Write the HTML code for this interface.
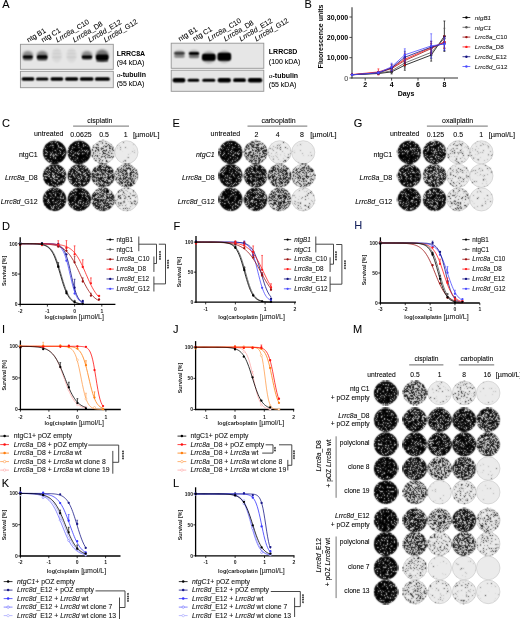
<!DOCTYPE html><html><head><meta charset="utf-8"><title>Figure</title><style>html,body{margin:0;padding:0;background:#fff;width:520px;height:619px;overflow:hidden}svg{display:block}text{font-family:"Liberation Sans",Arial,sans-serif;stroke:#000;stroke-width:0.14px;stroke-opacity:0.5}[font-weight=bold]{stroke:none}</style></head><body>
<svg width="520" height="619" viewBox="0 0 520 619">
<defs><filter id="bc" x="-30%" y="-100%" width="160%" height="300%"><feConvolveMatrix order="3" kernelMatrix="1 2 1 2 4 2 1 2 1"/></filter><filter id="bs" x="-50%" y="-100%" width="200%" height="300%"><feGaussianBlur stdDeviation="1.3"/></filter></defs>
<rect width="520" height="619" fill="#fff"/>
<text x="2.2" y="7.9" font-size="11">A</text>
<rect x="20.4" y="44.3" width="92.9" height="25" fill="#e6e6e6" stroke="#959595" stroke-width="0.9"/>
<rect x="20.4" y="71.3" width="92.9" height="16.4" fill="#e6e6e6" stroke="#959595" stroke-width="0.9"/>
<ellipse cx="27.8" cy="55" rx="5.25" ry="4" fill="#000" opacity="0.4" filter="url(#bs)"/>
<rect x="22.8" y="56.6" width="10" height="4" rx="2" fill="#000" opacity="0.5" filter="url(#bc)"/>
<rect x="22.8" y="55.4" width="10" height="2.8" rx="1.4" fill="#000" opacity="1" filter="url(#bc)"/>
<ellipse cx="42.2" cy="55" rx="5.5" ry="4" fill="#000" opacity="0.45" filter="url(#bs)"/>
<rect x="36.9" y="56.8" width="10.6" height="4" rx="2" fill="#000" opacity="0.55" filter="url(#bc)"/>
<rect x="36.8" y="55.25" width="10.8" height="3.3" rx="1.65" fill="#000" opacity="1" filter="url(#bc)"/>
<ellipse cx="56.8" cy="55.5" rx="5" ry="7" fill="#000" opacity="0.06" filter="url(#bs)"/>
<rect x="51.8" y="56.4" width="10" height="1.6" rx="0.8" fill="#000" opacity="0.05" filter="url(#bc)"/>
<rect x="52.3" y="52.9" width="9" height="1.2" rx="0.6" fill="#000" opacity="0.04" filter="url(#bc)"/>
<rect x="52.3" y="49.9" width="9" height="1.2" rx="0.6" fill="#000" opacity="0.04" filter="url(#bc)"/>
<ellipse cx="71.5" cy="55.5" rx="5" ry="7" fill="#000" opacity="0.06" filter="url(#bs)"/>
<rect x="66.5" y="56.4" width="10" height="1.6" rx="0.8" fill="#000" opacity="0.05" filter="url(#bc)"/>
<rect x="67" y="52.9" width="9" height="1.2" rx="0.6" fill="#000" opacity="0.04" filter="url(#bc)"/>
<rect x="67" y="49.9" width="9" height="1.2" rx="0.6" fill="#000" opacity="0.04" filter="url(#bc)"/>
<ellipse cx="87" cy="55" rx="5.25" ry="4" fill="#000" opacity="0.4" filter="url(#bs)"/>
<rect x="81.9" y="56.7" width="10.2" height="3.4" rx="1.7" fill="#000" opacity="0.35" filter="url(#bc)"/>
<rect x="81.75" y="55.6" width="10.5" height="2.8" rx="1.4" fill="#000" opacity="1" filter="url(#bc)"/>
<ellipse cx="102.2" cy="55.5" rx="6.5" ry="6" fill="#000" opacity="0.5" filter="url(#bs)"/>
<rect x="95.9" y="54.6" width="12.6" height="5.6" rx="2.2" fill="#000" opacity="1" filter="url(#bc)"/>
<rect x="96.2" y="59.5" width="12" height="2.4" rx="1.2" fill="#000" opacity="0.55" filter="url(#bc)"/>
<rect x="21.6" y="77.25" width="12.8" height="3.5" rx="1.75" fill="#000" opacity="1" filter="url(#bc)"/>
<rect x="36" y="77.5" width="12.4" height="3" rx="1.5" fill="#000" opacity="1" filter="url(#bc)"/>
<rect x="50.5" y="77.35" width="12.8" height="3.3" rx="1.65" fill="#000" opacity="1" filter="url(#bc)"/>
<rect x="65" y="77.25" width="13.2" height="3.5" rx="1.75" fill="#000" opacity="1" filter="url(#bc)"/>
<rect x="79.8" y="77.35" width="13.8" height="3.3" rx="1.65" fill="#000" opacity="1" filter="url(#bc)"/>
<rect x="94.9" y="77.15" width="15" height="3.7" rx="1.85" fill="#000" opacity="1" filter="url(#bc)"/>
<text x="116.7" y="55.8" font-size="7" font-weight="bold">LRRC8A</text>
<text x="116.7" y="64.6" font-size="7">(94 kDA)</text>
<text x="116.7" y="77.2" font-size="7" font-weight="bold"><tspan font-family="Liberation Serif" font-weight="normal">α</tspan>-tubulin</text>
<text x="116.7" y="86.2" font-size="7">(55 kDA)</text>
<text x="28.5" y="42.6" font-size="7.2" transform="rotate(-31 28.5 42.6)">ntg B1</text>
<text x="43" y="42.6" font-size="7.2" transform="rotate(-31 43 42.6)">ntg C1</text>
<text x="57.5" y="42.6" font-size="7.2" transform="rotate(-31 57.5 42.6)"><tspan font-style="italic">Lrrc8a</tspan>_C10</text>
<text x="74.5" y="42.6" font-size="7.2" transform="rotate(-31 74.5 42.6)"><tspan font-style="italic">Lrrc8a</tspan>_D8</text>
<text x="90" y="42.6" font-size="7.2" transform="rotate(-31 90 42.6)"><tspan font-style="italic">Lrrc8d</tspan>_E12</text>
<text x="105.5" y="42.6" font-size="7.2" transform="rotate(-31 105.5 42.6)"><tspan font-style="italic">Lrrc8d</tspan>_G12</text>
<rect x="171.2" y="43.2" width="92.6" height="25.1" fill="#e6e6e6" stroke="#959595" stroke-width="0.9"/>
<rect x="171.2" y="70.2" width="92.6" height="21.1" fill="#e6e6e6" stroke="#959595" stroke-width="0.9"/>
<ellipse cx="179.4" cy="53" rx="5.25" ry="3" fill="#000" opacity="0.2" filter="url(#bs)"/>
<rect x="174.1" y="54.4" width="10.6" height="3.6" rx="1.8" fill="#000" opacity="0.35" filter="url(#bc)"/>
<rect x="174.1" y="51.8" width="10.6" height="3" rx="1.5" fill="#000" opacity="0.65" filter="url(#bc)"/>
<ellipse cx="194" cy="53" rx="5.25" ry="3" fill="#000" opacity="0.25" filter="url(#bs)"/>
<rect x="188.8" y="54.7" width="10.4" height="3.6" rx="1.8" fill="#000" opacity="0.45" filter="url(#bc)"/>
<rect x="188.8" y="52.1" width="10.4" height="3" rx="1.5" fill="#000" opacity="0.97" filter="url(#bc)"/>
<ellipse cx="208.8" cy="57.2" rx="7" ry="6" fill="#000" opacity="0.3" filter="url(#bs)"/>
<rect x="202.05" y="53.7" width="13.5" height="7" rx="2.2" fill="#000" opacity="1" filter="url(#bc)"/>
<ellipse cx="224.3" cy="56.7" rx="7" ry="6" fill="#000" opacity="0.3" filter="url(#bs)"/>
<rect x="217.55" y="52.7" width="13.5" height="8" rx="2.2" fill="#000" opacity="1" filter="url(#bc)"/>
<rect x="172.6" y="77.9" width="12.8" height="4.6" rx="2.2" fill="#000" opacity="1" filter="url(#bc)"/>
<rect x="187.6" y="78.7" width="11.6" height="3" rx="1.5" fill="#000" opacity="1" filter="url(#bc)"/>
<rect x="202.3" y="78.65" width="13" height="3.1" rx="1.55" fill="#000" opacity="1" filter="url(#bc)"/>
<rect x="217.65" y="78" width="13.3" height="4.4" rx="2.2" fill="#000" opacity="1" filter="url(#bc)"/>
<rect x="233.1" y="78.35" width="12.8" height="3.7" rx="1.85" fill="#000" opacity="1" filter="url(#bc)"/>
<rect x="247.9" y="77.95" width="14.4" height="4.5" rx="2.2" fill="#000" opacity="1" filter="url(#bc)"/>
<text x="268.8" y="53.8" font-size="7" font-weight="bold">LRRC8D</text>
<text x="268.8" y="63.8" font-size="7">(100 kDA)</text>
<text x="268.8" y="78" font-size="7" font-weight="bold"><tspan font-family="Liberation Serif" font-weight="normal">α</tspan>-tubulin</text>
<text x="268.8" y="86.9" font-size="7">(55 kDA)</text>
<text x="180" y="41.4" font-size="7.2" transform="rotate(-31 180 41.4)">ntg B1</text>
<text x="194.5" y="41.4" font-size="7.2" transform="rotate(-31 194.5 41.4)">ntg C1</text>
<text x="209.5" y="41.4" font-size="7.2" transform="rotate(-31 209.5 41.4)"><tspan font-style="italic">Lrrc8a</tspan>_C10</text>
<text x="225.5" y="41.4" font-size="7.2" transform="rotate(-31 225.5 41.4)"><tspan font-style="italic">Lrrc8a</tspan>_D8</text>
<text x="241" y="41.4" font-size="7.2" transform="rotate(-31 241 41.4)"><tspan font-style="italic">Lrrc8d</tspan>_E12</text>
<text x="256.5" y="41.4" font-size="7.2" transform="rotate(-31 256.5 41.4)"><tspan font-style="italic">Lrrc8d</tspan>_G12</text>
<text x="304.6" y="7.6" font-size="11">B</text>
<line x1="352" y1="7.3" x2="352" y2="78.4" stroke="#333" stroke-width="1.1" />
<line x1="351.5" y1="78" x2="458" y2="78" stroke="#333" stroke-width="1.1" />
<line x1="349.4" y1="17" x2="352" y2="17" stroke="#333" stroke-width="0.9" />
<text x="348.2" y="19.5" font-size="7" text-anchor="end" font-weight="bold">30,000</text>
<line x1="349.4" y1="37.4" x2="352" y2="37.4" stroke="#333" stroke-width="0.9" />
<text x="348.2" y="39.9" font-size="7" text-anchor="end" font-weight="bold">20,000</text>
<line x1="349.4" y1="57.7" x2="352" y2="57.7" stroke="#333" stroke-width="0.9" />
<text x="348.2" y="60.2" font-size="7" text-anchor="end" font-weight="bold">10,000</text>
<line x1="349.4" y1="78" x2="352" y2="78" stroke="#333" stroke-width="0.9" />
<text x="348.2" y="80.5" font-size="7" text-anchor="end" fill="#555">0</text>
<line x1="365.2" y1="78" x2="365.2" y2="80.6" stroke="#333" stroke-width="0.9" />
<text x="365.2" y="87.2" font-size="7" text-anchor="middle" font-weight="bold">2</text>
<line x1="391.6" y1="78" x2="391.6" y2="80.6" stroke="#333" stroke-width="0.9" />
<text x="391.6" y="87.2" font-size="7" text-anchor="middle" font-weight="bold">4</text>
<line x1="418" y1="78" x2="418" y2="80.6" stroke="#333" stroke-width="0.9" />
<text x="418" y="87.2" font-size="7" text-anchor="middle" font-weight="bold">6</text>
<line x1="444.4" y1="78" x2="444.4" y2="80.6" stroke="#333" stroke-width="0.9" />
<text x="444.4" y="87.2" font-size="7" text-anchor="middle" font-weight="bold">8</text>
<text x="406" y="96.4" font-size="7" text-anchor="middle" font-weight="bold">Days</text>
<text x="323.4" y="36.5" font-size="7" text-anchor="middle" font-weight="bold" transform="rotate(-90 323.4 36.5)">Fluorescence units</text>
<line x1="378.4" y1="72.52" x2="378.4" y2="74.55" stroke="#000000" stroke-width="0.7" />
<line x1="377.4" y1="72.52" x2="379.4" y2="72.52" stroke="#000000" stroke-width="0.6" />
<line x1="377.4" y1="74.55" x2="379.4" y2="74.55" stroke="#000000" stroke-width="0.6" />
<line x1="391.6" y1="69.88" x2="391.6" y2="73.94" stroke="#000000" stroke-width="0.7" />
<line x1="390.6" y1="69.88" x2="392.6" y2="69.88" stroke="#000000" stroke-width="0.6" />
<line x1="390.6" y1="73.94" x2="392.6" y2="73.94" stroke="#000000" stroke-width="0.6" />
<line x1="404.8" y1="60.14" x2="404.8" y2="70.29" stroke="#000000" stroke-width="0.7" />
<line x1="403.8" y1="60.14" x2="405.8" y2="60.14" stroke="#000000" stroke-width="0.6" />
<line x1="403.8" y1="70.29" x2="405.8" y2="70.29" stroke="#000000" stroke-width="0.6" />
<line x1="431.2" y1="48.97" x2="431.2" y2="61.15" stroke="#000000" stroke-width="0.7" />
<line x1="430.2" y1="48.97" x2="432.2" y2="48.97" stroke="#000000" stroke-width="0.6" />
<line x1="430.2" y1="61.15" x2="432.2" y2="61.15" stroke="#000000" stroke-width="0.6" />
<line x1="444.4" y1="20.96" x2="444.4" y2="51.41" stroke="#000000" stroke-width="0.7" />
<line x1="443.4" y1="20.96" x2="445.4" y2="20.96" stroke="#000000" stroke-width="0.6" />
<line x1="443.4" y1="51.41" x2="445.4" y2="51.41" stroke="#000000" stroke-width="0.6" />
<polyline points="352,74.75 378.4,73.53 391.6,71.91 404.8,65.21 431.2,55.06 444.4,36.18" fill="none" stroke="#000000" stroke-width="0.8" />
<circle cx="352" cy="74.75" r="1.2" fill="#000000"/>
<circle cx="378.4" cy="73.53" r="1.2" fill="#000000"/>
<circle cx="391.6" cy="71.91" r="1.2" fill="#000000"/>
<circle cx="404.8" cy="65.21" r="1.2" fill="#000000"/>
<circle cx="431.2" cy="55.06" r="1.2" fill="#000000"/>
<circle cx="444.4" cy="36.18" r="1.2" fill="#000000"/>
<line x1="378.4" y1="72.11" x2="378.4" y2="74.14" stroke="#555555" stroke-width="0.7" />
<line x1="377.4" y1="72.11" x2="379.4" y2="72.11" stroke="#555555" stroke-width="0.6" />
<line x1="377.4" y1="74.14" x2="379.4" y2="74.14" stroke="#555555" stroke-width="0.6" />
<line x1="391.6" y1="68.86" x2="391.6" y2="72.92" stroke="#555555" stroke-width="0.7" />
<line x1="390.6" y1="68.86" x2="392.6" y2="68.86" stroke="#555555" stroke-width="0.6" />
<line x1="390.6" y1="72.92" x2="392.6" y2="72.92" stroke="#555555" stroke-width="0.6" />
<line x1="404.8" y1="57.9" x2="404.8" y2="68.05" stroke="#555555" stroke-width="0.7" />
<line x1="403.8" y1="57.9" x2="405.8" y2="57.9" stroke="#555555" stroke-width="0.6" />
<line x1="403.8" y1="68.05" x2="405.8" y2="68.05" stroke="#555555" stroke-width="0.6" />
<line x1="431.2" y1="46.33" x2="431.2" y2="58.51" stroke="#555555" stroke-width="0.7" />
<line x1="430.2" y1="46.33" x2="432.2" y2="46.33" stroke="#555555" stroke-width="0.6" />
<line x1="430.2" y1="58.51" x2="432.2" y2="58.51" stroke="#555555" stroke-width="0.6" />
<line x1="444.4" y1="28.27" x2="444.4" y2="48.57" stroke="#555555" stroke-width="0.7" />
<line x1="443.4" y1="28.27" x2="445.4" y2="28.27" stroke="#555555" stroke-width="0.6" />
<line x1="443.4" y1="48.57" x2="445.4" y2="48.57" stroke="#555555" stroke-width="0.6" />
<polyline points="352,74.75 378.4,73.13 391.6,70.89 404.8,62.98 431.2,52.42 444.4,38.42" fill="none" stroke="#555555" stroke-width="0.8" />
<circle cx="352" cy="74.75" r="1.2" fill="#555555"/>
<circle cx="378.4" cy="73.13" r="1.2" fill="#555555"/>
<circle cx="391.6" cy="70.89" r="1.2" fill="#555555"/>
<circle cx="404.8" cy="62.98" r="1.2" fill="#555555"/>
<circle cx="431.2" cy="52.42" r="1.2" fill="#555555"/>
<circle cx="444.4" cy="38.42" r="1.2" fill="#555555"/>
<line x1="378.4" y1="71.5" x2="378.4" y2="73.53" stroke="#9b1111" stroke-width="0.7" />
<line x1="377.4" y1="71.5" x2="379.4" y2="71.5" stroke="#9b1111" stroke-width="0.6" />
<line x1="377.4" y1="73.53" x2="379.4" y2="73.53" stroke="#9b1111" stroke-width="0.6" />
<line x1="391.6" y1="66.23" x2="391.6" y2="71.1" stroke="#9b1111" stroke-width="0.7" />
<line x1="390.6" y1="66.23" x2="392.6" y2="66.23" stroke="#9b1111" stroke-width="0.6" />
<line x1="390.6" y1="71.1" x2="392.6" y2="71.1" stroke="#9b1111" stroke-width="0.6" />
<line x1="404.8" y1="55.47" x2="404.8" y2="65.62" stroke="#9b1111" stroke-width="0.7" />
<line x1="403.8" y1="55.47" x2="405.8" y2="55.47" stroke="#9b1111" stroke-width="0.6" />
<line x1="403.8" y1="65.62" x2="405.8" y2="65.62" stroke="#9b1111" stroke-width="0.6" />
<line x1="431.2" y1="43.49" x2="431.2" y2="53.64" stroke="#9b1111" stroke-width="0.7" />
<line x1="430.2" y1="43.49" x2="432.2" y2="43.49" stroke="#9b1111" stroke-width="0.6" />
<line x1="430.2" y1="53.64" x2="432.2" y2="53.64" stroke="#9b1111" stroke-width="0.6" />
<line x1="444.4" y1="35.78" x2="444.4" y2="47.96" stroke="#9b1111" stroke-width="0.7" />
<line x1="443.4" y1="35.78" x2="445.4" y2="35.78" stroke="#9b1111" stroke-width="0.6" />
<line x1="443.4" y1="47.96" x2="445.4" y2="47.96" stroke="#9b1111" stroke-width="0.6" />
<polyline points="352,74.75 378.4,72.52 391.6,68.66 404.8,60.54 431.2,48.56 444.4,41.87" fill="none" stroke="#9b1111" stroke-width="0.8" />
<circle cx="352" cy="74.75" r="1.2" fill="#9b1111"/>
<circle cx="378.4" cy="72.52" r="1.2" fill="#9b1111"/>
<circle cx="391.6" cy="68.66" r="1.2" fill="#9b1111"/>
<circle cx="404.8" cy="60.54" r="1.2" fill="#9b1111"/>
<circle cx="431.2" cy="48.56" r="1.2" fill="#9b1111"/>
<circle cx="444.4" cy="41.87" r="1.2" fill="#9b1111"/>
<line x1="378.4" y1="68.86" x2="378.4" y2="74.95" stroke="#ff1a1a" stroke-width="0.7" />
<line x1="377.4" y1="68.86" x2="379.4" y2="68.86" stroke="#ff1a1a" stroke-width="0.6" />
<line x1="377.4" y1="74.95" x2="379.4" y2="74.95" stroke="#ff1a1a" stroke-width="0.6" />
<line x1="391.6" y1="64.8" x2="391.6" y2="70.89" stroke="#ff1a1a" stroke-width="0.7" />
<line x1="390.6" y1="64.8" x2="392.6" y2="64.8" stroke="#ff1a1a" stroke-width="0.6" />
<line x1="390.6" y1="70.89" x2="392.6" y2="70.89" stroke="#ff1a1a" stroke-width="0.6" />
<line x1="404.8" y1="53.23" x2="404.8" y2="65.41" stroke="#ff1a1a" stroke-width="0.7" />
<line x1="403.8" y1="53.23" x2="405.8" y2="53.23" stroke="#ff1a1a" stroke-width="0.6" />
<line x1="403.8" y1="65.41" x2="405.8" y2="65.41" stroke="#ff1a1a" stroke-width="0.6" />
<line x1="431.2" y1="41.46" x2="431.2" y2="53.64" stroke="#ff1a1a" stroke-width="0.7" />
<line x1="430.2" y1="41.46" x2="432.2" y2="41.46" stroke="#ff1a1a" stroke-width="0.6" />
<line x1="430.2" y1="53.64" x2="432.2" y2="53.64" stroke="#ff1a1a" stroke-width="0.6" />
<line x1="444.4" y1="36.18" x2="444.4" y2="48.36" stroke="#ff1a1a" stroke-width="0.7" />
<line x1="443.4" y1="36.18" x2="445.4" y2="36.18" stroke="#ff1a1a" stroke-width="0.6" />
<line x1="443.4" y1="48.36" x2="445.4" y2="48.36" stroke="#ff1a1a" stroke-width="0.6" />
<polyline points="352,74.55 378.4,71.91 391.6,67.85 404.8,59.32 431.2,47.55 444.4,42.27" fill="none" stroke="#ff1a1a" stroke-width="0.8" />
<circle cx="352" cy="74.55" r="1.2" fill="#ff1a1a"/>
<circle cx="378.4" cy="71.91" r="1.2" fill="#ff1a1a"/>
<circle cx="391.6" cy="67.85" r="1.2" fill="#ff1a1a"/>
<circle cx="404.8" cy="59.32" r="1.2" fill="#ff1a1a"/>
<circle cx="431.2" cy="47.55" r="1.2" fill="#ff1a1a"/>
<circle cx="444.4" cy="42.27" r="1.2" fill="#ff1a1a"/>
<line x1="378.4" y1="71.91" x2="378.4" y2="73.94" stroke="#101080" stroke-width="0.7" />
<line x1="377.4" y1="71.91" x2="379.4" y2="71.91" stroke="#101080" stroke-width="0.6" />
<line x1="377.4" y1="73.94" x2="379.4" y2="73.94" stroke="#101080" stroke-width="0.6" />
<line x1="391.6" y1="64.2" x2="391.6" y2="71.5" stroke="#101080" stroke-width="0.7" />
<line x1="390.6" y1="64.2" x2="392.6" y2="64.2" stroke="#101080" stroke-width="0.6" />
<line x1="390.6" y1="71.5" x2="392.6" y2="71.5" stroke="#101080" stroke-width="0.6" />
<line x1="404.8" y1="51.2" x2="404.8" y2="63.38" stroke="#101080" stroke-width="0.7" />
<line x1="403.8" y1="51.2" x2="405.8" y2="51.2" stroke="#101080" stroke-width="0.6" />
<line x1="403.8" y1="63.38" x2="405.8" y2="63.38" stroke="#101080" stroke-width="0.6" />
<line x1="431.2" y1="41.05" x2="431.2" y2="53.23" stroke="#101080" stroke-width="0.7" />
<line x1="430.2" y1="41.05" x2="432.2" y2="41.05" stroke="#101080" stroke-width="0.6" />
<line x1="430.2" y1="53.23" x2="432.2" y2="53.23" stroke="#101080" stroke-width="0.6" />
<line x1="444.4" y1="36.39" x2="444.4" y2="50.59" stroke="#101080" stroke-width="0.7" />
<line x1="443.4" y1="36.39" x2="445.4" y2="36.39" stroke="#101080" stroke-width="0.6" />
<line x1="443.4" y1="50.59" x2="445.4" y2="50.59" stroke="#101080" stroke-width="0.6" />
<polyline points="352,74.75 378.4,72.92 391.6,67.85 404.8,57.29 431.2,47.14 444.4,43.49" fill="none" stroke="#101080" stroke-width="0.8" />
<circle cx="352" cy="74.75" r="1.2" fill="#101080"/>
<circle cx="378.4" cy="72.92" r="1.2" fill="#101080"/>
<circle cx="391.6" cy="67.85" r="1.2" fill="#101080"/>
<circle cx="404.8" cy="57.29" r="1.2" fill="#101080"/>
<circle cx="431.2" cy="47.14" r="1.2" fill="#101080"/>
<circle cx="444.4" cy="43.49" r="1.2" fill="#101080"/>
<line x1="378.4" y1="71.71" x2="378.4" y2="73.74" stroke="#4a4aff" stroke-width="0.7" />
<line x1="377.4" y1="71.71" x2="379.4" y2="71.71" stroke="#4a4aff" stroke-width="0.6" />
<line x1="377.4" y1="73.74" x2="379.4" y2="73.74" stroke="#4a4aff" stroke-width="0.6" />
<line x1="391.6" y1="63.18" x2="391.6" y2="70.49" stroke="#4a4aff" stroke-width="0.7" />
<line x1="390.6" y1="63.18" x2="392.6" y2="63.18" stroke="#4a4aff" stroke-width="0.6" />
<line x1="390.6" y1="70.49" x2="392.6" y2="70.49" stroke="#4a4aff" stroke-width="0.6" />
<line x1="404.8" y1="48.77" x2="404.8" y2="60.95" stroke="#4a4aff" stroke-width="0.7" />
<line x1="403.8" y1="48.77" x2="405.8" y2="48.77" stroke="#4a4aff" stroke-width="0.6" />
<line x1="403.8" y1="60.95" x2="405.8" y2="60.95" stroke="#4a4aff" stroke-width="0.6" />
<line x1="431.2" y1="33.75" x2="431.2" y2="58.11" stroke="#4a4aff" stroke-width="0.7" />
<line x1="430.2" y1="33.75" x2="432.2" y2="33.75" stroke="#4a4aff" stroke-width="0.6" />
<line x1="430.2" y1="58.11" x2="432.2" y2="58.11" stroke="#4a4aff" stroke-width="0.6" />
<line x1="444.4" y1="37.81" x2="444.4" y2="49.99" stroke="#4a4aff" stroke-width="0.7" />
<line x1="443.4" y1="37.81" x2="445.4" y2="37.81" stroke="#4a4aff" stroke-width="0.6" />
<line x1="443.4" y1="49.99" x2="445.4" y2="49.99" stroke="#4a4aff" stroke-width="0.6" />
<polyline points="352,74.75 378.4,72.72 391.6,66.84 404.8,54.86 431.2,45.93 444.4,43.9" fill="none" stroke="#4a4aff" stroke-width="0.8" />
<circle cx="352" cy="74.75" r="1.2" fill="#4a4aff"/>
<circle cx="378.4" cy="72.72" r="1.2" fill="#4a4aff"/>
<circle cx="391.6" cy="66.84" r="1.2" fill="#4a4aff"/>
<circle cx="404.8" cy="54.86" r="1.2" fill="#4a4aff"/>
<circle cx="431.2" cy="45.93" r="1.2" fill="#4a4aff"/>
<circle cx="444.4" cy="43.9" r="1.2" fill="#4a4aff"/>
<line x1="462.5" y1="17.5" x2="470.3" y2="17.5" stroke="#000000" stroke-width="0.8" />
<circle cx="466.4" cy="17.5" r="1.2" fill="#000000"/>
<text x="474.8" y="19.7" font-size="6.2" fill="#222"><tspan font-style="italic">ntgB1</tspan></text>
<line x1="462.5" y1="27.3" x2="470.3" y2="27.3" stroke="#555555" stroke-width="0.8" />
<circle cx="466.4" cy="27.3" r="1.2" fill="#555555"/>
<text x="474.8" y="29.5" font-size="6.2" fill="#222"><tspan font-style="italic">ntgC1</tspan></text>
<line x1="462.5" y1="37.1" x2="470.3" y2="37.1" stroke="#9b1111" stroke-width="0.8" />
<circle cx="466.4" cy="37.1" r="1.2" fill="#9b1111"/>
<text x="474.8" y="39.3" font-size="6.2" fill="#222"><tspan font-style="italic">Lrrc8a</tspan>_C10</text>
<line x1="462.5" y1="46.9" x2="470.3" y2="46.9" stroke="#ff1a1a" stroke-width="0.8" />
<circle cx="466.4" cy="46.9" r="1.2" fill="#ff1a1a"/>
<text x="474.8" y="49.1" font-size="6.2" fill="#222"><tspan font-style="italic">Lrrc8a</tspan>_D8</text>
<line x1="462.5" y1="56.7" x2="470.3" y2="56.7" stroke="#101080" stroke-width="0.8" />
<circle cx="466.4" cy="56.7" r="1.2" fill="#101080"/>
<text x="474.8" y="58.9" font-size="6.2" fill="#222"><tspan font-style="italic">Lrrc8d</tspan>_E12</text>
<line x1="462.5" y1="66.5" x2="470.3" y2="66.5" stroke="#4a4aff" stroke-width="0.8" />
<circle cx="466.4" cy="66.5" r="1.2" fill="#4a4aff"/>
<text x="474.8" y="68.7" font-size="6.2" fill="#222"><tspan font-style="italic">Lrrc8d</tspan>_G12</text>
<text x="2" y="127" font-size="11">C</text>
<text x="48.7" y="135.8" font-size="7" text-anchor="middle">untreated</text>
<text x="81" y="136.6" font-size="7" text-anchor="middle">0.0625</text>
<text x="104" y="136.6" font-size="7" text-anchor="middle">0.5</text>
<text x="125.6" y="136.6" font-size="7" text-anchor="middle">1</text>
<text x="133" y="136.6" font-size="7.4">[µmol/L]</text>
<text x="99.8" y="122.9" font-size="7" text-anchor="middle">cisplatin</text>
<line x1="73.1" y1="126.1" x2="129" y2="126.1" stroke="#333" stroke-width="0.7" />
<text x="37.6" y="156.7" font-size="7" text-anchor="end">ntgC1</text>
<text x="37.6" y="180.2" font-size="7" text-anchor="end"><tspan font-style="italic">Lrrc8a</tspan>_D8</text>
<text x="37.6" y="203.8" font-size="7" text-anchor="end"><tspan font-style="italic">Lrrc8d</tspan>_G12</text>
<circle cx="54.6" cy="152.3" r="11.6" fill="#ebebeb" stroke="#bdbdbd" stroke-width="0.5"/>
<circle cx="54.6" cy="152.3" r="11.6" fill="#1a1a1a" filter="url(#w0)"/>
<circle cx="79.3" cy="152.3" r="11.6" fill="#ebebeb" stroke="#bdbdbd" stroke-width="0.5"/>
<circle cx="79.3" cy="152.3" r="11.6" fill="#1a1a1a" filter="url(#w1)"/>
<circle cx="103" cy="152.3" r="11.6" fill="#ebebeb" stroke="#bdbdbd" stroke-width="0.5"/>
<circle cx="103" cy="152.3" r="11.6" fill="#1a1a1a" filter="url(#w2)"/>
<circle cx="126.4" cy="152.3" r="11.6" fill="#ebebeb" stroke="#bdbdbd" stroke-width="0.5"/>
<circle cx="126.4" cy="152.3" r="11.6" fill="#1a1a1a" filter="url(#w3)"/>
<circle cx="54.6" cy="175.8" r="11.6" fill="#ebebeb" stroke="#bdbdbd" stroke-width="0.5"/>
<circle cx="54.6" cy="175.8" r="11.6" fill="#1a1a1a" filter="url(#w4)"/>
<circle cx="79.3" cy="175.8" r="11.6" fill="#ebebeb" stroke="#bdbdbd" stroke-width="0.5"/>
<circle cx="79.3" cy="175.8" r="11.6" fill="#1a1a1a" filter="url(#w4)"/>
<circle cx="103" cy="175.8" r="11.6" fill="#ebebeb" stroke="#bdbdbd" stroke-width="0.5"/>
<circle cx="103" cy="175.8" r="11.6" fill="#1a1a1a" filter="url(#w5)"/>
<circle cx="126.4" cy="175.8" r="11.6" fill="#ebebeb" stroke="#bdbdbd" stroke-width="0.5"/>
<circle cx="126.4" cy="175.8" r="11.6" fill="#1a1a1a" filter="url(#w6)"/>
<circle cx="54.6" cy="199.4" r="11.6" fill="#ebebeb" stroke="#bdbdbd" stroke-width="0.5"/>
<circle cx="54.6" cy="199.4" r="11.6" fill="#1a1a1a" filter="url(#w0)"/>
<circle cx="79.3" cy="199.4" r="11.6" fill="#ebebeb" stroke="#bdbdbd" stroke-width="0.5"/>
<circle cx="79.3" cy="199.4" r="11.6" fill="#1a1a1a" filter="url(#w7)"/>
<circle cx="103" cy="199.4" r="11.6" fill="#ebebeb" stroke="#bdbdbd" stroke-width="0.5"/>
<circle cx="103" cy="199.4" r="11.6" fill="#1a1a1a" filter="url(#w8)"/>
<circle cx="126.4" cy="199.4" r="11.6" fill="#ebebeb" stroke="#bdbdbd" stroke-width="0.5"/>
<circle cx="126.4" cy="199.4" r="11.6" fill="#1a1a1a" filter="url(#w9)"/>
<text x="172.5" y="127" font-size="11">E</text>
<text x="225.4" y="135.8" font-size="7" text-anchor="middle">untreated</text>
<text x="256.5" y="136.6" font-size="7" text-anchor="middle">2</text>
<text x="277.7" y="136.6" font-size="7" text-anchor="middle">4</text>
<text x="302" y="136.6" font-size="7" text-anchor="middle">8</text>
<text x="310.2" y="136.6" font-size="7.4">[µmol/L]</text>
<text x="278.5" y="122.9" font-size="7" text-anchor="middle">carboplatin</text>
<line x1="247.5" y1="126.1" x2="307.3" y2="126.1" stroke="#333" stroke-width="0.7" />
<text x="214.6" y="156.7" font-size="7" text-anchor="end"><tspan font-style="italic">ntgC1</tspan></text>
<text x="214.6" y="180.2" font-size="7" text-anchor="end"><tspan font-style="italic">Lrrc8a</tspan>_D8</text>
<text x="214.6" y="203.8" font-size="7" text-anchor="end"><tspan font-style="italic">Lrrc8d</tspan>_G12</text>
<circle cx="230.8" cy="152.3" r="11.6" fill="#ebebeb" stroke="#bdbdbd" stroke-width="0.5"/>
<circle cx="230.8" cy="152.3" r="11.6" fill="#1a1a1a" filter="url(#w0)"/>
<circle cx="255.7" cy="152.3" r="11.6" fill="#ebebeb" stroke="#bdbdbd" stroke-width="0.5"/>
<circle cx="255.7" cy="152.3" r="11.6" fill="#1a1a1a" filter="url(#w10)"/>
<circle cx="279.6" cy="152.3" r="11.6" fill="#ebebeb" stroke="#bdbdbd" stroke-width="0.5"/>
<circle cx="279.6" cy="152.3" r="11.6" fill="#1a1a1a" filter="url(#w11)"/>
<circle cx="303.2" cy="152.3" r="11.6" fill="#ebebeb" stroke="#bdbdbd" stroke-width="0.5"/>
<circle cx="303.2" cy="152.3" r="11.6" fill="#1a1a1a" filter="url(#w12)"/>
<circle cx="230.8" cy="175.8" r="11.6" fill="#ebebeb" stroke="#bdbdbd" stroke-width="0.5"/>
<circle cx="230.8" cy="175.8" r="11.6" fill="#1a1a1a" filter="url(#w7)"/>
<circle cx="255.7" cy="175.8" r="11.6" fill="#ebebeb" stroke="#bdbdbd" stroke-width="0.5"/>
<circle cx="255.7" cy="175.8" r="11.6" fill="#1a1a1a" filter="url(#w13)"/>
<circle cx="279.6" cy="175.8" r="11.6" fill="#ebebeb" stroke="#bdbdbd" stroke-width="0.5"/>
<circle cx="279.6" cy="175.8" r="11.6" fill="#1a1a1a" filter="url(#w10)"/>
<circle cx="303.2" cy="175.8" r="11.6" fill="#ebebeb" stroke="#bdbdbd" stroke-width="0.5"/>
<circle cx="303.2" cy="175.8" r="11.6" fill="#1a1a1a" filter="url(#w14)"/>
<circle cx="230.8" cy="199.4" r="11.6" fill="#ebebeb" stroke="#bdbdbd" stroke-width="0.5"/>
<circle cx="230.8" cy="199.4" r="11.6" fill="#1a1a1a" filter="url(#w0)"/>
<circle cx="255.7" cy="199.4" r="11.6" fill="#ebebeb" stroke="#bdbdbd" stroke-width="0.5"/>
<circle cx="255.7" cy="199.4" r="11.6" fill="#1a1a1a" filter="url(#w15)"/>
<circle cx="279.6" cy="199.4" r="11.6" fill="#ebebeb" stroke="#bdbdbd" stroke-width="0.5"/>
<circle cx="279.6" cy="199.4" r="11.6" fill="#1a1a1a" filter="url(#w16)"/>
<circle cx="303.2" cy="199.4" r="11.6" fill="#ebebeb" stroke="#bdbdbd" stroke-width="0.5"/>
<circle cx="303.2" cy="199.4" r="11.6" fill="#1a1a1a" filter="url(#w17)"/>
<text x="353.8" y="127" font-size="11">G</text>
<text x="404.7" y="135.8" font-size="7" text-anchor="middle">untreated</text>
<text x="435.4" y="136.6" font-size="7" text-anchor="middle">0.125</text>
<text x="458.2" y="136.6" font-size="7" text-anchor="middle">0.5</text>
<text x="481.3" y="136.6" font-size="7" text-anchor="middle">1</text>
<text x="488.7" y="136.6" font-size="7.4">[µmol/L]</text>
<text x="457.6" y="122.9" font-size="7" text-anchor="middle">oxaliplatin</text>
<line x1="426.9" y1="126.1" x2="487.8" y2="126.1" stroke="#333" stroke-width="0.7" />
<text x="392.2" y="156.7" font-size="7" text-anchor="end">ntgC1</text>
<text x="392.2" y="180.2" font-size="7" text-anchor="end"><tspan font-style="italic">Lrrc8a</tspan>_D8</text>
<text x="392.2" y="203.8" font-size="7" text-anchor="end"><tspan font-style="italic">Lrrc8d</tspan>_G12</text>
<circle cx="409.3" cy="152.3" r="11.6" fill="#ebebeb" stroke="#bdbdbd" stroke-width="0.5"/>
<circle cx="409.3" cy="152.3" r="11.6" fill="#1a1a1a" filter="url(#w0)"/>
<circle cx="434.6" cy="152.3" r="11.6" fill="#ebebeb" stroke="#bdbdbd" stroke-width="0.5"/>
<circle cx="434.6" cy="152.3" r="11.6" fill="#1a1a1a" filter="url(#w18)"/>
<circle cx="458.2" cy="152.3" r="11.6" fill="#ebebeb" stroke="#bdbdbd" stroke-width="0.5"/>
<circle cx="458.2" cy="152.3" r="11.6" fill="#1a1a1a" filter="url(#w19)"/>
<circle cx="481.4" cy="152.3" r="11.6" fill="#ebebeb" stroke="#bdbdbd" stroke-width="0.5"/>
<circle cx="481.4" cy="152.3" r="11.6" fill="#1a1a1a" filter="url(#w20)"/>
<circle cx="409.3" cy="175.8" r="11.6" fill="#ebebeb" stroke="#bdbdbd" stroke-width="0.5"/>
<circle cx="409.3" cy="175.8" r="11.6" fill="#1a1a1a" filter="url(#w21)"/>
<circle cx="434.6" cy="175.8" r="11.6" fill="#ebebeb" stroke="#bdbdbd" stroke-width="0.5"/>
<circle cx="434.6" cy="175.8" r="11.6" fill="#1a1a1a" filter="url(#w22)"/>
<circle cx="458.2" cy="175.8" r="11.6" fill="#ebebeb" stroke="#bdbdbd" stroke-width="0.5"/>
<circle cx="458.2" cy="175.8" r="11.6" fill="#1a1a1a" filter="url(#w19)"/>
<circle cx="481.4" cy="175.8" r="11.6" fill="#ebebeb" stroke="#bdbdbd" stroke-width="0.5"/>
<circle cx="481.4" cy="175.8" r="11.6" fill="#1a1a1a" filter="url(#w11)"/>
<circle cx="409.3" cy="199.4" r="11.6" fill="#ebebeb" stroke="#bdbdbd" stroke-width="0.5"/>
<circle cx="409.3" cy="199.4" r="11.6" fill="#1a1a1a" filter="url(#w0)"/>
<circle cx="434.6" cy="199.4" r="11.6" fill="#ebebeb" stroke="#bdbdbd" stroke-width="0.5"/>
<circle cx="434.6" cy="199.4" r="11.6" fill="#1a1a1a" filter="url(#w18)"/>
<circle cx="458.2" cy="199.4" r="11.6" fill="#ebebeb" stroke="#bdbdbd" stroke-width="0.5"/>
<circle cx="458.2" cy="199.4" r="11.6" fill="#1a1a1a" filter="url(#w23)"/>
<circle cx="481.4" cy="199.4" r="11.6" fill="#ebebeb" stroke="#bdbdbd" stroke-width="0.5"/>
<circle cx="481.4" cy="199.4" r="11.6" fill="#1a1a1a" filter="url(#w24)"/>
<text x="2" y="229.6" font-size="11">D</text>
<line x1="20.2" y1="237.2" x2="20.2" y2="305" stroke="#000" stroke-width="1.3" />
<line x1="19.6" y1="304.4" x2="115.4" y2="304.4" stroke="#000" stroke-width="1.3" />
<line x1="18" y1="243.7" x2="20.2" y2="243.7" stroke="#000" stroke-width="0.8" />
<text x="17.6" y="245.5" font-size="5" text-anchor="end" font-weight="bold" fill="#222">100</text>
<line x1="18" y1="274.05" x2="20.2" y2="274.05" stroke="#000" stroke-width="0.8" />
<text x="17.6" y="275.85" font-size="5" text-anchor="end" font-weight="bold" fill="#222">50</text>
<line x1="18" y1="304.4" x2="20.2" y2="304.4" stroke="#000" stroke-width="0.8" />
<text x="17.6" y="306.2" font-size="5" text-anchor="end" font-weight="bold" fill="#222">0</text>
<line x1="20.2" y1="304.4" x2="20.2" y2="306.6" stroke="#000" stroke-width="0.8" />
<text x="20.2" y="312.8" font-size="5" text-anchor="middle" font-weight="bold" fill="#222">-2</text>
<line x1="47.4" y1="304.4" x2="47.4" y2="306.6" stroke="#000" stroke-width="0.8" />
<text x="47.4" y="312.8" font-size="5" text-anchor="middle" font-weight="bold" fill="#222">-1</text>
<line x1="74.6" y1="304.4" x2="74.6" y2="306.6" stroke="#000" stroke-width="0.8" />
<text x="74.6" y="312.8" font-size="5" text-anchor="middle" font-weight="bold" fill="#222">0</text>
<line x1="101.8" y1="304.4" x2="101.8" y2="306.6" stroke="#000" stroke-width="0.8" />
<text x="101.8" y="312.8" font-size="5" text-anchor="middle" font-weight="bold" fill="#222">1</text>
<text x="6.2" y="270.9" font-size="5.3" text-anchor="middle" font-weight="bold" fill="#222" transform="rotate(-90 6.2 270.9)">Survival [%]</text>
<text x="74.2" y="319.1" font-size="5.5" text-anchor="middle" fill="#222"><tspan font-weight="bold">log(cisplatin</tspan><tspan font-size="7"> [µmol/L]</tspan></text>
<polyline points="20.2,243.7 20.98,243.7 21.76,243.7 22.55,243.7 23.33,243.7 24.11,243.7 24.89,243.7 25.67,243.7 26.46,243.7 27.24,243.7 28.02,243.7 28.8,243.7 29.58,243.7 30.37,243.7 31.15,243.7 31.93,243.7 32.71,243.7 33.49,243.7 34.28,243.7 35.06,243.7 35.84,243.7 36.62,243.7 37.4,243.71 38.19,243.71 38.97,243.71 39.75,243.71 40.53,243.71 41.31,243.72 42.1,243.72 42.88,243.72 43.66,243.73 44.44,243.74 45.22,243.75 46.01,243.76 46.79,243.78 47.57,243.8 48.35,243.82 49.13,243.85 49.92,243.89 50.7,243.94 51.48,243.99 52.26,244.07 53.04,244.16 53.83,244.28 54.61,244.42 55.39,244.6 56.17,244.82 56.95,245.1 57.74,245.44 58.52,245.86 59.3,246.39 60.08,247.03 60.86,247.81 61.65,248.76 62.43,249.91 63.21,251.28 63.99,252.9 64.77,254.8 65.56,256.99 66.34,259.47 67.12,262.23 67.9,265.25 68.68,268.47 69.47,271.83 70.25,275.24 71.03,278.62 71.81,281.89 72.59,284.97 73.38,287.82 74.16,290.39 74.94,292.67 75.72,294.65 76.5,296.36 77.29,297.8 78.07,299.01 78.85,300.02 79.63,300.85 80.41,301.53 81.2,302.09 81.98,302.54 82.76,302.91" fill="none" stroke="#4a4aff" stroke-width="0.8" />
<circle cx="20.2" cy="243.09" r="1.15" fill="#4a4aff"/>
<circle cx="41.96" cy="243.09" r="1.15" fill="#4a4aff"/>
<circle cx="58.28" cy="245.78" r="1.15" fill="#4a4aff"/>
<circle cx="66.44" cy="260.68" r="1.15" fill="#4a4aff"/>
<line x1="74.6" y1="289.89" x2="74.6" y2="293.53" stroke="#4a4aff" stroke-width="0.7" />
<line x1="73.7" y1="289.89" x2="75.5" y2="289.89" stroke="#4a4aff" stroke-width="0.6" />
<circle cx="74.6" cy="293.53" r="1.15" fill="#4a4aff"/>
<circle cx="82.76" cy="302.31" r="1.15" fill="#4a4aff"/>
<polyline points="20.2,243.7 20.98,243.7 21.76,243.7 22.55,243.7 23.33,243.7 24.11,243.7 24.89,243.7 25.67,243.7 26.46,243.7 27.24,243.7 28.02,243.7 28.8,243.7 29.58,243.7 30.37,243.7 31.15,243.7 31.93,243.7 32.71,243.7 33.49,243.7 34.28,243.7 35.06,243.7 35.84,243.7 36.62,243.7 37.4,243.7 38.19,243.7 38.97,243.7 39.75,243.71 40.53,243.71 41.31,243.71 42.1,243.71 42.88,243.71 43.66,243.72 44.44,243.72 45.22,243.73 46.01,243.74 46.79,243.75 47.57,243.76 48.35,243.77 49.13,243.79 49.92,243.82 50.7,243.85 51.48,243.88 52.26,243.93 53.04,243.99 53.83,244.07 54.61,244.16 55.39,244.28 56.17,244.43 56.95,244.61 57.74,244.85 58.52,245.14 59.3,245.5 60.08,245.96 60.86,246.52 61.65,247.21 62.43,248.06 63.21,249.1 63.99,250.35 64.77,251.85 65.56,253.63 66.34,255.7 67.12,258.09 67.9,260.79 68.68,263.77 69.47,267 70.25,270.4 71.03,273.9 71.81,277.4 72.59,280.81 73.38,284.06 74.16,287.06 74.94,289.78 75.72,292.2 76.5,294.3 77.29,296.11 78.07,297.63 78.85,298.9 79.63,299.96 80.41,300.82 81.2,301.53 81.98,302.1 82.76,302.56" fill="none" stroke="#101080" stroke-width="0.8" />
<circle cx="20.2" cy="243.25" r="1.15" fill="#101080"/>
<circle cx="41.96" cy="243.09" r="1.15" fill="#101080"/>
<circle cx="58.28" cy="243.97" r="1.15" fill="#101080"/>
<circle cx="66.44" cy="254.39" r="1.15" fill="#101080"/>
<line x1="74.6" y1="279.27" x2="74.6" y2="287.76" stroke="#101080" stroke-width="0.7" />
<line x1="73.7" y1="279.27" x2="75.5" y2="279.27" stroke="#101080" stroke-width="0.6" />
<circle cx="74.6" cy="287.76" r="1.15" fill="#101080"/>
<circle cx="82.76" cy="301.02" r="1.15" fill="#101080"/>
<polyline points="20.2,243.71 21.19,243.71 22.17,243.71 23.16,243.72 24.14,243.72 25.13,243.72 26.12,243.73 27.1,243.73 28.09,243.73 29.07,243.74 30.06,243.75 31.05,243.75 32.03,243.76 33.02,243.77 34,243.78 34.99,243.79 35.98,243.81 36.96,243.82 37.95,243.84 38.93,243.86 39.92,243.89 40.91,243.92 41.89,243.95 42.88,243.99 43.86,244.03 44.85,244.08 45.84,244.14 46.82,244.21 47.81,244.28 48.79,244.37 49.78,244.47 50.77,244.59 51.75,244.72 52.74,244.87 53.72,245.04 54.71,245.24 55.7,245.47 56.68,245.73 57.67,246.03 58.65,246.37 59.64,246.76 60.63,247.2 61.61,247.7 62.6,248.26 63.58,248.9 64.57,249.61 65.56,250.41 66.54,251.31 67.53,252.31 68.51,253.41 69.5,254.62 70.49,255.95 71.47,257.4 72.46,258.96 73.44,260.64 74.43,262.42 75.42,264.31 76.4,266.28 77.39,268.33 78.37,270.43 79.36,272.57 80.35,274.72 81.33,276.86 82.32,278.98 83.3,281.05 84.29,283.05 85.28,284.97 86.26,286.8 87.25,288.52 88.23,290.12 89.22,291.61 90.21,292.99 91.19,294.25 92.18,295.39 93.16,296.42 94.15,297.36 95.14,298.19 96.12,298.94 97.11,299.61 98.09,300.2 99.08,300.72" fill="none" stroke="#9b1111" stroke-width="0.8" />
<circle cx="20.2" cy="244.67" r="1.15" fill="#9b1111"/>
<circle cx="41.96" cy="243.79" r="1.15" fill="#9b1111"/>
<circle cx="58.28" cy="246.71" r="1.15" fill="#9b1111"/>
<line x1="66.44" y1="247.8" x2="66.44" y2="250.83" stroke="#9b1111" stroke-width="0.7" />
<line x1="65.54" y1="247.8" x2="67.34" y2="247.8" stroke="#9b1111" stroke-width="0.6" />
<circle cx="66.44" cy="250.83" r="1.15" fill="#9b1111"/>
<line x1="74.6" y1="256.21" x2="74.6" y2="262.28" stroke="#9b1111" stroke-width="0.7" />
<line x1="73.7" y1="256.21" x2="75.5" y2="256.21" stroke="#9b1111" stroke-width="0.6" />
<circle cx="74.6" cy="262.28" r="1.15" fill="#9b1111"/>
<line x1="82.76" y1="277.86" x2="82.76" y2="281.5" stroke="#9b1111" stroke-width="0.7" />
<line x1="81.86" y1="277.86" x2="83.66" y2="277.86" stroke="#9b1111" stroke-width="0.6" />
<circle cx="82.76" cy="281.5" r="1.15" fill="#9b1111"/>
<line x1="90.92" y1="293.25" x2="90.92" y2="295.68" stroke="#9b1111" stroke-width="0.7" />
<line x1="90.02" y1="293.25" x2="91.82" y2="293.25" stroke="#9b1111" stroke-width="0.6" />
<circle cx="90.92" cy="295.68" r="1.15" fill="#9b1111"/>
<circle cx="99.08" cy="299.49" r="1.15" fill="#9b1111"/>
<polyline points="20.2,243.7 21.19,243.7 22.17,243.7 23.16,243.7 24.14,243.7 25.13,243.71 26.12,243.71 27.1,243.71 28.09,243.71 29.07,243.71 30.06,243.71 31.05,243.71 32.03,243.72 33.02,243.72 34,243.72 34.99,243.73 35.98,243.73 36.96,243.73 37.95,243.74 38.93,243.75 39.92,243.75 40.91,243.76 41.89,243.77 42.88,243.78 43.86,243.8 44.85,243.81 45.84,243.83 46.82,243.85 47.81,243.88 48.79,243.91 49.78,243.94 50.77,243.98 51.75,244.03 52.74,244.08 53.72,244.14 54.71,244.21 55.7,244.29 56.68,244.39 57.67,244.5 58.65,244.62 59.64,244.77 60.63,244.94 61.61,245.14 62.6,245.36 63.58,245.62 64.57,245.92 65.56,246.27 66.54,246.67 67.53,247.12 68.51,247.64 69.5,248.23 70.49,248.9 71.47,249.66 72.46,250.52 73.44,251.48 74.43,252.56 75.42,253.76 76.4,255.08 77.39,256.54 78.37,258.12 79.36,259.84 80.35,261.68 81.33,263.64 82.32,265.7 83.3,267.85 84.29,270.06 85.28,272.32 86.26,274.6 87.25,276.87 88.23,279.11 89.22,281.3 90.21,283.41 91.19,285.42 92.18,287.32 93.16,289.1 94.15,290.76 95.14,292.28 96.12,293.67 97.11,294.94 98.09,296.08 99.08,297.1" fill="none" stroke="#ff1a1a" stroke-width="0.8" />
<circle cx="20.2" cy="244.66" r="1.15" fill="#ff1a1a"/>
<circle cx="41.96" cy="245.22" r="1.15" fill="#ff1a1a"/>
<line x1="58.28" y1="240.7" x2="58.28" y2="244.95" stroke="#ff1a1a" stroke-width="0.7" />
<line x1="57.38" y1="240.7" x2="59.18" y2="240.7" stroke="#ff1a1a" stroke-width="0.6" />
<circle cx="58.28" cy="244.95" r="1.15" fill="#ff1a1a"/>
<line x1="66.44" y1="240.6" x2="66.44" y2="247.88" stroke="#ff1a1a" stroke-width="0.7" />
<line x1="65.54" y1="240.6" x2="67.34" y2="240.6" stroke="#ff1a1a" stroke-width="0.6" />
<circle cx="66.44" cy="247.88" r="1.15" fill="#ff1a1a"/>
<line x1="74.6" y1="245.84" x2="74.6" y2="254.34" stroke="#ff1a1a" stroke-width="0.7" />
<line x1="73.7" y1="245.84" x2="75.5" y2="245.84" stroke="#ff1a1a" stroke-width="0.6" />
<circle cx="74.6" cy="254.34" r="1.15" fill="#ff1a1a"/>
<line x1="82.76" y1="259.73" x2="82.76" y2="267.01" stroke="#ff1a1a" stroke-width="0.7" />
<line x1="81.86" y1="259.73" x2="83.66" y2="259.73" stroke="#ff1a1a" stroke-width="0.6" />
<circle cx="82.76" cy="267.01" r="1.15" fill="#ff1a1a"/>
<line x1="90.92" y1="277.89" x2="90.92" y2="283.35" stroke="#ff1a1a" stroke-width="0.7" />
<line x1="90.02" y1="277.89" x2="91.82" y2="277.89" stroke="#ff1a1a" stroke-width="0.6" />
<circle cx="90.92" cy="283.35" r="1.15" fill="#ff1a1a"/>
<circle cx="99.08" cy="296" r="1.15" fill="#ff1a1a"/>
<polyline points="20.2,243.71 20.98,243.71 21.76,243.71 22.55,243.71 23.33,243.71 24.11,243.71 24.89,243.72 25.67,243.72 26.46,243.72 27.24,243.73 28.02,243.73 28.8,243.74 29.58,243.75 30.37,243.76 31.15,243.77 31.93,243.78 32.71,243.79 33.49,243.81 34.28,243.83 35.06,243.86 35.84,243.89 36.62,243.93 37.4,243.97 38.19,244.03 38.97,244.09 39.75,244.17 40.53,244.26 41.31,244.37 42.1,244.5 42.88,244.65 43.66,244.83 44.44,245.05 45.22,245.31 46.01,245.61 46.79,245.97 47.57,246.39 48.35,246.89 49.13,247.48 49.92,248.16 50.7,248.96 51.48,249.89 52.26,250.95 53.04,252.17 53.83,253.56 54.61,255.13 55.39,256.88 56.17,258.82 56.95,260.94 57.74,263.23 58.52,265.66 59.3,268.23 60.08,270.88 60.86,273.58 61.65,276.29 62.43,278.96 63.21,281.56 63.99,284.04 64.77,286.38 65.56,288.56 66.34,290.57 67.12,292.38 67.9,294.01 68.68,295.46 69.47,296.74 70.25,297.86 71.03,298.83 71.81,299.67 72.59,300.39 73.38,301.01 74.16,301.54 74.94,301.99 75.72,302.37 76.5,302.69 77.29,302.97 78.07,303.2 78.85,303.39 79.63,303.55 80.41,303.69 81.2,303.81 81.98,303.9 82.76,303.98" fill="none" stroke="#555555" stroke-width="0.8" />
<circle cx="20.2" cy="243.09" r="1.15" fill="#555555"/>
<circle cx="41.96" cy="243.38" r="1.15" fill="#555555"/>
<circle cx="58.28" cy="265.98" r="1.15" fill="#555555"/>
<circle cx="66.44" cy="291.82" r="1.15" fill="#555555"/>
<circle cx="74.6" cy="300.99" r="1.15" fill="#555555"/>
<circle cx="82.76" cy="303.41" r="1.15" fill="#555555"/>
<polyline points="20.2,243.71 20.98,243.71 21.76,243.71 22.55,243.71 23.33,243.71 24.11,243.72 24.89,243.72 25.67,243.72 26.46,243.73 27.24,243.73 28.02,243.74 28.8,243.75 29.58,243.76 30.37,243.77 31.15,243.78 31.93,243.8 32.71,243.81 33.49,243.84 34.28,243.86 35.06,243.89 35.84,243.93 36.62,243.98 37.4,244.03 38.19,244.1 38.97,244.17 39.75,244.26 40.53,244.37 41.31,244.5 42.1,244.66 42.88,244.84 43.66,245.06 44.44,245.32 45.22,245.62 46.01,245.99 46.79,246.41 47.57,246.92 48.35,247.51 49.13,248.2 49.92,249 50.7,249.93 51.48,251 52.26,252.23 53.04,253.63 53.83,255.2 54.61,256.96 55.39,258.91 56.17,261.03 56.95,263.33 57.74,265.77 58.52,268.34 59.3,270.99 60.08,273.7 60.86,276.4 61.65,279.07 62.43,281.67 63.21,284.15 63.99,286.48 64.77,288.65 65.56,290.65 66.34,292.46 67.12,294.08 67.9,295.52 68.68,296.79 69.47,297.9 70.25,298.87 71.03,299.71 71.81,300.42 72.59,301.04 73.38,301.56 74.16,302.01 74.94,302.39 75.72,302.71 76.5,302.98 77.29,303.21 78.07,303.4 78.85,303.56 79.63,303.7 80.41,303.81 81.2,303.91 81.98,303.99 82.76,304.05" fill="none" stroke="#000000" stroke-width="0.8" />
<circle cx="20.2" cy="244.59" r="1.15" fill="#000000"/>
<circle cx="41.96" cy="243.78" r="1.15" fill="#000000"/>
<line x1="58.28" y1="262.66" x2="58.28" y2="266.91" stroke="#000000" stroke-width="0.7" />
<line x1="57.38" y1="262.66" x2="59.18" y2="262.66" stroke="#000000" stroke-width="0.6" />
<circle cx="58.28" cy="266.91" r="1.15" fill="#000000"/>
<line x1="66.44" y1="290.84" x2="66.44" y2="293.27" stroke="#000000" stroke-width="0.7" />
<line x1="65.54" y1="290.84" x2="67.34" y2="290.84" stroke="#000000" stroke-width="0.6" />
<circle cx="66.44" cy="293.27" r="1.15" fill="#000000"/>
<circle cx="74.6" cy="302.24" r="1.15" fill="#000000"/>
<circle cx="82.76" cy="304.1" r="1.15" fill="#000000"/>
<line x1="106.5" y1="239.6" x2="113.8" y2="239.6" stroke="#000000" stroke-width="0.8" />
<circle cx="110.2" cy="239.6" r="1.15" fill="#000000"/>
<text x="116.5" y="241.8" font-size="6.3" fill="#111">ntgB1</text>
<line x1="106.5" y1="249.44" x2="113.8" y2="249.44" stroke="#555555" stroke-width="0.8" />
<circle cx="110.2" cy="249.44" r="1.15" fill="#555555"/>
<text x="116.5" y="251.64" font-size="6.3" fill="#111">ntgC1</text>
<line x1="106.5" y1="259.28" x2="113.8" y2="259.28" stroke="#9b1111" stroke-width="0.8" />
<circle cx="110.2" cy="259.28" r="1.15" fill="#9b1111"/>
<text x="116.5" y="261.48" font-size="6.3" fill="#111"><tspan font-style="italic">Lrrc8a</tspan>_C10</text>
<line x1="106.5" y1="269.12" x2="113.8" y2="269.12" stroke="#ff1a1a" stroke-width="0.8" />
<circle cx="110.2" cy="269.12" r="1.15" fill="#ff1a1a"/>
<text x="116.5" y="271.32" font-size="6.3" fill="#111"><tspan font-style="italic">Lrrc8a</tspan>_D8</text>
<line x1="106.5" y1="278.96" x2="113.8" y2="278.96" stroke="#101080" stroke-width="0.8" />
<circle cx="110.2" cy="278.96" r="1.15" fill="#101080"/>
<text x="116.5" y="281.16" font-size="6.3" fill="#111"><tspan font-style="italic">Lrrc8d</tspan>_E12</text>
<line x1="106.5" y1="288.8" x2="113.8" y2="288.8" stroke="#4a4aff" stroke-width="0.8" />
<circle cx="110.2" cy="288.8" r="1.15" fill="#4a4aff"/>
<text x="116.5" y="291" font-size="6.3" fill="#111"><tspan font-style="italic">Lrrc8d</tspan>_G12</text>
<polyline points="138.8,236.5 138.8,251.2" fill="none" stroke="#333" stroke-width="0.9" />
<polyline points="138.8,244.2 156.5,244.2 156.5,263.5 153.9,263.5" fill="none" stroke="#333" stroke-width="0.9" />
<polyline points="153.9,256.5 153.9,271.9" fill="none" stroke="#333" stroke-width="0.9" />
<polyline points="158.8,244.2 165.5,244.2 165.5,283.9 153.9,283.9" fill="none" stroke="#333" stroke-width="0.9" />
<polyline points="153.9,276.5 153.9,291.5" fill="none" stroke="#333" stroke-width="0.9" />
<text x="156.55" y="255.5" font-size="6" font-weight="bold" text-anchor="middle" transform="rotate(90 156.55 255.5)" fill="#111">****</text>
<text x="165.05" y="264.2" font-size="6" font-weight="bold" text-anchor="middle" transform="rotate(90 165.05 264.2)" fill="#111">****</text>
<text x="173.4" y="229.6" font-size="11">F</text>
<line x1="196" y1="235.9" x2="196" y2="302.8" stroke="#000" stroke-width="1.3" />
<line x1="195.4" y1="302.2" x2="296" y2="302.2" stroke="#000" stroke-width="1.3" />
<line x1="193.8" y1="242.1" x2="196" y2="242.1" stroke="#000" stroke-width="0.8" />
<text x="193.4" y="243.9" font-size="5" text-anchor="end" font-weight="bold" fill="#222">100</text>
<line x1="193.8" y1="272.15" x2="196" y2="272.15" stroke="#000" stroke-width="0.8" />
<text x="193.4" y="273.95" font-size="5" text-anchor="end" font-weight="bold" fill="#222">50</text>
<line x1="193.8" y1="302.2" x2="196" y2="302.2" stroke="#000" stroke-width="0.8" />
<text x="193.4" y="304" font-size="5" text-anchor="end" font-weight="bold" fill="#222">0</text>
<line x1="205.68" y1="302.2" x2="205.68" y2="304.4" stroke="#000" stroke-width="0.8" />
<text x="205.68" y="310.6" font-size="5" text-anchor="middle" font-weight="bold" fill="#222">-1</text>
<line x1="235.38" y1="302.2" x2="235.38" y2="304.4" stroke="#000" stroke-width="0.8" />
<text x="235.38" y="310.6" font-size="5" text-anchor="middle" font-weight="bold" fill="#222">0</text>
<line x1="265.08" y1="302.2" x2="265.08" y2="304.4" stroke="#000" stroke-width="0.8" />
<text x="265.08" y="310.6" font-size="5" text-anchor="middle" font-weight="bold" fill="#222">1</text>
<line x1="294.78" y1="302.2" x2="294.78" y2="304.4" stroke="#000" stroke-width="0.8" />
<text x="294.78" y="310.6" font-size="5" text-anchor="middle" font-weight="bold" fill="#222">2</text>
<text x="180.8" y="272" font-size="5.3" text-anchor="middle" font-weight="bold" fill="#222" transform="rotate(-90 180.8 272)">Survival [%]</text>
<text x="251.5" y="318.7" font-size="5.5" text-anchor="middle" fill="#222"><tspan font-weight="bold">log(carboplatin</tspan><tspan font-size="7"> [µmol/L]</tspan></text>
<polyline points="196,242.1 196.94,242.1 197.88,242.1 198.81,242.1 199.75,242.1 200.69,242.1 201.63,242.1 202.56,242.1 203.5,242.1 204.44,242.1 205.38,242.1 206.32,242.1 207.25,242.1 208.19,242.1 209.13,242.1 210.07,242.1 211,242.1 211.94,242.1 212.88,242.1 213.82,242.1 214.76,242.1 215.69,242.1 216.63,242.1 217.57,242.1 218.51,242.1 219.44,242.1 220.38,242.1 221.32,242.1 222.26,242.1 223.2,242.1 224.13,242.11 225.07,242.11 226.01,242.11 226.95,242.11 227.88,242.12 228.82,242.12 229.76,242.13 230.7,242.14 231.64,242.15 232.57,242.16 233.51,242.18 234.45,242.2 235.39,242.23 236.32,242.27 237.26,242.32 238.2,242.38 239.14,242.46 240.08,242.57 241.01,242.7 241.95,242.87 242.89,243.09 243.83,243.37 244.76,243.73 245.7,244.19 246.64,244.77 247.58,245.49 248.52,246.41 249.45,247.54 250.39,248.94 251.33,250.64 252.27,252.68 253.2,255.08 254.14,257.86 255.08,260.99 256.02,264.43 256.96,268.1 257.89,271.9 258.83,275.71 259.77,279.4 260.71,282.88 261.64,286.05 262.58,288.88 263.52,291.33 264.46,293.41 265.4,295.16 266.33,296.59 267.27,297.76 268.21,298.7 269.15,299.45 270.08,300.04 271.02,300.52" fill="none" stroke="#4a4aff" stroke-width="0.8" />
<circle cx="196" cy="242.6" r="1.15" fill="#4a4aff"/>
<circle cx="235.38" cy="242.3" r="1.15" fill="#4a4aff"/>
<line x1="244.29" y1="240.83" x2="244.29" y2="243.84" stroke="#4a4aff" stroke-width="0.7" />
<line x1="243.39" y1="240.83" x2="245.19" y2="240.83" stroke="#4a4aff" stroke-width="0.6" />
<circle cx="244.29" cy="243.84" r="1.15" fill="#4a4aff"/>
<circle cx="253.2" cy="255.27" r="1.15" fill="#4a4aff"/>
<circle cx="262.11" cy="287.83" r="1.15" fill="#4a4aff"/>
<circle cx="271.02" cy="299.95" r="1.15" fill="#4a4aff"/>
<polyline points="196,242.1 196.94,242.1 197.88,242.1 198.81,242.1 199.75,242.1 200.69,242.1 201.63,242.1 202.56,242.1 203.5,242.1 204.44,242.1 205.38,242.1 206.32,242.1 207.25,242.1 208.19,242.1 209.13,242.1 210.07,242.1 211,242.1 211.94,242.1 212.88,242.1 213.82,242.1 214.76,242.1 215.69,242.1 216.63,242.1 217.57,242.1 218.51,242.1 219.44,242.1 220.38,242.1 221.32,242.11 222.26,242.11 223.2,242.11 224.13,242.11 225.07,242.11 226.01,242.12 226.95,242.12 227.88,242.13 228.82,242.13 229.76,242.14 230.7,242.15 231.64,242.17 232.57,242.18 233.51,242.2 234.45,242.23 235.39,242.26 236.32,242.3 237.26,242.34 238.2,242.4 239.14,242.48 240.08,242.57 241.01,242.68 241.95,242.82 242.89,242.99 243.83,243.21 244.76,243.47 245.7,243.79 246.64,244.19 247.58,244.68 248.52,245.28 249.45,246 250.39,246.87 251.33,247.93 252.27,249.18 253.2,250.66 254.14,252.39 255.08,254.38 256.02,256.65 256.96,259.19 257.89,261.98 258.83,264.98 259.77,268.14 260.71,271.39 261.64,274.66 262.58,277.87 263.52,280.96 264.46,283.85 265.4,286.5 266.33,288.9 267.27,291.02 268.21,292.87 269.15,294.46 270.08,295.82 271.02,296.96" fill="none" stroke="#101080" stroke-width="0.8" />
<circle cx="196" cy="241.5" r="1.15" fill="#101080"/>
<line x1="235.38" y1="241.61" x2="235.38" y2="244.02" stroke="#101080" stroke-width="0.7" />
<line x1="234.48" y1="241.61" x2="236.28" y2="241.61" stroke="#101080" stroke-width="0.6" />
<circle cx="235.38" cy="244.02" r="1.15" fill="#101080"/>
<circle cx="244.29" cy="242.48" r="1.15" fill="#101080"/>
<circle cx="253.2" cy="251.89" r="1.15" fill="#101080"/>
<circle cx="262.11" cy="274.52" r="1.15" fill="#101080"/>
<circle cx="271.02" cy="298.7" r="1.15" fill="#101080"/>
<polyline points="196,242.12 196.94,242.12 197.88,242.12 198.81,242.13 199.75,242.13 200.69,242.13 201.63,242.14 202.56,242.14 203.5,242.15 204.44,242.15 205.38,242.16 206.32,242.17 207.25,242.18 208.19,242.19 209.13,242.2 210.07,242.21 211,242.22 211.94,242.24 212.88,242.25 213.82,242.27 214.76,242.3 215.69,242.32 216.63,242.35 217.57,242.38 218.51,242.41 219.44,242.45 220.38,242.49 221.32,242.54 222.26,242.59 223.2,242.65 224.13,242.72 225.07,242.8 226.01,242.88 226.95,242.98 227.88,243.08 228.82,243.2 229.76,243.33 230.7,243.48 231.64,243.65 232.57,243.83 233.51,244.04 234.45,244.27 235.39,244.53 236.32,244.81 237.26,245.13 238.2,245.48 239.14,245.88 240.08,246.31 241.01,246.79 241.95,247.32 242.89,247.9 243.83,248.54 244.76,249.24 245.7,250 246.64,250.83 247.58,251.74 248.52,252.72 249.45,253.77 250.39,254.9 251.33,256.12 252.27,257.4 253.2,258.77 254.14,260.21 255.08,261.71 256.02,263.28 256.96,264.9 257.89,266.57 258.83,268.27 259.77,270 260.71,271.74 261.64,273.49 262.58,275.23 263.52,276.95 264.46,278.63 265.4,280.28 266.33,281.87 267.27,283.4 268.21,284.87 269.15,286.27 270.08,287.6 271.02,288.84" fill="none" stroke="#9b1111" stroke-width="0.8" />
<circle cx="196" cy="242.99" r="1.15" fill="#9b1111"/>
<line x1="235.38" y1="241.45" x2="235.38" y2="243.86" stroke="#9b1111" stroke-width="0.7" />
<line x1="234.48" y1="241.45" x2="236.28" y2="241.45" stroke="#9b1111" stroke-width="0.6" />
<circle cx="235.38" cy="243.86" r="1.15" fill="#9b1111"/>
<line x1="244.29" y1="244" x2="244.29" y2="248.21" stroke="#9b1111" stroke-width="0.7" />
<line x1="243.39" y1="244" x2="245.19" y2="244" stroke="#9b1111" stroke-width="0.6" />
<circle cx="244.29" cy="248.21" r="1.15" fill="#9b1111"/>
<line x1="253.2" y1="253.9" x2="253.2" y2="257.51" stroke="#9b1111" stroke-width="0.7" />
<line x1="252.3" y1="253.9" x2="254.1" y2="253.9" stroke="#9b1111" stroke-width="0.6" />
<circle cx="253.2" cy="257.51" r="1.15" fill="#9b1111"/>
<line x1="262.11" y1="272.49" x2="262.11" y2="275.49" stroke="#9b1111" stroke-width="0.7" />
<line x1="261.21" y1="272.49" x2="263.01" y2="272.49" stroke="#9b1111" stroke-width="0.6" />
<circle cx="262.11" cy="275.49" r="1.15" fill="#9b1111"/>
<line x1="271.02" y1="288.01" x2="271.02" y2="289.81" stroke="#9b1111" stroke-width="0.7" />
<line x1="270.12" y1="288.01" x2="271.92" y2="288.01" stroke="#9b1111" stroke-width="0.6" />
<circle cx="271.02" cy="289.81" r="1.15" fill="#9b1111"/>
<polyline points="196,242.1 196.94,242.11 197.88,242.11 198.81,242.11 199.75,242.11 200.69,242.11 201.63,242.11 202.56,242.11 203.5,242.11 204.44,242.12 205.38,242.12 206.32,242.12 207.25,242.12 208.19,242.13 209.13,242.13 210.07,242.13 211,242.14 211.94,242.14 212.88,242.15 213.82,242.16 214.76,242.17 215.69,242.18 216.63,242.19 217.57,242.2 218.51,242.21 219.44,242.23 220.38,242.24 221.32,242.26 222.26,242.29 223.2,242.31 224.13,242.34 225.07,242.38 226.01,242.42 226.95,242.46 227.88,242.51 228.82,242.57 229.76,242.63 230.7,242.7 231.64,242.79 232.57,242.88 233.51,242.99 234.45,243.11 235.39,243.25 236.32,243.41 237.26,243.59 238.2,243.79 239.14,244.02 240.08,244.27 241.01,244.57 241.95,244.89 242.89,245.26 243.83,245.68 244.76,246.15 245.7,246.67 246.64,247.25 247.58,247.91 248.52,248.63 249.45,249.43 250.39,250.32 251.33,251.29 252.27,252.35 253.2,253.52 254.14,254.78 255.08,256.13 256.02,257.59 256.96,259.14 257.89,260.78 258.83,262.51 259.77,264.31 260.71,266.17 261.64,268.08 262.58,270.03 263.52,271.99 264.46,273.95 265.4,275.9 266.33,277.82 267.27,279.69 268.21,281.5 269.15,283.24 270.08,284.89 271.02,286.46" fill="none" stroke="#ff1a1a" stroke-width="0.8" />
<circle cx="196" cy="243.52" r="1.15" fill="#ff1a1a"/>
<line x1="235.38" y1="240.72" x2="235.38" y2="242.52" stroke="#ff1a1a" stroke-width="0.7" />
<line x1="234.48" y1="240.72" x2="236.28" y2="240.72" stroke="#ff1a1a" stroke-width="0.6" />
<circle cx="235.38" cy="242.52" r="1.15" fill="#ff1a1a"/>
<line x1="244.29" y1="241.75" x2="244.29" y2="245.36" stroke="#ff1a1a" stroke-width="0.7" />
<line x1="243.39" y1="241.75" x2="245.19" y2="241.75" stroke="#ff1a1a" stroke-width="0.6" />
<circle cx="244.29" cy="245.36" r="1.15" fill="#ff1a1a"/>
<line x1="253.2" y1="245.92" x2="253.2" y2="251.93" stroke="#ff1a1a" stroke-width="0.7" />
<line x1="252.3" y1="245.92" x2="254.1" y2="245.92" stroke="#ff1a1a" stroke-width="0.6" />
<circle cx="253.2" cy="251.93" r="1.15" fill="#ff1a1a"/>
<line x1="262.11" y1="255.45" x2="262.11" y2="269.87" stroke="#ff1a1a" stroke-width="0.7" />
<line x1="261.21" y1="255.45" x2="263.01" y2="255.45" stroke="#ff1a1a" stroke-width="0.6" />
<circle cx="262.11" cy="269.87" r="1.15" fill="#ff1a1a"/>
<line x1="271.02" y1="283.74" x2="271.02" y2="287.34" stroke="#ff1a1a" stroke-width="0.7" />
<line x1="270.12" y1="283.74" x2="271.92" y2="283.74" stroke="#ff1a1a" stroke-width="0.6" />
<circle cx="271.02" cy="287.34" r="1.15" fill="#ff1a1a"/>
<polyline points="196,242.1 196.94,242.1 197.88,242.1 198.81,242.1 199.75,242.1 200.69,242.1 201.63,242.1 202.56,242.1 203.5,242.1 204.44,242.1 205.38,242.1 206.32,242.1 207.25,242.11 208.19,242.11 209.13,242.11 210.07,242.11 211,242.12 211.94,242.12 212.88,242.12 213.82,242.13 214.76,242.14 215.69,242.15 216.63,242.16 217.57,242.17 218.51,242.19 219.44,242.21 220.38,242.24 221.32,242.28 222.26,242.33 223.2,242.38 224.13,242.45 225.07,242.54 226.01,242.65 226.95,242.79 227.88,242.96 228.82,243.18 229.76,243.44 230.7,243.77 231.64,244.18 232.57,244.69 233.51,245.3 234.45,246.06 235.39,246.98 236.32,248.09 237.26,249.42 238.2,251 239.14,252.85 240.08,254.98 241.01,257.41 241.95,260.12 242.89,263.08 243.83,266.26 244.76,269.57 245.7,272.95 246.64,276.31 247.58,279.57 248.52,282.65 249.45,285.5 250.39,288.08 251.33,290.37 252.27,292.36 253.2,294.08 254.14,295.54 255.08,296.76 256.02,297.78 256.96,298.62 257.89,299.3 258.83,299.87 259.77,300.32 260.71,300.69 261.64,300.99 262.58,301.23 263.52,301.42 264.46,301.58 265.4,301.7 266.33,301.8 267.27,301.88 268.21,301.95 269.15,302 270.08,302.04 271.02,302.07" fill="none" stroke="#555555" stroke-width="0.8" />
<circle cx="196" cy="242.16" r="1.15" fill="#555555"/>
<circle cx="235.38" cy="246.6" r="1.15" fill="#555555"/>
<circle cx="244.29" cy="267.49" r="1.15" fill="#555555"/>
<circle cx="253.2" cy="294.93" r="1.15" fill="#555555"/>
<circle cx="262.11" cy="301.9" r="1.15" fill="#555555"/>
<circle cx="271.02" cy="301.9" r="1.15" fill="#555555"/>
<polyline points="196,242.1 196.94,242.1 197.88,242.1 198.81,242.1 199.75,242.1 200.69,242.1 201.63,242.1 202.56,242.1 203.5,242.1 204.44,242.1 205.38,242.1 206.32,242.11 207.25,242.11 208.19,242.11 209.13,242.11 210.07,242.11 211,242.12 211.94,242.12 212.88,242.13 213.82,242.14 214.76,242.15 215.69,242.16 216.63,242.17 217.57,242.19 218.51,242.21 219.44,242.24 220.38,242.28 221.32,242.32 222.26,242.38 223.2,242.45 224.13,242.54 225.07,242.65 226.01,242.78 226.95,242.95 227.88,243.17 228.82,243.43 229.76,243.76 230.7,244.16 231.64,244.66 232.57,245.27 233.51,246.02 234.45,246.93 235.39,248.03 236.32,249.35 237.26,250.91 238.2,252.75 239.14,254.87 240.08,257.28 241.01,259.98 241.95,262.93 242.89,266.09 243.83,269.4 244.76,272.78 245.7,276.15 246.64,279.41 247.58,282.5 248.52,285.36 249.45,287.95 250.39,290.26 251.33,292.27 252.27,294 253.2,295.47 254.14,296.7 255.08,297.73 256.02,298.58 256.96,299.27 257.89,299.84 258.83,300.3 259.77,300.67 260.71,300.98 261.64,301.22 262.58,301.41 263.52,301.57 264.46,301.7 265.4,301.8 266.33,301.88 267.27,301.94 268.21,301.99 269.15,302.04 270.08,302.07 271.02,302.1" fill="none" stroke="#000000" stroke-width="0.8" />
<circle cx="196" cy="242.21" r="1.15" fill="#000000"/>
<line x1="235.38" y1="246.08" x2="235.38" y2="247.88" stroke="#000000" stroke-width="0.7" />
<line x1="234.48" y1="246.08" x2="236.28" y2="246.08" stroke="#000000" stroke-width="0.6" />
<circle cx="235.38" cy="247.88" r="1.15" fill="#000000"/>
<line x1="244.29" y1="268.26" x2="244.29" y2="270.06" stroke="#000000" stroke-width="0.7" />
<line x1="243.39" y1="268.26" x2="245.19" y2="268.26" stroke="#000000" stroke-width="0.6" />
<circle cx="244.29" cy="270.06" r="1.15" fill="#000000"/>
<circle cx="253.2" cy="295.55" r="1.15" fill="#000000"/>
<circle cx="262.11" cy="301.3" r="1.15" fill="#000000"/>
<circle cx="271.02" cy="301.89" r="1.15" fill="#000000"/>
<line x1="283.9" y1="239.6" x2="291.2" y2="239.6" stroke="#000000" stroke-width="0.8" />
<circle cx="287.6" cy="239.6" r="1.15" fill="#000000"/>
<text x="294.2" y="241.8" font-size="6.3" fill="#111"><tspan font-style="italic">ntgB1</tspan></text>
<line x1="283.9" y1="249.44" x2="291.2" y2="249.44" stroke="#555555" stroke-width="0.8" />
<circle cx="287.6" cy="249.44" r="1.15" fill="#555555"/>
<text x="294.2" y="251.64" font-size="6.3" fill="#111"><tspan font-style="italic">ntgC1</tspan></text>
<line x1="283.9" y1="259.28" x2="291.2" y2="259.28" stroke="#9b1111" stroke-width="0.8" />
<circle cx="287.6" cy="259.28" r="1.15" fill="#9b1111"/>
<text x="294.2" y="261.48" font-size="6.3" fill="#111"><tspan font-style="italic">Lrrc8a</tspan>_C10</text>
<line x1="283.9" y1="269.12" x2="291.2" y2="269.12" stroke="#ff1a1a" stroke-width="0.8" />
<circle cx="287.6" cy="269.12" r="1.15" fill="#ff1a1a"/>
<text x="294.2" y="271.32" font-size="6.3" fill="#111"><tspan font-style="italic">Lrrc8a</tspan>_D8</text>
<line x1="283.9" y1="278.96" x2="291.2" y2="278.96" stroke="#101080" stroke-width="0.8" />
<circle cx="287.6" cy="278.96" r="1.15" fill="#101080"/>
<text x="294.2" y="281.16" font-size="6.3" fill="#111"><tspan font-style="italic">Lrrc8d</tspan>_E12</text>
<line x1="283.9" y1="288.8" x2="291.2" y2="288.8" stroke="#4a4aff" stroke-width="0.8" />
<circle cx="287.6" cy="288.8" r="1.15" fill="#4a4aff"/>
<text x="294.2" y="291" font-size="6.3" fill="#111"><tspan font-style="italic">Lrrc8d</tspan>_G12</text>
<polyline points="315.8,236.5 315.8,252.4" fill="none" stroke="#333" stroke-width="0.9" />
<polyline points="315.8,244.2 333.5,244.2 333.5,264.2 330.1,264.2" fill="none" stroke="#333" stroke-width="0.9" />
<polyline points="330.1,257.3 330.1,271.9" fill="none" stroke="#333" stroke-width="0.9" />
<polyline points="336.2,244.5 341.9,244.5 341.9,284.2 330.1,284.2" fill="none" stroke="#333" stroke-width="0.9" />
<polyline points="330.1,276.5 330.1,291.9" fill="none" stroke="#333" stroke-width="0.9" />
<text x="333.35" y="255.8" font-size="6" font-weight="bold" text-anchor="middle" transform="rotate(90 333.35 255.8)" fill="#111">****</text>
<text x="342.05" y="264.6" font-size="6" font-weight="bold" text-anchor="middle" transform="rotate(90 342.05 264.6)" fill="#111">****</text>
<text x="354.3" y="229.3" font-size="11" fill="#1d2a6e">H</text>
<line x1="380.4" y1="237.3" x2="380.4" y2="303.6" stroke="#000" stroke-width="1.3" />
<line x1="379.8" y1="303" x2="479.8" y2="303" stroke="#000" stroke-width="1.3" />
<line x1="378.2" y1="243" x2="380.4" y2="243" stroke="#000" stroke-width="0.8" />
<text x="377.8" y="244.8" font-size="5" text-anchor="end" font-weight="bold" fill="#222">100</text>
<line x1="378.2" y1="273" x2="380.4" y2="273" stroke="#000" stroke-width="0.8" />
<text x="377.8" y="274.8" font-size="5" text-anchor="end" font-weight="bold" fill="#222">50</text>
<line x1="378.2" y1="303" x2="380.4" y2="303" stroke="#000" stroke-width="0.8" />
<text x="377.8" y="304.8" font-size="5" text-anchor="end" font-weight="bold" fill="#222">0</text>
<line x1="380.4" y1="303" x2="380.4" y2="305.2" stroke="#000" stroke-width="0.8" />
<text x="380.4" y="311.4" font-size="5" text-anchor="middle" font-weight="bold" fill="#222">-3</text>
<line x1="405.25" y1="303" x2="405.25" y2="305.2" stroke="#000" stroke-width="0.8" />
<text x="405.25" y="311.4" font-size="5" text-anchor="middle" font-weight="bold" fill="#222">-2</text>
<line x1="430.1" y1="303" x2="430.1" y2="305.2" stroke="#000" stroke-width="0.8" />
<text x="430.1" y="311.4" font-size="5" text-anchor="middle" font-weight="bold" fill="#222">-1</text>
<line x1="454.95" y1="303" x2="454.95" y2="305.2" stroke="#000" stroke-width="0.8" />
<text x="454.95" y="311.4" font-size="5" text-anchor="middle" font-weight="bold" fill="#222">0</text>
<line x1="479.8" y1="303" x2="479.8" y2="305.2" stroke="#000" stroke-width="0.8" />
<text x="479.8" y="311.4" font-size="5" text-anchor="middle" font-weight="bold" fill="#222">1</text>
<text x="365.6" y="270" font-size="5.3" text-anchor="middle" font-weight="bold" fill="#222" transform="rotate(-90 365.6 270)">Survival [%]</text>
<text x="436.5" y="318.7" font-size="5.5" text-anchor="middle" fill="#222"><tspan font-weight="bold">log(oxaliplatin</tspan><tspan font-size="7"> [µmol/L]</tspan></text>
<polyline points="380.4,243 381.43,243 382.45,243 383.48,243 384.5,243 385.53,243 386.55,243 387.58,243 388.6,243 389.63,243 390.65,243 391.68,243 392.7,243 393.73,243 394.75,243 395.78,243 396.8,243 397.83,243 398.85,243 399.88,243 400.9,243 401.93,243.01 402.95,243.01 403.98,243.01 405,243.01 406.03,243.01 407.05,243.02 408.08,243.02 409.1,243.02 410.13,243.03 411.15,243.04 412.18,243.04 413.2,243.06 414.23,243.07 415.25,243.08 416.28,243.1 417.3,243.13 418.33,243.16 419.35,243.19 420.38,243.24 421.4,243.29 422.43,243.36 423.45,243.44 424.48,243.55 425.5,243.67 426.53,243.82 427.55,244.01 428.58,244.24 429.6,244.52 430.63,244.87 431.65,245.28 432.68,245.79 433.7,246.4 434.73,247.14 435.75,248.02 436.78,249.07 437.8,250.31 438.83,251.76 439.85,253.44 440.88,255.36 441.9,257.54 442.93,259.97 443.95,262.62 444.98,265.47 446,268.48 447.03,271.58 448.05,274.71 449.08,277.8 450.1,280.8 451.13,283.63 452.15,286.26 453.18,288.67 454.2,290.82 455.23,292.72 456.25,294.38 457.28,295.81 458.3,297.03 459.33,298.07 460.35,298.93 461.38,299.66 462.4,300.26" fill="none" stroke="#4a4aff" stroke-width="0.8" />
<circle cx="380.4" cy="242.4" r="1.15" fill="#4a4aff"/>
<circle cx="432.58" cy="246.81" r="1.15" fill="#4a4aff"/>
<circle cx="440.04" cy="254.83" r="1.15" fill="#4a4aff"/>
<line x1="447.5" y1="266.64" x2="447.5" y2="272.64" stroke="#4a4aff" stroke-width="0.7" />
<line x1="446.6" y1="266.64" x2="448.39" y2="266.64" stroke="#4a4aff" stroke-width="0.6" />
<circle cx="447.5" cy="272.64" r="1.15" fill="#4a4aff"/>
<line x1="454.95" y1="290.23" x2="454.95" y2="293.83" stroke="#4a4aff" stroke-width="0.7" />
<line x1="454.05" y1="290.23" x2="455.85" y2="290.23" stroke="#4a4aff" stroke-width="0.6" />
<circle cx="454.95" cy="293.83" r="1.15" fill="#4a4aff"/>
<circle cx="462.4" cy="299.26" r="1.15" fill="#4a4aff"/>
<polyline points="380.4,243 381.43,243 382.45,243 383.48,243 384.5,243 385.53,243 386.55,243 387.58,243 388.6,243 389.63,243 390.65,243 391.68,243 392.7,243 393.73,243 394.75,243 395.78,243 396.8,243 397.83,243 398.85,243 399.88,243 400.9,243 401.93,243 402.95,243 403.98,243 405,243 406.03,243 407.05,243 408.08,243 409.1,243 410.13,243 411.15,243 412.18,243.01 413.2,243.01 414.23,243.01 415.25,243.01 416.28,243.02 417.3,243.02 418.33,243.03 419.35,243.04 420.38,243.05 421.4,243.07 422.43,243.09 423.45,243.12 424.48,243.16 425.5,243.21 426.53,243.28 427.55,243.38 428.58,243.5 429.6,243.67 430.63,243.88 431.65,244.17 432.68,244.54 433.7,245.03 434.73,245.67 435.75,246.5 436.78,247.57 437.8,248.93 438.83,250.63 439.85,252.74 440.88,255.3 441.9,258.32 442.93,261.78 443.95,265.64 444.98,269.77 446,274.04 447.03,278.26 448.05,282.27 449.08,285.95 450.1,289.21 451.13,292 452.15,294.33 453.18,296.24 454.2,297.77 455.23,298.98 456.25,299.93 457.28,300.66 458.3,301.22 459.33,301.65 460.35,301.98 461.38,302.23 462.4,302.42" fill="none" stroke="#101080" stroke-width="0.8" />
<circle cx="380.4" cy="243.44" r="1.15" fill="#101080"/>
<line x1="432.58" y1="241.17" x2="432.58" y2="242.97" stroke="#101080" stroke-width="0.7" />
<line x1="431.69" y1="241.17" x2="433.48" y2="241.17" stroke="#101080" stroke-width="0.6" />
<circle cx="432.58" cy="242.97" r="1.15" fill="#101080"/>
<circle cx="440.04" cy="251.94" r="1.15" fill="#101080"/>
<circle cx="447.5" cy="281.14" r="1.15" fill="#101080"/>
<circle cx="454.95" cy="297.34" r="1.15" fill="#101080"/>
<line x1="462.4" y1="300.73" x2="462.4" y2="301.93" stroke="#101080" stroke-width="0.7" />
<line x1="461.5" y1="300.73" x2="463.3" y2="300.73" stroke="#101080" stroke-width="0.6" />
<circle cx="462.4" cy="301.93" r="1.15" fill="#101080"/>
<polyline points="380.4,243 381.43,243 382.45,243 383.48,243 384.5,243 385.53,243 386.55,243 387.58,243 388.6,243 389.63,243 390.65,243 391.68,243 392.7,243 393.73,243 394.75,243 395.78,243 396.8,243 397.83,243.01 398.85,243.01 399.88,243.01 400.9,243.01 401.93,243.01 402.95,243.02 403.98,243.02 405,243.02 406.03,243.03 407.05,243.04 408.08,243.04 409.1,243.05 410.13,243.07 411.15,243.08 412.18,243.1 413.2,243.12 414.23,243.15 415.25,243.19 416.28,243.23 417.3,243.29 418.33,243.35 419.35,243.43 420.38,243.53 421.4,243.65 422.43,243.8 423.45,243.99 424.48,244.21 425.5,244.49 426.53,244.82 427.55,245.23 428.58,245.72 429.6,246.32 430.63,247.04 431.65,247.9 432.68,248.93 433.7,250.15 434.73,251.57 435.75,253.22 436.78,255.12 437.8,257.26 438.83,259.66 439.85,262.29 440.88,265.12 441.9,268.11 442.93,271.2 443.95,274.33 444.98,277.43 446,280.44 447.03,283.3 448.05,285.96 449.08,288.39 450.1,290.57 451.13,292.51 452.15,294.2 453.18,295.65 454.2,296.9 455.23,297.95 456.25,298.84 457.28,299.58 458.3,300.19 459.33,300.7 460.35,301.12 461.38,301.47 462.4,301.75" fill="none" stroke="#ff1a1a" stroke-width="0.8" />
<circle cx="380.4" cy="242.4" r="1.15" fill="#ff1a1a"/>
<circle cx="432.58" cy="247.61" r="1.15" fill="#ff1a1a"/>
<line x1="440.04" y1="259.13" x2="440.04" y2="263.93" stroke="#ff1a1a" stroke-width="0.7" />
<line x1="439.14" y1="259.13" x2="440.94" y2="259.13" stroke="#ff1a1a" stroke-width="0.6" />
<circle cx="440.04" cy="263.93" r="1.15" fill="#ff1a1a"/>
<line x1="447.5" y1="277.94" x2="447.5" y2="282.74" stroke="#ff1a1a" stroke-width="0.7" />
<line x1="446.6" y1="277.94" x2="448.39" y2="277.94" stroke="#ff1a1a" stroke-width="0.6" />
<circle cx="447.5" cy="282.74" r="1.15" fill="#ff1a1a"/>
<circle cx="454.95" cy="298.78" r="1.15" fill="#ff1a1a"/>
<circle cx="462.4" cy="301.13" r="1.15" fill="#ff1a1a"/>
<polyline points="380.4,243.01 381.43,243.01 382.45,243.01 383.48,243.01 384.5,243.01 385.53,243.02 386.55,243.02 387.58,243.02 388.6,243.03 389.63,243.03 390.65,243.04 391.68,243.04 392.7,243.05 393.73,243.06 394.75,243.07 395.78,243.09 396.8,243.1 397.83,243.12 398.85,243.14 399.88,243.17 400.9,243.2 401.93,243.24 402.95,243.28 403.98,243.33 405,243.4 406.03,243.47 407.05,243.56 408.08,243.66 409.1,243.78 410.13,243.92 411.15,244.09 412.18,244.29 413.2,244.52 414.23,244.8 415.25,245.12 416.28,245.5 417.3,245.95 418.33,246.46 419.35,247.07 420.38,247.76 421.4,248.57 422.43,249.5 423.45,250.55 424.48,251.76 425.5,253.12 426.53,254.64 427.55,256.32 428.58,258.18 429.6,260.2 430.63,262.37 431.65,264.68 432.68,267.09 433.7,269.6 434.73,272.15 435.75,274.71 436.78,277.25 437.8,279.72 438.83,282.11 439.85,284.37 440.88,286.49 441.9,288.46 442.93,290.26 443.95,291.89 444.98,293.36 446,294.66 447.03,295.81 448.05,296.83 449.08,297.71 450.1,298.48 451.13,299.14 452.15,299.72 453.18,300.21 454.2,300.63 455.23,300.99 456.25,301.3 457.28,301.56 458.3,301.78 459.33,301.97 460.35,302.13 461.38,302.26 462.4,302.38" fill="none" stroke="#9b1111" stroke-width="0.8" />
<circle cx="380.4" cy="242.4" r="1.15" fill="#9b1111"/>
<circle cx="432.58" cy="265.26" r="1.15" fill="#9b1111"/>
<circle cx="440.04" cy="283.35" r="1.15" fill="#9b1111"/>
<circle cx="447.5" cy="297.79" r="1.15" fill="#9b1111"/>
<circle cx="454.95" cy="300.57" r="1.15" fill="#9b1111"/>
<circle cx="462.4" cy="302.65" r="1.15" fill="#9b1111"/>
<polyline points="380.4,243 381.43,243 382.45,243 383.48,243 384.5,243 385.53,243 386.55,243 387.58,243 388.6,243 389.63,243 390.65,243 391.68,243 392.7,243 393.73,243 394.75,243 395.78,243 396.8,243 397.83,243 398.85,243 399.88,243 400.9,243.01 401.93,243.01 402.95,243.01 403.98,243.01 405,243.01 406.03,243.02 407.05,243.02 408.08,243.03 409.1,243.04 410.13,243.05 411.15,243.06 412.18,243.08 413.2,243.11 414.23,243.13 415.25,243.17 416.28,243.22 417.3,243.28 418.33,243.36 419.35,243.46 420.38,243.59 421.4,243.75 422.43,243.96 423.45,244.22 424.48,244.55 425.5,244.97 426.53,245.5 427.55,246.16 428.58,246.99 429.6,248.01 430.63,249.27 431.65,250.8 432.68,252.64 433.7,254.8 434.73,257.32 435.75,260.18 436.78,263.36 437.8,266.8 438.83,270.42 439.85,274.12 440.88,277.79 441.9,281.31 442.93,284.6 443.95,287.59 444.98,290.25 446,292.55 447.03,294.51 448.05,296.16 449.08,297.52 450.1,298.63 451.13,299.53 452.15,300.26 453.18,300.84 454.2,301.3 455.23,301.66 456.25,301.95 457.28,302.18 458.3,302.35 459.33,302.49 460.35,302.6 461.38,302.69 462.4,302.76" fill="none" stroke="#555555" stroke-width="0.8" />
<circle cx="380.4" cy="242.4" r="1.15" fill="#555555"/>
<circle cx="432.58" cy="253.32" r="1.15" fill="#555555"/>
<circle cx="440.04" cy="275.94" r="1.15" fill="#555555"/>
<circle cx="447.5" cy="294.1" r="1.15" fill="#555555"/>
<circle cx="454.95" cy="302.33" r="1.15" fill="#555555"/>
<circle cx="462.4" cy="302.7" r="1.15" fill="#555555"/>
<polyline points="380.4,243 381.43,243 382.45,243 383.48,243 384.5,243 385.53,243 386.55,243 387.58,243 388.6,243 389.63,243 390.65,243 391.68,243 392.7,243 393.73,243 394.75,243 395.78,243 396.8,243 397.83,243 398.85,243 399.88,243.01 400.9,243.01 401.93,243.01 402.95,243.01 403.98,243.02 405,243.02 406.03,243.03 407.05,243.03 408.08,243.04 409.1,243.05 410.13,243.07 411.15,243.09 412.18,243.11 413.2,243.14 414.23,243.18 415.25,243.23 416.28,243.3 417.3,243.38 418.33,243.48 419.35,243.62 420.38,243.79 421.4,244.01 422.43,244.28 423.45,244.63 424.48,245.07 425.5,245.63 426.53,246.32 427.55,247.19 428.58,248.26 429.6,249.57 430.63,251.16 431.65,253.07 432.68,255.31 433.7,257.9 434.73,260.83 435.75,264.07 436.78,267.56 437.8,271.21 438.83,274.91 439.85,278.55 440.88,282.03 441.9,285.26 442.93,288.18 443.95,290.76 444.98,293 446,294.89 447.03,296.47 448.05,297.78 449.08,298.84 450.1,299.7 451.13,300.39 452.15,300.94 453.18,301.38 454.2,301.73 455.23,302 456.25,302.22 457.28,302.39 458.3,302.52 459.33,302.62 460.35,302.71 461.38,302.77 462.4,302.82" fill="none" stroke="#000000" stroke-width="0.8" />
<circle cx="380.4" cy="243.8" r="1.15" fill="#000000"/>
<line x1="432.58" y1="252.23" x2="432.58" y2="254.63" stroke="#000000" stroke-width="0.7" />
<line x1="431.69" y1="252.23" x2="433.48" y2="252.23" stroke="#000000" stroke-width="0.6" />
<circle cx="432.58" cy="254.63" r="1.15" fill="#000000"/>
<circle cx="440.04" cy="278.87" r="1.15" fill="#000000"/>
<circle cx="447.5" cy="297.15" r="1.15" fill="#000000"/>
<circle cx="454.95" cy="302.61" r="1.15" fill="#000000"/>
<circle cx="462.4" cy="302.12" r="1.15" fill="#000000"/>
<line x1="462.3" y1="239.6" x2="469.6" y2="239.6" stroke="#000000" stroke-width="0.8" />
<circle cx="466" cy="239.6" r="1.15" fill="#000000"/>
<text x="472.3" y="241.8" font-size="6.3" fill="#111">ntgB1</text>
<line x1="462.3" y1="249.44" x2="469.6" y2="249.44" stroke="#555555" stroke-width="0.8" />
<circle cx="466" cy="249.44" r="1.15" fill="#555555"/>
<text x="472.3" y="251.64" font-size="6.3" fill="#111">ntgC1</text>
<line x1="462.3" y1="259.28" x2="469.6" y2="259.28" stroke="#9b1111" stroke-width="0.8" />
<circle cx="466" cy="259.28" r="1.15" fill="#9b1111"/>
<text x="472.3" y="261.48" font-size="6.3" fill="#111"><tspan font-style="italic">Lrrc8a</tspan>_C10</text>
<line x1="462.3" y1="269.12" x2="469.6" y2="269.12" stroke="#ff1a1a" stroke-width="0.8" />
<circle cx="466" cy="269.12" r="1.15" fill="#ff1a1a"/>
<text x="472.3" y="271.32" font-size="6.3" fill="#111"><tspan font-style="italic">Lrrc8a</tspan>_D8</text>
<line x1="462.3" y1="278.96" x2="469.6" y2="278.96" stroke="#101080" stroke-width="0.8" />
<circle cx="466" cy="278.96" r="1.15" fill="#101080"/>
<text x="472.3" y="281.16" font-size="6.3" fill="#111"><tspan font-style="italic">Lrrc8d</tspan>_E12</text>
<line x1="462.3" y1="288.8" x2="469.6" y2="288.8" stroke="#4a4aff" stroke-width="0.8" />
<circle cx="466" cy="288.8" r="1.15" fill="#4a4aff"/>
<text x="472.3" y="291" font-size="6.3" fill="#111"><tspan font-style="italic">Lrrc8d</tspan>_G12</text>
<text x="2" y="332.6" font-size="11">I</text>
<line x1="20.4" y1="340.4" x2="20.4" y2="410.1" stroke="#000" stroke-width="1.3" />
<line x1="19.8" y1="409.5" x2="120.8" y2="409.5" stroke="#000" stroke-width="1.3" />
<line x1="18.2" y1="346.3" x2="20.4" y2="346.3" stroke="#000" stroke-width="0.8" />
<text x="17.8" y="348.1" font-size="5" text-anchor="end" font-weight="bold" fill="#222">100</text>
<line x1="18.2" y1="377.9" x2="20.4" y2="377.9" stroke="#000" stroke-width="0.8" />
<text x="17.8" y="379.7" font-size="5" text-anchor="end" font-weight="bold" fill="#222">50</text>
<line x1="18.2" y1="409.5" x2="20.4" y2="409.5" stroke="#000" stroke-width="0.8" />
<text x="17.8" y="411.3" font-size="5" text-anchor="end" font-weight="bold" fill="#222">0</text>
<line x1="20.4" y1="409.5" x2="20.4" y2="411.7" stroke="#000" stroke-width="0.8" />
<text x="20.4" y="418.8" font-size="5" text-anchor="middle" font-weight="bold" fill="#222">-2</text>
<line x1="48.9" y1="409.5" x2="48.9" y2="411.7" stroke="#000" stroke-width="0.8" />
<text x="48.9" y="418.8" font-size="5" text-anchor="middle" font-weight="bold" fill="#222">-1</text>
<line x1="77.4" y1="409.5" x2="77.4" y2="411.7" stroke="#000" stroke-width="0.8" />
<text x="77.4" y="418.8" font-size="5" text-anchor="middle" font-weight="bold" fill="#222">0</text>
<line x1="105.9" y1="409.5" x2="105.9" y2="411.7" stroke="#000" stroke-width="0.8" />
<text x="105.9" y="418.8" font-size="5" text-anchor="middle" font-weight="bold" fill="#222">1</text>
<text x="6" y="375.4" font-size="5.3" text-anchor="middle" font-weight="bold" fill="#222" transform="rotate(-90 6 375.4)">Survival [%]</text>
<text x="74.3" y="424.7" font-size="5.5" text-anchor="middle" fill="#222"><tspan font-weight="bold">log(cisplatin</tspan><tspan font-size="7"> [µmol/L]</tspan></text>
<polyline points="20.4,346.33 21.22,346.33 22.04,346.34 22.86,346.34 23.68,346.35 24.5,346.36 25.32,346.37 26.14,346.38 26.95,346.39 27.77,346.4 28.59,346.42 29.41,346.43 30.23,346.46 31.05,346.48 31.87,346.51 32.69,346.54 33.51,346.58 34.33,346.62 35.15,346.67 35.97,346.73 36.79,346.8 37.61,346.87 38.43,346.96 39.25,347.07 40.06,347.18 40.88,347.32 41.7,347.48 42.52,347.66 43.34,347.87 44.16,348.1 44.98,348.38 45.8,348.69 46.62,349.05 47.44,349.46 48.26,349.93 49.08,350.46 49.9,351.06 50.72,351.74 51.54,352.51 52.36,353.38 53.17,354.35 53.99,355.43 54.81,356.62 55.63,357.94 56.45,359.39 57.27,360.97 58.09,362.67 58.91,364.5 59.73,366.44 60.55,368.49 61.37,370.63 62.19,372.84 63.01,375.11 63.83,377.4 64.65,379.7 65.47,381.98 66.28,384.22 67.1,386.39 67.92,388.48 68.74,390.47 69.56,392.35 70.38,394.11 71.2,395.74 72.02,397.24 72.84,398.62 73.66,399.87 74.48,401 75.3,402.01 76.12,402.92 76.94,403.73 77.76,404.45 78.58,405.09 79.39,405.65 80.21,406.14 81.03,406.58 81.85,406.96 82.67,407.29 83.49,407.58 84.31,407.83 85.13,408.05 85.95,408.25" fill="none" stroke="#ffaaaa" stroke-width="0.8" />
<circle cx="20.4" cy="346.2" r="1.0" fill="#fff" stroke="#ffaaaa" stroke-width="0.5"/>
<circle cx="43.2" cy="347.19" r="1.0" fill="#fff" stroke="#ffaaaa" stroke-width="0.5"/>
<circle cx="60.3" cy="367.23" r="1.0" fill="#fff" stroke="#ffaaaa" stroke-width="0.5"/>
<circle cx="68.85" cy="389.8" r="1.0" fill="#fff" stroke="#ffaaaa" stroke-width="0.5"/>
<circle cx="77.4" cy="404.69" r="1.0" fill="#fff" stroke="#ffaaaa" stroke-width="0.5"/>
<circle cx="85.95" cy="407.07" r="1.0" fill="#fff" stroke="#ffaaaa" stroke-width="0.5"/>
<polyline points="20.4,346.3 21.43,346.3 22.47,346.3 23.5,346.3 24.53,346.3 25.57,346.3 26.6,346.3 27.63,346.3 28.66,346.3 29.7,346.3 30.73,346.3 31.76,346.3 32.8,346.3 33.83,346.3 34.86,346.3 35.9,346.3 36.93,346.3 37.96,346.3 39,346.3 40.03,346.3 41.06,346.3 42.1,346.3 43.13,346.3 44.16,346.3 45.19,346.3 46.23,346.3 47.26,346.3 48.29,346.3 49.33,346.3 50.36,346.3 51.39,346.3 52.43,346.31 53.46,346.31 54.49,346.31 55.53,346.32 56.56,346.32 57.59,346.33 58.63,346.34 59.66,346.36 60.69,346.39 61.72,346.42 62.76,346.47 63.79,346.53 64.82,346.63 65.86,346.75 66.89,346.93 67.92,347.18 68.96,347.52 69.99,347.99 71.02,348.64 72.06,349.52 73.09,350.71 74.12,352.29 75.16,354.36 76.19,357.02 77.22,360.32 78.25,364.3 79.29,368.88 80.32,373.92 81.35,379.17 82.39,384.36 83.42,389.2 84.45,393.5 85.49,397.16 86.52,400.14 87.55,402.51 88.59,404.33 89.62,405.71 90.65,406.74 91.69,407.5 92.72,408.05 93.75,408.46 94.78,408.75 95.82,408.96 96.85,409.11 97.88,409.22 98.92,409.3 99.95,409.36 100.98,409.4 102.02,409.43 103.05,409.45" fill="none" stroke="#ffa050" stroke-width="0.8" />
<circle cx="20.4" cy="346.23" r="1.0" fill="#fff" stroke="#ffa050" stroke-width="0.5"/>
<line x1="43.2" y1="342.29" x2="43.2" y2="346.08" stroke="#ffa050" stroke-width="0.7" />
<line x1="42.3" y1="342.29" x2="44.1" y2="342.29" stroke="#ffa050" stroke-width="0.6" />
<circle cx="43.2" cy="346.08" r="1.0" fill="#fff" stroke="#ffa050" stroke-width="0.5"/>
<circle cx="60.3" cy="345.67" r="1.0" fill="#fff" stroke="#ffa050" stroke-width="0.5"/>
<circle cx="68.85" cy="346.47" r="1.0" fill="#fff" stroke="#ffa050" stroke-width="0.5"/>
<circle cx="77.4" cy="359.99" r="1.0" fill="#fff" stroke="#ffa050" stroke-width="0.5"/>
<line x1="85.95" y1="393.23" x2="85.95" y2="398.92" stroke="#ffa050" stroke-width="0.7" />
<line x1="85.05" y1="393.23" x2="86.85" y2="393.23" stroke="#ffa050" stroke-width="0.6" />
<circle cx="85.95" cy="398.92" r="1.0" fill="#fff" stroke="#ffa050" stroke-width="0.5"/>
<circle cx="94.5" cy="407.54" r="1.0" fill="#fff" stroke="#ffa050" stroke-width="0.5"/>
<circle cx="103.05" cy="409.18" r="1.0" fill="#fff" stroke="#ffa050" stroke-width="0.5"/>
<polyline points="20.4,346.3 21.43,346.3 22.47,346.3 23.5,346.3 24.53,346.3 25.57,346.3 26.6,346.3 27.63,346.3 28.66,346.3 29.7,346.3 30.73,346.3 31.76,346.3 32.8,346.3 33.83,346.3 34.86,346.3 35.9,346.3 36.93,346.3 37.96,346.3 39,346.3 40.03,346.3 41.06,346.3 42.1,346.3 43.13,346.3 44.16,346.3 45.19,346.3 46.23,346.3 47.26,346.3 48.29,346.3 49.33,346.3 50.36,346.3 51.39,346.3 52.43,346.3 53.46,346.3 54.49,346.31 55.53,346.31 56.56,346.31 57.59,346.31 58.63,346.32 59.66,346.32 60.69,346.33 61.72,346.34 62.76,346.35 63.79,346.37 64.82,346.39 65.86,346.42 66.89,346.45 67.92,346.5 68.96,346.57 69.99,346.66 71.02,346.77 72.06,346.93 73.09,347.13 74.12,347.4 75.16,347.75 76.19,348.22 77.22,348.82 78.25,349.61 79.29,350.62 80.32,351.91 81.35,353.54 82.39,355.57 83.42,358.04 84.45,361 85.49,364.44 86.52,368.32 87.55,372.54 88.59,376.97 89.62,381.44 90.65,385.77 91.69,389.81 92.72,393.44 93.75,396.59 94.78,399.27 95.82,401.47 96.85,403.26 97.88,404.69 98.92,405.81 99.95,406.68 100.98,407.35 102.02,407.87 103.05,408.26" fill="none" stroke="#ff7f10" stroke-width="0.8" />
<circle cx="20.4" cy="346.12" r="1.15" fill="#ff7f10"/>
<circle cx="43.2" cy="345.97" r="1.15" fill="#ff7f10"/>
<circle cx="60.3" cy="345.67" r="1.15" fill="#ff7f10"/>
<circle cx="68.85" cy="347.13" r="1.15" fill="#ff7f10"/>
<line x1="77.4" y1="346.03" x2="77.4" y2="348.56" stroke="#ff7f10" stroke-width="0.7" />
<line x1="76.5" y1="346.03" x2="78.3" y2="346.03" stroke="#ff7f10" stroke-width="0.6" />
<circle cx="77.4" cy="348.56" r="1.15" fill="#ff7f10"/>
<line x1="85.95" y1="360.71" x2="85.95" y2="365.14" stroke="#ff7f10" stroke-width="0.7" />
<line x1="85.05" y1="360.71" x2="86.85" y2="360.71" stroke="#ff7f10" stroke-width="0.6" />
<circle cx="85.95" cy="365.14" r="1.15" fill="#ff7f10"/>
<line x1="94.5" y1="391.86" x2="94.5" y2="397.54" stroke="#ff7f10" stroke-width="0.7" />
<line x1="93.6" y1="391.86" x2="95.4" y2="391.86" stroke="#ff7f10" stroke-width="0.6" />
<circle cx="94.5" cy="397.54" r="1.15" fill="#ff7f10"/>
<circle cx="103.05" cy="409.06" r="1.15" fill="#ff7f10"/>
<polyline points="20.4,346.3 21.43,346.3 22.47,346.3 23.5,346.3 24.53,346.3 25.57,346.3 26.6,346.3 27.63,346.3 28.66,346.3 29.7,346.3 30.73,346.3 31.76,346.3 32.8,346.3 33.83,346.3 34.86,346.3 35.9,346.3 36.93,346.3 37.96,346.3 39,346.3 40.03,346.3 41.06,346.3 42.1,346.3 43.13,346.3 44.16,346.3 45.19,346.3 46.23,346.3 47.26,346.3 48.29,346.3 49.33,346.3 50.36,346.3 51.39,346.3 52.43,346.3 53.46,346.3 54.49,346.3 55.53,346.3 56.56,346.3 57.59,346.3 58.63,346.3 59.66,346.3 60.69,346.3 61.72,346.3 62.76,346.3 63.79,346.3 64.82,346.3 65.86,346.3 66.89,346.3 67.92,346.3 68.96,346.3 69.99,346.3 71.02,346.3 72.06,346.3 73.09,346.31 74.12,346.31 75.16,346.31 76.19,346.32 77.22,346.33 78.25,346.35 79.29,346.38 80.32,346.42 81.35,346.48 82.39,346.57 83.42,346.7 84.45,346.91 85.49,347.22 86.52,347.68 87.55,348.38 88.59,349.4 89.62,350.89 90.65,353.01 91.69,355.96 92.72,359.89 93.75,364.86 94.78,370.75 95.82,377.22 96.85,383.74 97.88,389.79 98.92,394.97 99.95,399.11 100.98,402.25 102.02,404.53 103.05,406.14" fill="none" stroke="#ff1010" stroke-width="0.8" />
<circle cx="20.4" cy="347.37" r="1.15" fill="#ff1010"/>
<circle cx="43.2" cy="347.02" r="1.15" fill="#ff1010"/>
<circle cx="60.3" cy="346.8" r="1.15" fill="#ff1010"/>
<circle cx="68.85" cy="345.67" r="1.15" fill="#ff1010"/>
<circle cx="77.4" cy="346.34" r="1.15" fill="#ff1010"/>
<circle cx="85.95" cy="346.85" r="1.15" fill="#ff1010"/>
<circle cx="94.5" cy="370.06" r="1.15" fill="#ff1010"/>
<circle cx="103.05" cy="406.11" r="1.15" fill="#ff1010"/>
<polyline points="20.4,346.35 21.22,346.35 22.04,346.36 22.86,346.37 23.68,346.38 24.5,346.39 25.32,346.41 26.14,346.42 26.95,346.44 27.77,346.46 28.59,346.48 29.41,346.51 30.23,346.53 31.05,346.57 31.87,346.6 32.69,346.65 33.51,346.7 34.33,346.75 35.15,346.82 35.97,346.89 36.79,346.97 37.61,347.06 38.43,347.17 39.25,347.29 40.06,347.43 40.88,347.59 41.7,347.76 42.52,347.97 43.34,348.19 44.16,348.45 44.98,348.75 45.8,349.08 46.62,349.45 47.44,349.87 48.26,350.35 49.08,350.88 49.9,351.47 50.72,352.14 51.54,352.88 52.36,353.7 53.17,354.61 53.99,355.61 54.81,356.71 55.63,357.92 56.45,359.22 57.27,360.64 58.09,362.16 58.91,363.78 59.73,365.5 60.55,367.32 61.37,369.22 62.19,371.18 63.01,373.21 63.83,375.27 64.65,377.35 65.47,379.44 66.28,381.52 67.1,383.57 67.92,385.57 68.74,387.5 69.56,389.36 70.38,391.13 71.2,392.81 72.02,394.38 72.84,395.85 73.66,397.22 74.48,398.47 75.3,399.63 76.12,400.68 76.94,401.64 77.76,402.51 78.58,403.29 79.39,403.99 80.21,404.62 81.03,405.18 81.85,405.69 82.67,406.14 83.49,406.53 84.31,406.89 85.13,407.2 85.95,407.47" fill="none" stroke="#000" stroke-width="0.8" />
<circle cx="20.4" cy="347.58" r="1.15" fill="#000"/>
<circle cx="43.2" cy="349.13" r="1.15" fill="#000"/>
<line x1="60.3" y1="362.6" x2="60.3" y2="367.03" stroke="#000" stroke-width="0.7" />
<line x1="59.4" y1="362.6" x2="61.2" y2="362.6" stroke="#000" stroke-width="0.6" />
<circle cx="60.3" cy="367.03" r="1.15" fill="#000"/>
<line x1="68.85" y1="382.23" x2="68.85" y2="387.28" stroke="#000" stroke-width="0.7" />
<line x1="67.95" y1="382.23" x2="69.75" y2="382.23" stroke="#000" stroke-width="0.6" />
<circle cx="68.85" cy="387.28" r="1.15" fill="#000"/>
<line x1="77.4" y1="398.63" x2="77.4" y2="403.05" stroke="#000" stroke-width="0.7" />
<line x1="76.5" y1="398.63" x2="78.3" y2="398.63" stroke="#000" stroke-width="0.6" />
<circle cx="77.4" cy="403.05" r="1.15" fill="#000"/>
<circle cx="85.95" cy="408.45" r="1.15" fill="#000"/>
<line x1="0.2" y1="436.1" x2="9" y2="436.1" stroke="#000" stroke-width="0.8" />
<circle cx="4.6" cy="436.1" r="1.25" fill="#000"/>
<text x="13.8" y="438.4" font-size="6.85" fill="#111">ntgC1+ pOZ empty</text>
<line x1="0.2" y1="444.6" x2="9" y2="444.6" stroke="#ff1010" stroke-width="0.8" />
<circle cx="4.6" cy="444.6" r="1.25" fill="#ff1010"/>
<text x="13.8" y="446.9" font-size="6.85" fill="#111"><tspan font-style="italic">Lrrc8a</tspan>_D8 + pOZ empty</text>
<line x1="0.2" y1="453.1" x2="9" y2="453.1" stroke="#ff7f10" stroke-width="0.8" />
<circle cx="4.6" cy="453.1" r="1.25" fill="#ff7f10"/>
<text x="13.8" y="455.4" font-size="6.85" fill="#111"><tspan font-style="italic">Lrrc8a</tspan>_D8 + <tspan font-style="italic">Lrrc8a</tspan> wt</text>
<line x1="0.2" y1="461.6" x2="9" y2="461.6" stroke="#ffa050" stroke-width="0.8" />
<circle cx="4.6" cy="461.6" r="1.2" fill="#fff" stroke="#ffa050" stroke-width="0.6"/>
<text x="13.8" y="463.9" font-size="6.85" fill="#111"><tspan font-style="italic">Lrrc8a</tspan>_D8 + <tspan font-style="italic">Lrrc8a</tspan> wt clone 8</text>
<line x1="0.2" y1="470.1" x2="9" y2="470.1" stroke="#ffaaaa" stroke-width="0.8" />
<circle cx="4.6" cy="470.1" r="1.2" fill="#fff" stroke="#ffaaaa" stroke-width="0.6"/>
<text x="13.8" y="472.4" font-size="6.85" fill="#111"><tspan font-style="italic">Lrrc8a</tspan>_D8 + <tspan font-style="italic">Lrrc8a</tspan> wt clone 19</text>
<polyline points="88.2,445.1 118.7,445.1 118.7,462.3 112.8,462.3" fill="none" stroke="#333" stroke-width="0.9" />
<polyline points="112.8,450.9 112.8,473.7" fill="none" stroke="#333" stroke-width="0.9" />
<text x="119.75" y="454.9" font-size="6" font-weight="bold" text-anchor="middle" transform="rotate(90 119.75 454.9)" fill="#111">****</text>
<text x="173" y="332.6" font-size="11">J</text>
<line x1="195.6" y1="341.1" x2="195.6" y2="410.1" stroke="#000" stroke-width="1.3" />
<line x1="195" y1="409.5" x2="294.2" y2="409.5" stroke="#000" stroke-width="1.3" />
<line x1="193.4" y1="347.2" x2="195.6" y2="347.2" stroke="#000" stroke-width="0.8" />
<text x="193" y="349" font-size="5" text-anchor="end" font-weight="bold" fill="#222">100</text>
<line x1="193.4" y1="378.35" x2="195.6" y2="378.35" stroke="#000" stroke-width="0.8" />
<text x="193" y="380.15" font-size="5" text-anchor="end" font-weight="bold" fill="#222">50</text>
<line x1="193.4" y1="409.5" x2="195.6" y2="409.5" stroke="#000" stroke-width="0.8" />
<text x="193" y="411.3" font-size="5" text-anchor="end" font-weight="bold" fill="#222">0</text>
<line x1="205.71" y1="409.5" x2="205.71" y2="411.7" stroke="#000" stroke-width="0.8" />
<text x="205.71" y="418.8" font-size="5" text-anchor="middle" font-weight="bold" fill="#222">-1</text>
<line x1="235.01" y1="409.5" x2="235.01" y2="411.7" stroke="#000" stroke-width="0.8" />
<text x="235.01" y="418.8" font-size="5" text-anchor="middle" font-weight="bold" fill="#222">0</text>
<line x1="264.31" y1="409.5" x2="264.31" y2="411.7" stroke="#000" stroke-width="0.8" />
<text x="264.31" y="418.8" font-size="5" text-anchor="middle" font-weight="bold" fill="#222">1</text>
<line x1="293.61" y1="409.5" x2="293.61" y2="411.7" stroke="#000" stroke-width="0.8" />
<text x="293.61" y="418.8" font-size="5" text-anchor="middle" font-weight="bold" fill="#222">2</text>
<text x="181.5" y="378" font-size="5.3" text-anchor="middle" font-weight="bold" fill="#222" transform="rotate(-90 181.5 378)">Survival [%]</text>
<text x="250.9" y="424.7" font-size="5.5" text-anchor="middle" fill="#222"><tspan font-weight="bold">log(carboplatin</tspan><tspan font-size="7"> [µmol/L]</tspan></text>
<polyline points="195.6,347.2 196.53,347.2 197.46,347.2 198.4,347.2 199.33,347.2 200.26,347.2 201.19,347.2 202.12,347.2 203.06,347.2 203.99,347.2 204.92,347.2 205.85,347.2 206.79,347.2 207.72,347.2 208.65,347.2 209.58,347.2 210.51,347.2 211.45,347.2 212.38,347.2 213.31,347.2 214.24,347.2 215.17,347.2 216.11,347.2 217.04,347.2 217.97,347.2 218.9,347.2 219.83,347.2 220.77,347.2 221.7,347.2 222.63,347.21 223.56,347.21 224.5,347.21 225.43,347.21 226.36,347.22 227.29,347.23 228.22,347.23 229.16,347.24 230.09,347.26 231.02,347.28 231.95,347.3 232.88,347.33 233.82,347.38 234.75,347.43 235.68,347.51 236.61,347.6 237.54,347.73 238.48,347.9 239.41,348.12 240.34,348.41 241.27,348.79 242.21,349.28 243.14,349.92 244.07,350.75 245,351.8 245.93,353.14 246.87,354.82 247.8,356.88 248.73,359.38 249.66,362.34 250.59,365.75 251.53,369.57 252.46,373.69 253.39,377.99 254.32,382.31 255.25,386.47 256.19,390.35 257.12,393.83 258.05,396.86 258.98,399.44 259.92,401.57 260.85,403.31 261.78,404.7 262.71,405.79 263.64,406.65 264.58,407.32 265.51,407.84 266.44,408.23 267.37,408.54 268.3,408.77 269.24,408.94 270.17,409.08" fill="none" stroke="#ffaaaa" stroke-width="0.8" />
<circle cx="195.6" cy="347.77" r="1.0" fill="#fff" stroke="#ffaaaa" stroke-width="0.5"/>
<circle cx="235.01" cy="347.48" r="1.0" fill="#fff" stroke="#ffaaaa" stroke-width="0.5"/>
<circle cx="243.8" cy="351.53" r="1.0" fill="#fff" stroke="#ffaaaa" stroke-width="0.5"/>
<line x1="252.59" y1="371.57" x2="252.59" y2="374.69" stroke="#ffaaaa" stroke-width="0.7" />
<line x1="251.69" y1="371.57" x2="253.49" y2="371.57" stroke="#ffaaaa" stroke-width="0.6" />
<circle cx="252.59" cy="374.69" r="1.0" fill="#fff" stroke="#ffaaaa" stroke-width="0.5"/>
<circle cx="261.38" cy="405.2" r="1.0" fill="#fff" stroke="#ffaaaa" stroke-width="0.5"/>
<circle cx="270.17" cy="409.19" r="1.0" fill="#fff" stroke="#ffaaaa" stroke-width="0.5"/>
<polyline points="195.6,347.2 196.64,347.2 197.68,347.2 198.73,347.2 199.77,347.2 200.81,347.2 201.85,347.2 202.89,347.2 203.94,347.2 204.98,347.2 206.02,347.2 207.06,347.2 208.1,347.2 209.15,347.2 210.19,347.2 211.23,347.2 212.27,347.2 213.31,347.2 214.36,347.2 215.4,347.2 216.44,347.2 217.48,347.2 218.52,347.2 219.57,347.2 220.61,347.2 221.65,347.2 222.69,347.2 223.73,347.2 224.78,347.2 225.82,347.2 226.86,347.2 227.9,347.2 228.94,347.2 229.99,347.2 231.03,347.2 232.07,347.2 233.11,347.2 234.15,347.2 235.2,347.2 236.24,347.2 237.28,347.2 238.32,347.2 239.36,347.2 240.41,347.2 241.45,347.2 242.49,347.2 243.53,347.2 244.57,347.2 245.62,347.2 246.66,347.2 247.7,347.21 248.74,347.21 249.78,347.22 250.83,347.24 251.87,347.27 252.91,347.32 253.95,347.4 254.99,347.54 256.03,347.78 257.08,348.17 258.12,348.84 259.16,349.94 260.2,351.73 261.24,354.54 262.29,358.74 263.33,364.58 264.37,371.94 265.41,380.14 266.45,388.09 267.5,394.85 268.54,399.97 269.58,403.53 270.62,405.85 271.66,407.3 272.71,408.19 273.75,408.72 274.79,409.04 275.83,409.23 276.87,409.34 277.92,409.41 278.96,409.45" fill="none" stroke="#ffa050" stroke-width="0.8" />
<circle cx="195.6" cy="347.43" r="1.0" fill="#fff" stroke="#ffa050" stroke-width="0.5"/>
<circle cx="235.01" cy="347.1" r="1.0" fill="#fff" stroke="#ffa050" stroke-width="0.5"/>
<circle cx="243.8" cy="346.58" r="1.0" fill="#fff" stroke="#ffa050" stroke-width="0.5"/>
<circle cx="252.59" cy="348.11" r="1.0" fill="#fff" stroke="#ffa050" stroke-width="0.5"/>
<circle cx="261.38" cy="355.67" r="1.0" fill="#fff" stroke="#ffa050" stroke-width="0.5"/>
<circle cx="270.17" cy="406.14" r="1.0" fill="#fff" stroke="#ffa050" stroke-width="0.5"/>
<circle cx="278.96" cy="409.19" r="1.0" fill="#fff" stroke="#ffa050" stroke-width="0.5"/>
<polyline points="195.6,347.2 196.64,347.2 197.68,347.2 198.73,347.2 199.77,347.2 200.81,347.2 201.85,347.2 202.89,347.2 203.94,347.2 204.98,347.2 206.02,347.2 207.06,347.2 208.1,347.2 209.15,347.2 210.19,347.2 211.23,347.2 212.27,347.2 213.31,347.2 214.36,347.2 215.4,347.2 216.44,347.2 217.48,347.2 218.52,347.2 219.57,347.2 220.61,347.2 221.65,347.2 222.69,347.2 223.73,347.2 224.78,347.2 225.82,347.2 226.86,347.2 227.9,347.2 228.94,347.2 229.99,347.2 231.03,347.2 232.07,347.2 233.11,347.2 234.15,347.2 235.2,347.2 236.24,347.2 237.28,347.2 238.32,347.2 239.36,347.2 240.41,347.2 241.45,347.2 242.49,347.21 243.53,347.21 244.57,347.21 245.62,347.21 246.66,347.22 247.7,347.23 248.74,347.24 249.78,347.25 250.83,347.27 251.87,347.3 252.91,347.34 253.95,347.4 254.99,347.48 256.03,347.58 257.08,347.73 258.12,347.93 259.16,348.21 260.2,348.59 261.24,349.12 262.29,349.83 263.33,350.79 264.37,352.07 265.41,353.76 266.45,355.95 267.5,358.71 268.54,362.1 269.58,366.12 270.62,370.69 271.66,375.64 272.71,380.73 273.75,385.7 274.79,390.29 275.83,394.35 276.87,397.79 277.92,400.59 278.96,402.81" fill="none" stroke="#ff7f10" stroke-width="0.8" />
<circle cx="195.6" cy="348.35" r="1.15" fill="#ff7f10"/>
<circle cx="235.01" cy="346.71" r="1.15" fill="#ff7f10"/>
<circle cx="243.8" cy="348.1" r="1.15" fill="#ff7f10"/>
<circle cx="252.59" cy="347.42" r="1.15" fill="#ff7f10"/>
<circle cx="261.38" cy="348.77" r="1.15" fill="#ff7f10"/>
<circle cx="270.17" cy="367.91" r="1.15" fill="#ff7f10"/>
<circle cx="278.96" cy="402.93" r="1.15" fill="#ff7f10"/>
<polyline points="195.6,347.2 196.64,347.2 197.68,347.2 198.73,347.2 199.77,347.2 200.81,347.2 201.85,347.2 202.89,347.2 203.94,347.2 204.98,347.2 206.02,347.2 207.06,347.2 208.1,347.2 209.15,347.2 210.19,347.2 211.23,347.2 212.27,347.2 213.31,347.2 214.36,347.2 215.4,347.2 216.44,347.2 217.48,347.2 218.52,347.2 219.57,347.2 220.61,347.2 221.65,347.2 222.69,347.2 223.73,347.2 224.78,347.2 225.82,347.2 226.86,347.2 227.9,347.2 228.94,347.2 229.99,347.2 231.03,347.2 232.07,347.2 233.11,347.2 234.15,347.2 235.2,347.2 236.24,347.2 237.28,347.2 238.32,347.2 239.36,347.2 240.41,347.2 241.45,347.2 242.49,347.2 243.53,347.2 244.57,347.2 245.62,347.2 246.66,347.21 247.7,347.21 248.74,347.21 249.78,347.22 250.83,347.22 251.87,347.24 252.91,347.25 253.95,347.27 254.99,347.3 256.03,347.34 257.08,347.41 258.12,347.49 259.16,347.61 260.2,347.79 261.24,348.03 262.29,348.38 263.33,348.86 264.37,349.53 265.41,350.47 266.45,351.75 267.5,353.47 268.54,355.75 269.58,358.7 270.62,362.37 271.66,366.76 272.71,371.76 273.75,377.15 274.79,382.6 275.83,387.81 276.87,392.49 277.92,396.48 278.96,399.74" fill="none" stroke="#ff1010" stroke-width="0.8" />
<circle cx="195.6" cy="346.85" r="1.15" fill="#ff1010"/>
<line x1="235.01" y1="345.89" x2="235.01" y2="348.38" stroke="#ff1010" stroke-width="0.7" />
<line x1="234.11" y1="345.89" x2="235.91" y2="345.89" stroke="#ff1010" stroke-width="0.6" />
<circle cx="235.01" cy="348.38" r="1.15" fill="#ff1010"/>
<circle cx="243.8" cy="347.76" r="1.15" fill="#ff1010"/>
<circle cx="252.59" cy="347.93" r="1.15" fill="#ff1010"/>
<line x1="261.38" y1="344.99" x2="261.38" y2="347.48" stroke="#ff1010" stroke-width="0.7" />
<line x1="260.48" y1="344.99" x2="262.28" y2="344.99" stroke="#ff1010" stroke-width="0.6" />
<circle cx="261.38" cy="347.48" r="1.15" fill="#ff1010"/>
<circle cx="270.17" cy="360.24" r="1.15" fill="#ff1010"/>
<circle cx="278.96" cy="398.76" r="1.15" fill="#ff1010"/>
<polyline points="195.6,347.2 196.53,347.2 197.46,347.2 198.4,347.2 199.33,347.2 200.26,347.2 201.19,347.2 202.12,347.2 203.06,347.2 203.99,347.2 204.92,347.2 205.85,347.2 206.79,347.2 207.72,347.21 208.65,347.21 209.58,347.21 210.51,347.21 211.45,347.21 212.38,347.21 213.31,347.22 214.24,347.22 215.17,347.23 216.11,347.23 217.04,347.24 217.97,347.25 218.9,347.26 219.83,347.27 220.77,347.28 221.7,347.3 222.63,347.32 223.56,347.35 224.5,347.38 225.43,347.42 226.36,347.46 227.29,347.52 228.22,347.59 229.16,347.67 230.09,347.77 231.02,347.89 231.95,348.04 232.88,348.21 233.82,348.42 234.75,348.68 235.68,348.99 236.61,349.36 237.54,349.8 238.48,350.33 239.41,350.96 240.34,351.71 241.27,352.59 242.21,353.63 243.14,354.84 244.07,356.24 245,357.84 245.93,359.66 246.87,361.71 247.8,363.98 248.73,366.47 249.66,369.14 250.59,371.97 251.53,374.92 252.46,377.93 253.39,380.95 254.32,383.91 255.25,386.78 256.19,389.5 257.12,392.04 258.05,394.38 258.98,396.49 259.92,398.37 260.85,400.04 261.78,401.49 262.71,402.75 263.64,403.83 264.58,404.76 265.51,405.54 266.44,406.2 267.37,406.76 268.3,407.23 269.24,407.61 270.17,407.94" fill="none" stroke="#000" stroke-width="0.8" />
<circle cx="195.6" cy="347.5" r="1.15" fill="#000"/>
<circle cx="235.01" cy="349.43" r="1.15" fill="#000"/>
<circle cx="243.8" cy="356.64" r="1.15" fill="#000"/>
<circle cx="252.59" cy="377.32" r="1.15" fill="#000"/>
<circle cx="261.38" cy="400.7" r="1.15" fill="#000"/>
<circle cx="270.17" cy="407.46" r="1.15" fill="#000"/>
<line x1="177.5" y1="436.1" x2="186.3" y2="436.1" stroke="#000" stroke-width="0.8" />
<circle cx="181.9" cy="436.1" r="1.25" fill="#000"/>
<text x="190.5" y="438.4" font-size="6.85" fill="#111">ntgC1+ pOZ empty</text>
<line x1="177.5" y1="444.6" x2="186.3" y2="444.6" stroke="#ff1010" stroke-width="0.8" />
<circle cx="181.9" cy="444.6" r="1.25" fill="#ff1010"/>
<text x="190.5" y="446.9" font-size="6.85" fill="#111"><tspan font-style="italic">Lrrc8a</tspan>_D8 + pOZ empty</text>
<line x1="177.5" y1="453.1" x2="186.3" y2="453.1" stroke="#ff7f10" stroke-width="0.8" />
<circle cx="181.9" cy="453.1" r="1.25" fill="#ff7f10"/>
<text x="190.5" y="455.4" font-size="6.85" fill="#111"><tspan font-style="italic">Lrrc8a</tspan>_D8 + <tspan font-style="italic">Lrrc8a</tspan> wt</text>
<line x1="177.5" y1="461.6" x2="186.3" y2="461.6" stroke="#ffa050" stroke-width="0.8" />
<circle cx="181.9" cy="461.6" r="1.2" fill="#fff" stroke="#ffa050" stroke-width="0.6"/>
<text x="190.5" y="463.9" font-size="6.85" fill="#111"><tspan font-style="italic">Lrrc8a</tspan>_D8 + <tspan font-style="italic">Lrrc8a</tspan> wt clone 8</text>
<line x1="177.5" y1="470.1" x2="186.3" y2="470.1" stroke="#ffaaaa" stroke-width="0.8" />
<circle cx="181.9" cy="470.1" r="1.2" fill="#fff" stroke="#ffaaaa" stroke-width="0.6"/>
<text x="190.5" y="472.4" font-size="6.85" fill="#111"><tspan font-style="italic">Lrrc8a</tspan>_D8 + <tspan font-style="italic">Lrrc8a</tspan> wt clone 19</text>
<polyline points="265.6,444.8 273,444.8 273,453.1 262.2,453.1" fill="none" stroke="#333" stroke-width="0.9" />
<text x="272.25" y="449.2" font-size="6" font-weight="bold" text-anchor="middle" transform="rotate(90 272.25 449.2)" fill="#111">**</text>
<polyline points="279,444.8 291.8,444.8 291.8,465.3 287.8,465.3" fill="none" stroke="#333" stroke-width="0.9" />
<polyline points="287.8,459.9 287.8,470.4" fill="none" stroke="#333" stroke-width="0.9" />
<text x="291.45" y="454.7" font-size="6" font-weight="bold" text-anchor="middle" transform="rotate(90 291.45 454.7)" fill="#111">****</text>
<text x="1.7" y="486.6" font-size="11">K</text>
<line x1="20.4" y1="487" x2="20.4" y2="556.6" stroke="#000" stroke-width="1.3" />
<line x1="19.8" y1="556" x2="120.5" y2="556" stroke="#000" stroke-width="1.3" />
<line x1="18.2" y1="493.4" x2="20.4" y2="493.4" stroke="#000" stroke-width="0.8" />
<text x="17.8" y="495.2" font-size="5" text-anchor="end" font-weight="bold" fill="#222">100</text>
<line x1="18.2" y1="524.7" x2="20.4" y2="524.7" stroke="#000" stroke-width="0.8" />
<text x="17.8" y="526.5" font-size="5" text-anchor="end" font-weight="bold" fill="#222">50</text>
<line x1="18.2" y1="556" x2="20.4" y2="556" stroke="#000" stroke-width="0.8" />
<text x="17.8" y="557.8" font-size="5" text-anchor="end" font-weight="bold" fill="#222">0</text>
<line x1="20.4" y1="556" x2="20.4" y2="558.2" stroke="#000" stroke-width="0.8" />
<text x="20.4" y="564.3" font-size="5" text-anchor="middle" font-weight="bold" fill="#222">-2</text>
<line x1="48.8" y1="556" x2="48.8" y2="558.2" stroke="#000" stroke-width="0.8" />
<text x="48.8" y="564.3" font-size="5" text-anchor="middle" font-weight="bold" fill="#222">-1</text>
<line x1="77.2" y1="556" x2="77.2" y2="558.2" stroke="#000" stroke-width="0.8" />
<text x="77.2" y="564.3" font-size="5" text-anchor="middle" font-weight="bold" fill="#222">0</text>
<line x1="105.6" y1="556" x2="105.6" y2="558.2" stroke="#000" stroke-width="0.8" />
<text x="105.6" y="564.3" font-size="5" text-anchor="middle" font-weight="bold" fill="#222">1</text>
<text x="5.6" y="525" font-size="5.3" text-anchor="middle" font-weight="bold" fill="#222" transform="rotate(-90 5.6 525)">Survival [%]</text>
<text x="76.5" y="573" font-size="5.5" text-anchor="middle" fill="#222"><tspan font-weight="bold">log(cisplatin</tspan><tspan font-size="7"> [µmol/L]</tspan></text>
<polyline points="20.4,493.45 21.22,493.46 22.03,493.47 22.85,493.48 23.67,493.49 24.48,493.51 25.3,493.52 26.12,493.54 26.93,493.56 27.75,493.58 28.57,493.6 29.38,493.63 30.2,493.67 31.01,493.7 31.83,493.75 32.65,493.79 33.46,493.85 34.28,493.91 35.1,493.99 35.91,494.07 36.73,494.16 37.55,494.27 38.36,494.39 39.18,494.53 40,494.68 40.81,494.86 41.63,495.06 42.45,495.29 43.26,495.55 44.08,495.84 44.89,496.17 45.71,496.54 46.53,496.96 47.34,497.43 48.16,497.96 48.98,498.55 49.79,499.21 50.61,499.95 51.43,500.77 52.24,501.67 53.06,502.67 53.88,503.76 54.69,504.96 55.51,506.26 56.33,507.66 57.14,509.18 57.96,510.79 58.78,512.5 59.59,514.3 60.41,516.18 61.22,518.13 62.04,520.14 62.86,522.18 63.67,524.25 64.49,526.32 65.31,528.38 66.12,530.4 66.94,532.38 67.76,534.29 68.57,536.13 69.39,537.88 70.21,539.54 71.02,541.09 71.84,542.54 72.66,543.89 73.47,545.13 74.29,546.27 75.11,547.31 75.92,548.25 76.74,549.11 77.56,549.88 78.37,550.57 79.19,551.19 80,551.75 80.82,552.24 81.64,552.69 82.45,553.08 83.27,553.42 84.09,553.73 84.9,554 85.72,554.25" fill="none" stroke="#a8a8ff" stroke-width="0.8" />
<circle cx="20.4" cy="494.99" r="1.0" fill="#fff" stroke="#a8a8ff" stroke-width="0.5"/>
<circle cx="43.12" cy="493.81" r="1.0" fill="#fff" stroke="#a8a8ff" stroke-width="0.5"/>
<circle cx="60.16" cy="516.92" r="1.0" fill="#fff" stroke="#a8a8ff" stroke-width="0.5"/>
<circle cx="68.68" cy="535.46" r="1.0" fill="#fff" stroke="#a8a8ff" stroke-width="0.5"/>
<circle cx="77.2" cy="548.27" r="1.0" fill="#fff" stroke="#a8a8ff" stroke-width="0.5"/>
<circle cx="85.72" cy="553.32" r="1.0" fill="#fff" stroke="#a8a8ff" stroke-width="0.5"/>
<polyline points="20.4,493.48 21.22,493.49 22.03,493.5 22.85,493.51 23.67,493.53 24.48,493.55 25.3,493.57 26.12,493.59 26.93,493.62 27.75,493.65 28.57,493.68 29.38,493.72 30.2,493.77 31.01,493.82 31.83,493.88 32.65,493.94 33.46,494.02 34.28,494.11 35.1,494.21 35.91,494.32 36.73,494.45 37.55,494.59 38.36,494.76 39.18,494.94 40,495.15 40.81,495.4 41.63,495.67 42.45,495.98 43.26,496.32 44.08,496.71 44.89,497.16 45.71,497.65 46.53,498.21 47.34,498.83 48.16,499.52 48.98,500.29 49.79,501.15 50.61,502.09 51.43,503.13 52.24,504.27 53.06,505.51 53.88,506.86 54.69,508.31 55.51,509.86 56.33,511.52 57.14,513.27 57.96,515.11 58.78,517.02 59.59,519 60.41,521.02 61.22,523.08 62.04,525.15 62.86,527.22 63.67,529.26 64.49,531.27 65.31,533.22 66.12,535.1 66.94,536.9 67.76,538.61 68.57,540.22 69.39,541.74 70.21,543.14 71.02,544.44 71.84,545.64 72.66,546.73 73.47,547.73 74.29,548.63 75.11,549.45 75.92,550.19 76.74,550.85 77.56,551.44 78.37,551.97 79.19,552.44 80,552.86 80.82,553.23 81.64,553.56 82.45,553.85 83.27,554.11 84.09,554.34 84.9,554.54 85.72,554.72" fill="none" stroke="#6a6aff" stroke-width="0.8" />
<circle cx="20.4" cy="492.77" r="1.0" fill="#fff" stroke="#6a6aff" stroke-width="0.5"/>
<circle cx="43.12" cy="497.62" r="1.0" fill="#fff" stroke="#6a6aff" stroke-width="0.5"/>
<circle cx="60.16" cy="520.19" r="1.0" fill="#fff" stroke="#6a6aff" stroke-width="0.5"/>
<circle cx="68.68" cy="540.49" r="1.0" fill="#fff" stroke="#6a6aff" stroke-width="0.5"/>
<circle cx="77.2" cy="549.47" r="1.0" fill="#fff" stroke="#6a6aff" stroke-width="0.5"/>
<circle cx="85.72" cy="555.17" r="1.0" fill="#fff" stroke="#6a6aff" stroke-width="0.5"/>
<polyline points="20.4,493.41 21.22,493.41 22.03,493.41 22.85,493.41 23.67,493.42 24.48,493.42 25.3,493.42 26.12,493.43 26.93,493.43 27.75,493.43 28.57,493.44 29.38,493.45 30.2,493.45 31.01,493.46 31.83,493.47 32.65,493.48 33.46,493.5 34.28,493.51 35.1,493.53 35.91,493.55 36.73,493.57 37.55,493.6 38.36,493.63 39.18,493.66 40,493.71 40.81,493.75 41.63,493.81 42.45,493.87 43.26,493.94 44.08,494.03 44.89,494.13 45.71,494.24 46.53,494.37 47.34,494.52 48.16,494.69 48.98,494.89 49.79,495.11 50.61,495.37 51.43,495.67 52.24,496.01 53.06,496.4 53.88,496.85 54.69,497.35 55.51,497.93 56.33,498.58 57.14,499.31 57.96,500.14 58.78,501.07 59.59,502.1 60.41,503.25 61.22,504.52 62.04,505.92 62.86,507.44 63.67,509.09 64.49,510.86 65.31,512.75 66.12,514.75 66.94,516.84 67.76,519.02 68.57,521.25 69.39,523.51 70.21,525.79 71.02,528.06 71.84,530.29 72.66,532.46 73.47,534.56 74.29,536.56 75.11,538.46 75.92,540.24 76.74,541.89 77.56,543.42 78.37,544.82 79.19,546.1 80,547.25 80.82,548.29 81.64,549.22 82.45,550.05 83.27,550.79 84.09,551.45 84.9,552.03 85.72,552.53" fill="none" stroke="#3535ff" stroke-width="0.8" />
<circle cx="20.4" cy="492.97" r="1.15" fill="#3535ff"/>
<circle cx="43.12" cy="492.77" r="1.15" fill="#3535ff"/>
<circle cx="60.16" cy="503.05" r="1.15" fill="#3535ff"/>
<line x1="68.68" y1="514.49" x2="68.68" y2="520.75" stroke="#3535ff" stroke-width="0.7" />
<line x1="67.78" y1="514.49" x2="69.58" y2="514.49" stroke="#3535ff" stroke-width="0.6" />
<circle cx="68.68" cy="520.75" r="1.15" fill="#3535ff"/>
<circle cx="77.2" cy="541.13" r="1.15" fill="#3535ff"/>
<circle cx="85.72" cy="552.46" r="1.15" fill="#3535ff"/>
<polyline points="20.4,493.4 21.22,493.4 22.03,493.4 22.85,493.4 23.67,493.4 24.48,493.4 25.3,493.4 26.12,493.4 26.93,493.4 27.75,493.4 28.57,493.4 29.38,493.4 30.2,493.4 31.01,493.4 31.83,493.4 32.65,493.41 33.46,493.41 34.28,493.41 35.1,493.41 35.91,493.41 36.73,493.41 37.55,493.42 38.36,493.42 39.18,493.42 40,493.43 40.81,493.43 41.63,493.44 42.45,493.44 43.26,493.45 44.08,493.46 44.89,493.47 45.71,493.49 46.53,493.5 47.34,493.52 48.16,493.55 48.98,493.57 49.79,493.61 50.61,493.64 51.43,493.69 52.24,493.74 53.06,493.81 53.88,493.88 54.69,493.97 55.51,494.08 56.33,494.21 57.14,494.35 57.96,494.53 58.78,494.74 59.59,494.98 60.41,495.27 61.22,495.61 62.04,496.01 62.86,496.47 63.67,497.02 64.49,497.65 65.31,498.39 66.12,499.24 66.94,500.21 67.76,501.33 68.57,502.6 69.39,504.03 70.21,505.64 71.02,507.43 71.84,509.39 72.66,511.52 73.47,513.81 74.29,516.25 75.11,518.8 75.92,521.43 76.74,524.11 77.56,526.8 78.37,529.46 79.19,532.06 80,534.54 80.82,536.9 81.64,539.11 82.45,541.14 83.27,543.01 84.09,544.69 84.9,546.2 85.72,547.54" fill="none" stroke="#1a1a88" stroke-width="0.8" />
<circle cx="20.4" cy="492.77" r="1.15" fill="#1a1a88"/>
<circle cx="43.12" cy="495.12" r="1.15" fill="#1a1a88"/>
<circle cx="60.16" cy="494.33" r="1.15" fill="#1a1a88"/>
<circle cx="68.68" cy="502.84" r="1.15" fill="#1a1a88"/>
<line x1="77.2" y1="520.22" x2="77.2" y2="523.98" stroke="#1a1a88" stroke-width="0.7" />
<line x1="76.3" y1="520.22" x2="78.1" y2="520.22" stroke="#1a1a88" stroke-width="0.6" />
<circle cx="77.2" cy="523.98" r="1.15" fill="#1a1a88"/>
<circle cx="85.72" cy="547.89" r="1.15" fill="#1a1a88"/>
<polyline points="20.4,493.44 21.22,493.45 22.03,493.46 22.85,493.46 23.67,493.47 24.48,493.48 25.3,493.5 26.12,493.51 26.93,493.52 27.75,493.54 28.57,493.56 29.38,493.59 30.2,493.61 31.01,493.64 31.83,493.68 32.65,493.71 33.46,493.76 34.28,493.81 35.1,493.87 35.91,493.93 36.73,494.01 37.55,494.09 38.36,494.19 39.18,494.3 40,494.42 40.81,494.56 41.63,494.73 42.45,494.91 43.26,495.12 44.08,495.35 44.89,495.62 45.71,495.92 46.53,496.26 47.34,496.64 48.16,497.08 48.98,497.56 49.79,498.11 50.61,498.72 51.43,499.4 52.24,500.15 53.06,500.99 53.88,501.92 54.69,502.94 55.51,504.06 56.33,505.29 57.14,506.62 57.96,508.05 58.78,509.59 59.59,511.23 60.41,512.96 61.22,514.78 62.04,516.68 62.86,518.65 63.67,520.67 64.49,522.72 65.31,524.79 66.12,526.86 66.94,528.91 67.76,530.92 68.57,532.88 69.39,534.78 70.21,536.59 71.02,538.32 71.84,539.95 72.66,541.48 73.47,542.9 74.29,544.22 75.11,545.44 75.92,546.55 76.74,547.56 77.56,548.48 78.37,549.32 79.19,550.07 80,550.74 80.82,551.34 81.64,551.88 82.45,552.36 83.27,552.79 84.09,553.17 84.9,553.51 85.72,553.81" fill="none" stroke="#000" stroke-width="0.8" />
<circle cx="20.4" cy="494.09" r="1.15" fill="#000"/>
<circle cx="43.12" cy="495.07" r="1.15" fill="#000"/>
<line x1="60.16" y1="510.14" x2="60.16" y2="513.27" stroke="#000" stroke-width="0.7" />
<line x1="59.26" y1="510.14" x2="61.06" y2="510.14" stroke="#000" stroke-width="0.6" />
<circle cx="60.16" cy="513.27" r="1.15" fill="#000"/>
<line x1="68.68" y1="527.32" x2="68.68" y2="532.33" stroke="#000" stroke-width="0.7" />
<line x1="67.78" y1="527.32" x2="69.58" y2="527.32" stroke="#000" stroke-width="0.6" />
<circle cx="68.68" cy="532.33" r="1.15" fill="#000"/>
<line x1="77.2" y1="545.01" x2="77.2" y2="548.77" stroke="#000" stroke-width="0.7" />
<line x1="76.3" y1="545.01" x2="78.1" y2="545.01" stroke="#000" stroke-width="0.6" />
<circle cx="77.2" cy="548.77" r="1.15" fill="#000"/>
<circle cx="85.72" cy="553.68" r="1.15" fill="#000"/>
<line x1="3.7" y1="581.6" x2="12.5" y2="581.6" stroke="#000" stroke-width="0.8" />
<circle cx="8.1" cy="581.6" r="1.25" fill="#000"/>
<text x="17" y="583.9" font-size="6.85" fill="#111"><tspan font-style="italic">ntgC1</tspan>+ pOZ empty</text>
<line x1="3.7" y1="590.1" x2="12.5" y2="590.1" stroke="#1a1a88" stroke-width="0.8" />
<circle cx="8.1" cy="590.1" r="1.25" fill="#1a1a88"/>
<text x="17" y="592.4" font-size="6.85" fill="#111"><tspan font-style="italic">Lrrc8d</tspan>_E12 + pOZ empty</text>
<line x1="3.7" y1="598.6" x2="12.5" y2="598.6" stroke="#3535ff" stroke-width="0.8" />
<circle cx="8.1" cy="598.6" r="1.25" fill="#3535ff"/>
<text x="17" y="600.9" font-size="6.85" fill="#111"><tspan font-style="italic">Lrrc8d</tspan>_E12 + <tspan font-style="italic">Lrrc8d</tspan> wt</text>
<line x1="3.7" y1="607.1" x2="12.5" y2="607.1" stroke="#6a6aff" stroke-width="0.8" />
<circle cx="8.1" cy="607.1" r="1.2" fill="#fff" stroke="#6a6aff" stroke-width="0.6"/>
<text x="17" y="609.4" font-size="6.85" fill="#111"><tspan font-style="italic">Lrrc8d</tspan>_E12 + <tspan font-style="italic">Lrrc8d</tspan> wt clone 7</text>
<line x1="3.7" y1="615.6" x2="12.5" y2="615.6" stroke="#a8a8ff" stroke-width="0.8" />
<circle cx="8.1" cy="615.6" r="1.2" fill="#fff" stroke="#a8a8ff" stroke-width="0.6"/>
<text x="17" y="617.9" font-size="6.85" fill="#111"><tspan font-style="italic">Lrrc8d</tspan>_E12 + <tspan font-style="italic">Lrrc8d</tspan> wt clone 13</text>
<polyline points="95.5,590.9 125,590.9 125,607.5 119.5,607.5" fill="none" stroke="#333" stroke-width="0.9" />
<polyline points="119.5,597.5 119.5,619.5" fill="none" stroke="#333" stroke-width="0.9" />
<text x="124.85" y="597.5" font-size="6" font-weight="bold" text-anchor="middle" transform="rotate(90 124.85 597.5)" fill="#111">****</text>
<text x="173" y="486.6" font-size="11">L</text>
<line x1="195.6" y1="487.3" x2="195.6" y2="556.4" stroke="#000" stroke-width="1.3" />
<line x1="195" y1="555.8" x2="294.5" y2="555.8" stroke="#000" stroke-width="1.3" />
<line x1="193.4" y1="493.9" x2="195.6" y2="493.9" stroke="#000" stroke-width="0.8" />
<text x="193" y="495.7" font-size="5" text-anchor="end" font-weight="bold" fill="#222">100</text>
<line x1="193.4" y1="524.85" x2="195.6" y2="524.85" stroke="#000" stroke-width="0.8" />
<text x="193" y="526.65" font-size="5" text-anchor="end" font-weight="bold" fill="#222">50</text>
<line x1="193.4" y1="555.8" x2="195.6" y2="555.8" stroke="#000" stroke-width="0.8" />
<text x="193" y="557.6" font-size="5" text-anchor="end" font-weight="bold" fill="#222">0</text>
<line x1="205.74" y1="555.8" x2="205.74" y2="558" stroke="#000" stroke-width="0.8" />
<text x="205.74" y="564.1" font-size="5" text-anchor="middle" font-weight="bold" fill="#222">-1</text>
<line x1="235.14" y1="555.8" x2="235.14" y2="558" stroke="#000" stroke-width="0.8" />
<text x="235.14" y="564.1" font-size="5" text-anchor="middle" font-weight="bold" fill="#222">0</text>
<line x1="264.54" y1="555.8" x2="264.54" y2="558" stroke="#000" stroke-width="0.8" />
<text x="264.54" y="564.1" font-size="5" text-anchor="middle" font-weight="bold" fill="#222">1</text>
<line x1="293.94" y1="555.8" x2="293.94" y2="558" stroke="#000" stroke-width="0.8" />
<text x="293.94" y="564.1" font-size="5" text-anchor="middle" font-weight="bold" fill="#222">2</text>
<text x="181.5" y="525" font-size="5.3" text-anchor="middle" font-weight="bold" fill="#222" transform="rotate(-90 181.5 525)">Survival [%]</text>
<text x="251.4" y="573" font-size="5.5" text-anchor="middle" fill="#222"><tspan font-weight="bold">log(carboplatin</tspan><tspan font-size="7"> [µmol/L]</tspan></text>
<polyline points="195.6,493.9 196.54,493.9 197.47,493.9 198.41,493.9 199.34,493.9 200.28,493.9 201.21,493.9 202.15,493.9 203.08,493.9 204.02,493.9 204.95,493.9 205.89,493.9 206.82,493.9 207.76,493.9 208.69,493.9 209.63,493.9 210.56,493.9 211.5,493.9 212.44,493.91 213.37,493.91 214.31,493.91 215.24,493.91 216.18,493.91 217.11,493.92 218.05,493.92 218.98,493.93 219.92,493.93 220.85,493.94 221.79,493.95 222.72,493.96 223.66,493.98 224.59,493.99 225.53,494.02 226.46,494.05 227.4,494.08 228.34,494.13 229.27,494.18 230.21,494.25 231.14,494.34 232.08,494.44 233.01,494.58 233.95,494.74 234.88,494.94 235.82,495.19 236.75,495.5 237.69,495.88 238.62,496.35 239.56,496.92 240.49,497.62 241.43,498.47 242.36,499.49 243.3,500.71 244.23,502.16 245.17,503.87 246.11,505.85 247.04,508.11 247.98,510.65 248.91,513.47 249.85,516.52 250.78,519.76 251.72,523.11 252.65,526.51 253.59,529.87 254.52,533.11 255.46,536.17 256.39,538.99 257.33,541.54 258.26,543.81 259.2,545.79 260.13,547.5 261.07,548.96 262.01,550.19 262.94,551.21 263.88,552.06 264.81,552.76 265.75,553.34 266.68,553.81 267.62,554.19 268.55,554.5 269.49,554.75 270.42,554.96" fill="none" stroke="#a8a8ff" stroke-width="0.8" />
<circle cx="195.6" cy="494.22" r="1.0" fill="#fff" stroke="#a8a8ff" stroke-width="0.5"/>
<circle cx="235.14" cy="495.79" r="1.0" fill="#fff" stroke="#a8a8ff" stroke-width="0.5"/>
<circle cx="243.96" cy="500.44" r="1.0" fill="#fff" stroke="#a8a8ff" stroke-width="0.5"/>
<circle cx="252.78" cy="527.19" r="1.0" fill="#fff" stroke="#a8a8ff" stroke-width="0.5"/>
<circle cx="261.6" cy="549.58" r="1.0" fill="#fff" stroke="#a8a8ff" stroke-width="0.5"/>
<circle cx="270.42" cy="554.77" r="1.0" fill="#fff" stroke="#a8a8ff" stroke-width="0.5"/>
<polyline points="195.6,493.9 196.54,493.9 197.47,493.9 198.41,493.9 199.34,493.9 200.28,493.9 201.21,493.9 202.15,493.9 203.08,493.9 204.02,493.9 204.95,493.9 205.89,493.9 206.82,493.9 207.76,493.9 208.69,493.9 209.63,493.9 210.56,493.9 211.5,493.91 212.44,493.91 213.37,493.91 214.31,493.91 215.24,493.91 216.18,493.92 217.11,493.92 218.05,493.92 218.98,493.93 219.92,493.94 220.85,493.95 221.79,493.96 222.72,493.97 223.66,493.99 224.59,494.02 225.53,494.04 226.46,494.08 227.4,494.12 228.34,494.18 229.27,494.25 230.21,494.33 231.14,494.44 232.08,494.57 233.01,494.73 233.95,494.93 234.88,495.18 235.82,495.48 236.75,495.86 237.69,496.32 238.62,496.89 239.56,497.58 240.49,498.42 241.43,499.43 242.36,500.64 243.3,502.08 244.23,503.76 245.17,505.73 246.11,507.97 247.04,510.5 247.98,513.3 248.91,516.34 249.85,519.57 250.78,522.92 251.72,526.32 252.65,529.68 253.59,532.93 254.52,536 255.46,538.83 256.39,541.4 257.33,543.69 258.26,545.69 259.2,547.41 260.13,548.88 261.07,550.12 262.01,551.16 262.94,552.02 263.88,552.73 264.81,553.31 265.75,553.78 266.68,554.17 267.62,554.49 268.55,554.74 269.49,554.95 270.42,555.11" fill="none" stroke="#6a6aff" stroke-width="0.8" />
<circle cx="195.6" cy="493.99" r="1.0" fill="#fff" stroke="#6a6aff" stroke-width="0.5"/>
<circle cx="235.14" cy="494.77" r="1.0" fill="#fff" stroke="#6a6aff" stroke-width="0.5"/>
<circle cx="243.96" cy="503.6" r="1.0" fill="#fff" stroke="#6a6aff" stroke-width="0.5"/>
<circle cx="252.78" cy="528.58" r="1.0" fill="#fff" stroke="#6a6aff" stroke-width="0.5"/>
<circle cx="261.6" cy="552.53" r="1.0" fill="#fff" stroke="#6a6aff" stroke-width="0.5"/>
<circle cx="270.42" cy="553.3" r="1.0" fill="#fff" stroke="#6a6aff" stroke-width="0.5"/>
<polyline points="195.6,493.9 196.54,493.9 197.47,493.9 198.41,493.9 199.34,493.9 200.28,493.9 201.21,493.9 202.15,493.9 203.08,493.9 204.02,493.9 204.95,493.9 205.89,493.9 206.82,493.9 207.76,493.9 208.69,493.9 209.63,493.9 210.56,493.9 211.5,493.9 212.44,493.9 213.37,493.9 214.31,493.9 215.24,493.9 216.18,493.9 217.11,493.9 218.05,493.9 218.98,493.9 219.92,493.9 220.85,493.9 221.79,493.9 222.72,493.9 223.66,493.9 224.59,493.9 225.53,493.9 226.46,493.9 227.4,493.9 228.34,493.9 229.27,493.9 230.21,493.9 231.14,493.9 232.08,493.91 233.01,493.91 233.95,493.91 234.88,493.91 235.82,493.92 236.75,493.93 237.69,493.93 238.62,493.95 239.56,493.96 240.49,493.98 241.43,494.01 242.36,494.05 243.3,494.1 244.23,494.17 245.17,494.26 246.11,494.38 247.04,494.54 247.98,494.75 248.91,495.04 249.85,495.42 250.78,495.92 251.72,496.58 252.65,497.44 253.59,498.55 254.52,499.98 255.46,501.78 256.39,504.02 257.33,506.76 258.26,509.99 259.2,513.72 260.13,517.86 261.07,522.27 262.01,526.8 262.94,531.24 263.88,535.43 264.81,539.21 265.75,542.52 266.68,545.32 267.62,547.63 268.55,549.5 269.49,550.97 270.42,552.13" fill="none" stroke="#3535ff" stroke-width="0.8" />
<circle cx="195.6" cy="494.1" r="1.15" fill="#3535ff"/>
<circle cx="235.14" cy="494.68" r="1.15" fill="#3535ff"/>
<circle cx="243.96" cy="493.28" r="1.15" fill="#3535ff"/>
<line x1="252.78" y1="495.16" x2="252.78" y2="497.63" stroke="#3535ff" stroke-width="0.7" />
<line x1="251.88" y1="495.16" x2="253.68" y2="495.16" stroke="#3535ff" stroke-width="0.6" />
<circle cx="252.78" cy="497.63" r="1.15" fill="#3535ff"/>
<circle cx="261.6" cy="526.38" r="1.15" fill="#3535ff"/>
<circle cx="270.42" cy="551.2" r="1.15" fill="#3535ff"/>
<polyline points="195.6,493.9 196.54,493.9 197.47,493.9 198.41,493.9 199.34,493.9 200.28,493.9 201.21,493.9 202.15,493.9 203.08,493.9 204.02,493.9 204.95,493.9 205.89,493.9 206.82,493.9 207.76,493.9 208.69,493.9 209.63,493.9 210.56,493.9 211.5,493.9 212.44,493.9 213.37,493.9 214.31,493.9 215.24,493.9 216.18,493.9 217.11,493.9 218.05,493.9 218.98,493.9 219.92,493.9 220.85,493.9 221.79,493.9 222.72,493.9 223.66,493.9 224.59,493.9 225.53,493.9 226.46,493.9 227.4,493.9 228.34,493.9 229.27,493.9 230.21,493.9 231.14,493.9 232.08,493.9 233.01,493.9 233.95,493.9 234.88,493.9 235.82,493.9 236.75,493.9 237.69,493.9 238.62,493.9 239.56,493.9 240.49,493.9 241.43,493.9 242.36,493.9 243.3,493.9 244.23,493.91 245.17,493.91 246.11,493.91 247.04,493.92 247.98,493.93 248.91,493.94 249.85,493.97 250.78,494 251.72,494.05 252.65,494.12 253.59,494.23 254.52,494.39 255.46,494.64 256.39,494.99 257.33,495.52 258.26,496.3 259.2,497.42 260.13,499.02 261.07,501.26 262.01,504.3 262.94,508.26 263.88,513.17 264.81,518.88 265.75,525.03 266.68,531.18 267.62,536.84 268.55,541.7 269.49,545.6 270.42,548.59" fill="none" stroke="#1a1a88" stroke-width="0.8" />
<circle cx="195.6" cy="493.28" r="1.15" fill="#1a1a88"/>
<line x1="235.14" y1="492.64" x2="235.14" y2="495.11" stroke="#1a1a88" stroke-width="0.7" />
<line x1="234.24" y1="492.64" x2="236.04" y2="492.64" stroke="#1a1a88" stroke-width="0.6" />
<circle cx="235.14" cy="495.11" r="1.15" fill="#1a1a88"/>
<circle cx="243.96" cy="493.28" r="1.15" fill="#1a1a88"/>
<circle cx="252.78" cy="495.11" r="1.15" fill="#1a1a88"/>
<circle cx="261.6" cy="503.02" r="1.15" fill="#1a1a88"/>
<circle cx="270.42" cy="547.11" r="1.15" fill="#1a1a88"/>
<polyline points="195.6,493.9 196.54,493.9 197.47,493.9 198.41,493.9 199.34,493.9 200.28,493.9 201.21,493.9 202.15,493.9 203.08,493.9 204.02,493.9 204.95,493.9 205.89,493.9 206.82,493.91 207.76,493.91 208.69,493.91 209.63,493.91 210.56,493.91 211.5,493.91 212.44,493.92 213.37,493.92 214.31,493.92 215.24,493.93 216.18,493.94 217.11,493.94 218.05,493.95 218.98,493.96 219.92,493.98 220.85,493.99 221.79,494.01 222.72,494.04 223.66,494.06 224.59,494.1 225.53,494.14 226.46,494.19 227.4,494.25 228.34,494.32 229.27,494.41 230.21,494.52 231.14,494.65 232.08,494.8 233.01,494.99 233.95,495.21 234.88,495.48 235.82,495.8 236.75,496.18 237.69,496.64 238.62,497.18 239.56,497.82 240.49,498.59 241.43,499.48 242.36,500.52 243.3,501.74 244.23,503.14 245.17,504.74 246.11,506.55 247.04,508.57 247.98,510.81 248.91,513.24 249.85,515.86 250.78,518.63 251.72,521.5 252.65,524.44 253.59,527.38 254.52,530.28 255.46,533.08 256.39,535.74 257.33,538.23 258.26,540.53 259.2,542.61 260.13,544.48 261.07,546.14 262.01,547.59 262.94,548.85 263.88,549.95 264.81,550.88 265.75,551.68 266.68,552.35 267.62,552.92 268.55,553.4 269.49,553.8 270.42,554.14" fill="none" stroke="#000" stroke-width="0.8" />
<circle cx="195.6" cy="493.91" r="1.15" fill="#000"/>
<circle cx="235.14" cy="495.42" r="1.15" fill="#000"/>
<circle cx="243.96" cy="501.94" r="1.15" fill="#000"/>
<circle cx="252.78" cy="525.29" r="1.15" fill="#000"/>
<circle cx="261.6" cy="547.43" r="1.15" fill="#000"/>
<circle cx="270.42" cy="553.66" r="1.15" fill="#000"/>
<line x1="178.8" y1="581.6" x2="187.6" y2="581.6" stroke="#000" stroke-width="0.8" />
<circle cx="183.2" cy="581.6" r="1.25" fill="#000"/>
<text x="192" y="583.9" font-size="6.85" fill="#111"><tspan font-style="italic">ntgC1</tspan>+ pOZ empty</text>
<line x1="178.8" y1="590.1" x2="187.6" y2="590.1" stroke="#1a1a88" stroke-width="0.8" />
<circle cx="183.2" cy="590.1" r="1.25" fill="#1a1a88"/>
<text x="192" y="592.4" font-size="6.85" fill="#111"><tspan font-style="italic">Lrrc8d</tspan>_E12 + pOZ empty</text>
<line x1="178.8" y1="598.6" x2="187.6" y2="598.6" stroke="#3535ff" stroke-width="0.8" />
<circle cx="183.2" cy="598.6" r="1.25" fill="#3535ff"/>
<text x="192" y="600.9" font-size="6.85" fill="#111"><tspan font-style="italic">Lrrc8d</tspan>_E12 + <tspan font-style="italic">Lrrc8d</tspan> wt</text>
<line x1="178.8" y1="607.1" x2="187.6" y2="607.1" stroke="#6a6aff" stroke-width="0.8" />
<circle cx="183.2" cy="607.1" r="1.2" fill="#fff" stroke="#6a6aff" stroke-width="0.6"/>
<text x="192" y="609.4" font-size="6.85" fill="#111"><tspan font-style="italic">Lrrc8d</tspan>_E12 + <tspan font-style="italic">Lrrc8d</tspan> wt clone 7</text>
<line x1="178.8" y1="615.6" x2="187.6" y2="615.6" stroke="#a8a8ff" stroke-width="0.8" />
<circle cx="183.2" cy="615.6" r="1.2" fill="#fff" stroke="#a8a8ff" stroke-width="0.6"/>
<text x="192" y="617.9" font-size="6.85" fill="#111"><tspan font-style="italic">Lrrc8d</tspan>_E12 + <tspan font-style="italic">Lrrc8d</tspan> wt clone 13</text>
<polyline points="270.8,591.5 300.3,591.5 300.3,606.6 294.6,606.6" fill="none" stroke="#333" stroke-width="0.9" />
<polyline points="294.6,597.7 294.6,617" fill="none" stroke="#333" stroke-width="0.9" />
<text x="300.35" y="598.6" font-size="6" font-weight="bold" text-anchor="middle" transform="rotate(90 300.35 598.6)" fill="#111">****</text>
<text x="353" y="333.1" font-size="11">M</text>
<circle cx="385.8" cy="393" r="11.8" fill="#ebebeb" stroke="#bdbdbd" stroke-width="0.5"/>
<circle cx="385.8" cy="393" r="11.8" fill="#1a1a1a" filter="url(#w25)"/>
<circle cx="415" cy="393" r="11.8" fill="#ebebeb" stroke="#bdbdbd" stroke-width="0.5"/>
<circle cx="415" cy="393" r="11.8" fill="#1a1a1a" filter="url(#w26)"/>
<circle cx="439.7" cy="393" r="11.8" fill="#ebebeb" stroke="#bdbdbd" stroke-width="0.5"/>
<circle cx="439.7" cy="393" r="11.8" fill="#1a1a1a" filter="url(#w24)"/>
<circle cx="464.2" cy="393" r="11.8" fill="#ebebeb" stroke="#bdbdbd" stroke-width="0.5"/>
<circle cx="464.2" cy="393" r="11.8" fill="#1a1a1a" filter="url(#w27)"/>
<circle cx="488.2" cy="393" r="11.8" fill="#ebebeb" stroke="#bdbdbd" stroke-width="0.5"/>
<circle cx="488.2" cy="393" r="11.8" fill="#1a1a1a" filter="url(#w28)"/>
<circle cx="385.8" cy="420" r="11.8" fill="#ebebeb" stroke="#bdbdbd" stroke-width="0.5"/>
<circle cx="385.8" cy="420" r="11.8" fill="#1a1a1a" filter="url(#w29)"/>
<circle cx="415" cy="420" r="11.8" fill="#ebebeb" stroke="#bdbdbd" stroke-width="0.5"/>
<circle cx="415" cy="420" r="11.8" fill="#1a1a1a" filter="url(#w30)"/>
<circle cx="439.7" cy="420" r="11.8" fill="#ebebeb" stroke="#bdbdbd" stroke-width="0.5"/>
<circle cx="439.7" cy="420" r="11.8" fill="#1a1a1a" filter="url(#w30)"/>
<circle cx="464.2" cy="420" r="11.8" fill="#ebebeb" stroke="#bdbdbd" stroke-width="0.5"/>
<circle cx="464.2" cy="420" r="11.8" fill="#1a1a1a" filter="url(#w30)"/>
<circle cx="488.2" cy="420" r="11.8" fill="#ebebeb" stroke="#bdbdbd" stroke-width="0.5"/>
<circle cx="488.2" cy="420" r="11.8" fill="#1a1a1a" filter="url(#w31)"/>
<circle cx="385.8" cy="444.3" r="11.8" fill="#ebebeb" stroke="#bdbdbd" stroke-width="0.5"/>
<circle cx="385.8" cy="444.3" r="11.8" fill="#1a1a1a" filter="url(#w29)"/>
<circle cx="415" cy="444.3" r="11.8" fill="#ebebeb" stroke="#bdbdbd" stroke-width="0.5"/>
<circle cx="415" cy="444.3" r="11.8" fill="#1a1a1a" filter="url(#w32)"/>
<circle cx="439.7" cy="444.3" r="11.8" fill="#ebebeb" stroke="#bdbdbd" stroke-width="0.5"/>
<circle cx="439.7" cy="444.3" r="11.8" fill="#1a1a1a" filter="url(#w30)"/>
<circle cx="464.2" cy="444.3" r="11.8" fill="#ebebeb" stroke="#bdbdbd" stroke-width="0.5"/>
<circle cx="464.2" cy="444.3" r="11.8" fill="#1a1a1a" filter="url(#w21)"/>
<circle cx="488.2" cy="444.3" r="11.8" fill="#ebebeb" stroke="#bdbdbd" stroke-width="0.5"/>
<circle cx="488.2" cy="444.3" r="11.8" fill="#1a1a1a" filter="url(#w33)"/>
<circle cx="385.8" cy="468.5" r="11.8" fill="#ebebeb" stroke="#bdbdbd" stroke-width="0.5"/>
<circle cx="385.8" cy="468.5" r="11.8" fill="#1a1a1a" filter="url(#w29)"/>
<circle cx="415" cy="468.5" r="11.8" fill="#ebebeb" stroke="#bdbdbd" stroke-width="0.5"/>
<circle cx="415" cy="468.5" r="11.8" fill="#1a1a1a" filter="url(#w34)"/>
<circle cx="439.7" cy="468.5" r="11.8" fill="#ebebeb" stroke="#bdbdbd" stroke-width="0.5"/>
<circle cx="439.7" cy="468.5" r="11.8" fill="#1a1a1a" filter="url(#w35)"/>
<circle cx="464.2" cy="468.5" r="11.8" fill="#ebebeb" stroke="#bdbdbd" stroke-width="0.5"/>
<circle cx="464.2" cy="468.5" r="11.8" fill="#1a1a1a" filter="url(#w36)"/>
<circle cx="488.2" cy="468.5" r="11.8" fill="#ebebeb" stroke="#bdbdbd" stroke-width="0.5"/>
<circle cx="488.2" cy="468.5" r="11.8" fill="#1a1a1a" filter="url(#w12)"/>
<circle cx="385.8" cy="492.2" r="11.8" fill="#ebebeb" stroke="#bdbdbd" stroke-width="0.5"/>
<circle cx="385.8" cy="492.2" r="11.8" fill="#1a1a1a" filter="url(#w37)"/>
<circle cx="415" cy="492.2" r="11.8" fill="#ebebeb" stroke="#bdbdbd" stroke-width="0.5"/>
<circle cx="415" cy="492.2" r="11.8" fill="#1a1a1a" filter="url(#w35)"/>
<circle cx="439.7" cy="492.2" r="11.8" fill="#ebebeb" stroke="#bdbdbd" stroke-width="0.5"/>
<circle cx="439.7" cy="492.2" r="11.8" fill="#1a1a1a" filter="url(#w28)"/>
<circle cx="464.2" cy="492.2" r="11.8" fill="#ebebeb" stroke="#bdbdbd" stroke-width="0.5"/>
<circle cx="464.2" cy="492.2" r="11.8" fill="#1a1a1a" filter="url(#w38)"/>
<circle cx="488.2" cy="492.2" r="11.8" fill="#ebebeb" stroke="#bdbdbd" stroke-width="0.5"/>
<circle cx="488.2" cy="492.2" r="11.8" fill="#1a1a1a" filter="url(#w28)"/>
<circle cx="385.8" cy="520.3" r="11.8" fill="#ebebeb" stroke="#bdbdbd" stroke-width="0.5"/>
<circle cx="385.8" cy="520.3" r="11.8" fill="#1a1a1a" filter="url(#w37)"/>
<circle cx="415" cy="520.3" r="11.8" fill="#ebebeb" stroke="#bdbdbd" stroke-width="0.5"/>
<circle cx="415" cy="520.3" r="11.8" fill="#1a1a1a" filter="url(#w39)"/>
<circle cx="439.7" cy="520.3" r="11.8" fill="#ebebeb" stroke="#bdbdbd" stroke-width="0.5"/>
<circle cx="439.7" cy="520.3" r="11.8" fill="#1a1a1a" filter="url(#w40)"/>
<circle cx="464.2" cy="520.3" r="11.8" fill="#ebebeb" stroke="#bdbdbd" stroke-width="0.5"/>
<circle cx="464.2" cy="520.3" r="11.8" fill="#1a1a1a" filter="url(#w41)"/>
<circle cx="488.2" cy="520.3" r="11.8" fill="#ebebeb" stroke="#bdbdbd" stroke-width="0.5"/>
<circle cx="488.2" cy="520.3" r="11.8" fill="#1a1a1a" filter="url(#w42)"/>
<circle cx="385.8" cy="543.9" r="11.8" fill="#ebebeb" stroke="#bdbdbd" stroke-width="0.5"/>
<circle cx="385.8" cy="543.9" r="11.8" fill="#1a1a1a" filter="url(#w37)"/>
<circle cx="415" cy="543.9" r="11.8" fill="#ebebeb" stroke="#bdbdbd" stroke-width="0.5"/>
<circle cx="415" cy="543.9" r="11.8" fill="#1a1a1a" filter="url(#w43)"/>
<circle cx="439.7" cy="543.9" r="11.8" fill="#ebebeb" stroke="#bdbdbd" stroke-width="0.5"/>
<circle cx="439.7" cy="543.9" r="11.8" fill="#1a1a1a" filter="url(#w44)"/>
<circle cx="464.2" cy="543.9" r="11.8" fill="#ebebeb" stroke="#bdbdbd" stroke-width="0.5"/>
<circle cx="464.2" cy="543.9" r="11.8" fill="#1a1a1a" filter="url(#w45)"/>
<circle cx="488.2" cy="543.9" r="11.8" fill="#ebebeb" stroke="#bdbdbd" stroke-width="0.5"/>
<circle cx="488.2" cy="543.9" r="11.8" fill="#1a1a1a" filter="url(#w46)"/>
<circle cx="385.8" cy="568" r="11.8" fill="#ebebeb" stroke="#bdbdbd" stroke-width="0.5"/>
<circle cx="385.8" cy="568" r="11.8" fill="#1a1a1a" filter="url(#w29)"/>
<circle cx="415" cy="568" r="11.8" fill="#ebebeb" stroke="#bdbdbd" stroke-width="0.5"/>
<circle cx="415" cy="568" r="11.8" fill="#1a1a1a" filter="url(#w47)"/>
<circle cx="439.7" cy="568" r="11.8" fill="#ebebeb" stroke="#bdbdbd" stroke-width="0.5"/>
<circle cx="439.7" cy="568" r="11.8" fill="#1a1a1a" filter="url(#w28)"/>
<circle cx="464.2" cy="568" r="11.8" fill="#ebebeb" stroke="#bdbdbd" stroke-width="0.5"/>
<circle cx="464.2" cy="568" r="11.8" fill="#1a1a1a" filter="url(#w48)"/>
<circle cx="488.2" cy="568" r="11.8" fill="#ebebeb" stroke="#bdbdbd" stroke-width="0.5"/>
<circle cx="385.8" cy="591.9" r="11.8" fill="#ebebeb" stroke="#bdbdbd" stroke-width="0.5"/>
<circle cx="385.8" cy="591.9" r="11.8" fill="#1a1a1a" filter="url(#w29)"/>
<circle cx="415" cy="591.9" r="11.8" fill="#ebebeb" stroke="#bdbdbd" stroke-width="0.5"/>
<circle cx="415" cy="591.9" r="11.8" fill="#1a1a1a" filter="url(#w49)"/>
<circle cx="439.7" cy="591.9" r="11.8" fill="#ebebeb" stroke="#bdbdbd" stroke-width="0.5"/>
<circle cx="439.7" cy="591.9" r="11.8" fill="#1a1a1a" filter="url(#w50)"/>
<circle cx="464.2" cy="591.9" r="11.8" fill="#ebebeb" stroke="#bdbdbd" stroke-width="0.5"/>
<circle cx="464.2" cy="591.9" r="11.8" fill="#1a1a1a" filter="url(#w17)"/>
<circle cx="488.2" cy="591.9" r="11.8" fill="#ebebeb" stroke="#bdbdbd" stroke-width="0.5"/>
<circle cx="488.2" cy="591.9" r="11.8" fill="#1a1a1a" filter="url(#w51)"/>
<text x="381.5" y="376.7" font-size="6.7" text-anchor="middle">untreated</text>
<text x="415" y="377" font-size="6.7" text-anchor="middle">0.5</text>
<text x="439.7" y="377" font-size="6.7" text-anchor="middle">1</text>
<text x="464.2" y="377" font-size="6.7" text-anchor="middle">8</text>
<text x="487.2" y="377" font-size="6.7" text-anchor="middle">16</text>
<text x="495.8" y="376.8" font-size="7.2">[µmol/L]</text>
<text x="426.5" y="361.4" font-size="6.7" text-anchor="middle">cisplatin</text>
<text x="476.8" y="361.4" font-size="6.7" text-anchor="middle">carboplatin</text>
<line x1="409.2" y1="364.9" x2="443.4" y2="364.9" stroke="#444" stroke-width="0.8" />
<line x1="458.8" y1="364.9" x2="494.2" y2="364.9" stroke="#444" stroke-width="0.8" />
<text x="369.6" y="390.8" font-size="6.7" text-anchor="end">ntg C1</text>
<text x="369.6" y="399.9" font-size="6.7" text-anchor="end">+ pOZ empty</text>
<text x="369.6" y="417.8" font-size="6.7" text-anchor="end"><tspan font-style="italic">Lrrc8a</tspan>_D8</text>
<text x="369.6" y="426.4" font-size="6.7" text-anchor="end">+ pOZ empty</text>
<text x="369.6" y="444.6" font-size="6.7" text-anchor="end">polyclonal</text>
<text x="369.6" y="469" font-size="6.7" text-anchor="end">clone 8</text>
<text x="369.6" y="493" font-size="6.7" text-anchor="end">clone 19</text>
<text x="369.6" y="518.1" font-size="6.7" text-anchor="end"><tspan font-style="italic">Lrrc8d</tspan>_E12</text>
<text x="369.6" y="526.6" font-size="6.7" text-anchor="end">+ pOZ empty</text>
<text x="369.6" y="544.4" font-size="6.7" text-anchor="end">polyclonal</text>
<text x="369.6" y="568.9" font-size="6.7" text-anchor="end">clone 7</text>
<text x="369.6" y="592.9" font-size="6.7" text-anchor="end">clone 13</text>
<line x1="336.1" y1="436.3" x2="336.1" y2="497.8" stroke="#555" stroke-width="0.8" />
<line x1="336.1" y1="536.5" x2="336.1" y2="598.1" stroke="#555" stroke-width="0.8" />
<text x="321" y="440.2" font-size="6.7" text-anchor="end" transform="rotate(-90 321 440.2)"><tspan font-style="italic">Lrrc8a</tspan>_D8</text>
<text x="330.6" y="439.4" font-size="6.7" text-anchor="end" transform="rotate(-90 330.6 439.4)">+ pOZ <tspan font-style="italic">Lrrc8a</tspan> wt</text>
<text x="320.8" y="538" font-size="6.7" text-anchor="end" transform="rotate(-90 320.8 538)"><tspan font-style="italic">Lrrc8d</tspan>_E12</text>
<text x="329.6" y="538" font-size="6.7" text-anchor="end" transform="rotate(-90 329.6 538)">+ pOZ <tspan font-style="italic">Lrrc8d</tspan> wt</text>
<defs><filter id="w0" x="-5%" y="-5%" width="110%" height="110%"><feTurbulence type="fractalNoise" baseFrequency="1.6" numOctaves="2" seed="3"/><feColorMatrix type="matrix" values="0 0 0 0 0 0 0 0 0 0 0 0 0 0 0 -6 0 0 0 4.32"/><feComposite in2="SourceAlpha" operator="in"/><feConvolveMatrix order="3" kernelMatrix="1 2 1 2 10 2 1 2 1"/></filter><filter id="w1" x="-5%" y="-5%" width="110%" height="110%"><feTurbulence type="fractalNoise" baseFrequency="1.6" numOctaves="2" seed="3"/><feColorMatrix type="matrix" values="0 0 0 0 0 0 0 0 0 0 0 0 0 0 0 -6 0 0 0 4.35"/><feComposite in2="SourceAlpha" operator="in"/><feConvolveMatrix order="3" kernelMatrix="1 2 1 2 10 2 1 2 1"/></filter><filter id="w2" x="-5%" y="-5%" width="110%" height="110%"><feTurbulence type="fractalNoise" baseFrequency="1.6" numOctaves="2" seed="3"/><feColorMatrix type="matrix" values="0 0 0 0 0 0 0 0 0 0 0 0 0 0 0 -6 0 0 0 2.96"/><feComposite in2="SourceAlpha" operator="in"/><feConvolveMatrix order="3" kernelMatrix="1 2 1 2 10 2 1 2 1"/></filter><filter id="w3" x="-5%" y="-5%" width="110%" height="110%"><feTurbulence type="fractalNoise" baseFrequency="1.6" numOctaves="2" seed="3"/><feColorMatrix type="matrix" values="0 0 0 0 0 0 0 0 0 0 0 0 0 0 0 -6 0 0 0 1.88"/><feComposite in2="SourceAlpha" operator="in"/><feConvolveMatrix order="3" kernelMatrix="1 2 1 2 10 2 1 2 1"/></filter><filter id="w4" x="-5%" y="-5%" width="110%" height="110%"><feTurbulence type="fractalNoise" baseFrequency="1.6" numOctaves="2" seed="3"/><feColorMatrix type="matrix" values="0 0 0 0 0 0 0 0 0 0 0 0 0 0 0 -6 0 0 0 3.97"/><feComposite in2="SourceAlpha" operator="in"/><feConvolveMatrix order="3" kernelMatrix="1 2 1 2 10 2 1 2 1"/></filter><filter id="w5" x="-5%" y="-5%" width="110%" height="110%"><feTurbulence type="fractalNoise" baseFrequency="1.6" numOctaves="2" seed="3"/><feColorMatrix type="matrix" values="0 0 0 0 0 0 0 0 0 0 0 0 0 0 0 -6 0 0 0 3.67"/><feComposite in2="SourceAlpha" operator="in"/><feConvolveMatrix order="3" kernelMatrix="1 2 1 2 10 2 1 2 1"/></filter><filter id="w6" x="-5%" y="-5%" width="110%" height="110%"><feTurbulence type="fractalNoise" baseFrequency="1.6" numOctaves="2" seed="3"/><feColorMatrix type="matrix" values="0 0 0 0 0 0 0 0 0 0 0 0 0 0 0 -6 0 0 0 3.33"/><feComposite in2="SourceAlpha" operator="in"/><feConvolveMatrix order="3" kernelMatrix="1 2 1 2 10 2 1 2 1"/></filter><filter id="w7" x="-5%" y="-5%" width="110%" height="110%"><feTurbulence type="fractalNoise" baseFrequency="1.6" numOctaves="2" seed="3"/><feColorMatrix type="matrix" values="0 0 0 0 0 0 0 0 0 0 0 0 0 0 0 -6 0 0 0 4.25"/><feComposite in2="SourceAlpha" operator="in"/><feConvolveMatrix order="3" kernelMatrix="1 2 1 2 10 2 1 2 1"/></filter><filter id="w8" x="-5%" y="-5%" width="110%" height="110%"><feTurbulence type="fractalNoise" baseFrequency="1.6" numOctaves="2" seed="3"/><feColorMatrix type="matrix" values="0 0 0 0 0 0 0 0 0 0 0 0 0 0 0 -6 0 0 0 3.73"/><feComposite in2="SourceAlpha" operator="in"/><feConvolveMatrix order="3" kernelMatrix="1 2 1 2 10 2 1 2 1"/></filter><filter id="w9" x="-5%" y="-5%" width="110%" height="110%"><feTurbulence type="fractalNoise" baseFrequency="1.6" numOctaves="2" seed="3"/><feColorMatrix type="matrix" values="0 0 0 0 0 0 0 0 0 0 0 0 0 0 0 -6 0 0 0 2.62"/><feComposite in2="SourceAlpha" operator="in"/><feConvolveMatrix order="3" kernelMatrix="1 2 1 2 10 2 1 2 1"/></filter><filter id="w10" x="-5%" y="-5%" width="110%" height="110%"><feTurbulence type="fractalNoise" baseFrequency="1.6" numOctaves="2" seed="3"/><feColorMatrix type="matrix" values="0 0 0 0 0 0 0 0 0 0 0 0 0 0 0 -6 0 0 0 3.45"/><feComposite in2="SourceAlpha" operator="in"/><feConvolveMatrix order="3" kernelMatrix="1 2 1 2 10 2 1 2 1"/></filter><filter id="w11" x="-5%" y="-5%" width="110%" height="110%"><feTurbulence type="fractalNoise" baseFrequency="1.6" numOctaves="2" seed="3"/><feColorMatrix type="matrix" values="0 0 0 0 0 0 0 0 0 0 0 0 0 0 0 -6 0 0 0 2.23"/><feComposite in2="SourceAlpha" operator="in"/><feConvolveMatrix order="3" kernelMatrix="1 2 1 2 10 2 1 2 1"/></filter><filter id="w12" x="-5%" y="-5%" width="110%" height="110%"><feTurbulence type="fractalNoise" baseFrequency="1.6" numOctaves="2" seed="3"/><feColorMatrix type="matrix" values="0 0 0 0 0 0 0 0 0 0 0 0 0 0 0 -6 0 0 0 1.79"/><feComposite in2="SourceAlpha" operator="in"/><feConvolveMatrix order="3" kernelMatrix="1 2 1 2 10 2 1 2 1"/></filter><filter id="w13" x="-5%" y="-5%" width="110%" height="110%"><feTurbulence type="fractalNoise" baseFrequency="1.6" numOctaves="2" seed="3"/><feColorMatrix type="matrix" values="0 0 0 0 0 0 0 0 0 0 0 0 0 0 0 -6 0 0 0 4.01"/><feComposite in2="SourceAlpha" operator="in"/><feConvolveMatrix order="3" kernelMatrix="1 2 1 2 10 2 1 2 1"/></filter><filter id="w14" x="-5%" y="-5%" width="110%" height="110%"><feTurbulence type="fractalNoise" baseFrequency="1.6" numOctaves="2" seed="3"/><feColorMatrix type="matrix" values="0 0 0 0 0 0 0 0 0 0 0 0 0 0 0 -6 0 0 0 3.25"/><feComposite in2="SourceAlpha" operator="in"/><feConvolveMatrix order="3" kernelMatrix="1 2 1 2 10 2 1 2 1"/></filter><filter id="w15" x="-5%" y="-5%" width="110%" height="110%"><feTurbulence type="fractalNoise" baseFrequency="1.6" numOctaves="2" seed="3"/><feColorMatrix type="matrix" values="0 0 0 0 0 0 0 0 0 0 0 0 0 0 0 -6 0 0 0 4.06"/><feComposite in2="SourceAlpha" operator="in"/><feConvolveMatrix order="3" kernelMatrix="1 2 1 2 10 2 1 2 1"/></filter><filter id="w16" x="-5%" y="-5%" width="110%" height="110%"><feTurbulence type="fractalNoise" baseFrequency="1.6" numOctaves="2" seed="3"/><feColorMatrix type="matrix" values="0 0 0 0 0 0 0 0 0 0 0 0 0 0 0 -6 0 0 0 3.48"/><feComposite in2="SourceAlpha" operator="in"/><feConvolveMatrix order="3" kernelMatrix="1 2 1 2 10 2 1 2 1"/></filter><filter id="w17" x="-5%" y="-5%" width="110%" height="110%"><feTurbulence type="fractalNoise" baseFrequency="1.6" numOctaves="2" seed="3"/><feColorMatrix type="matrix" values="0 0 0 0 0 0 0 0 0 0 0 0 0 0 0 -6 0 0 0 2.29"/><feComposite in2="SourceAlpha" operator="in"/><feConvolveMatrix order="3" kernelMatrix="1 2 1 2 10 2 1 2 1"/></filter><filter id="w18" x="-5%" y="-5%" width="110%" height="110%"><feTurbulence type="fractalNoise" baseFrequency="1.6" numOctaves="2" seed="3"/><feColorMatrix type="matrix" values="0 0 0 0 0 0 0 0 0 0 0 0 0 0 0 -6 0 0 0 4.09"/><feComposite in2="SourceAlpha" operator="in"/><feConvolveMatrix order="3" kernelMatrix="1 2 1 2 10 2 1 2 1"/></filter><filter id="w19" x="-5%" y="-5%" width="110%" height="110%"><feTurbulence type="fractalNoise" baseFrequency="1.6" numOctaves="2" seed="3"/><feColorMatrix type="matrix" values="0 0 0 0 0 0 0 0 0 0 0 0 0 0 0 -6 0 0 0 2.48"/><feComposite in2="SourceAlpha" operator="in"/><feConvolveMatrix order="3" kernelMatrix="1 2 1 2 10 2 1 2 1"/></filter><filter id="w20" x="-5%" y="-5%" width="110%" height="110%"><feTurbulence type="fractalNoise" baseFrequency="1.6" numOctaves="2" seed="3"/><feColorMatrix type="matrix" values="0 0 0 0 0 0 0 0 0 0 0 0 0 0 0 -6 0 0 0 2.04"/><feComposite in2="SourceAlpha" operator="in"/><feConvolveMatrix order="3" kernelMatrix="1 2 1 2 10 2 1 2 1"/></filter><filter id="w21" x="-5%" y="-5%" width="110%" height="110%"><feTurbulence type="fractalNoise" baseFrequency="1.6" numOctaves="2" seed="3"/><feColorMatrix type="matrix" values="0 0 0 0 0 0 0 0 0 0 0 0 0 0 0 -6 0 0 0 4.17"/><feComposite in2="SourceAlpha" operator="in"/><feConvolveMatrix order="3" kernelMatrix="1 2 1 2 10 2 1 2 1"/></filter><filter id="w22" x="-5%" y="-5%" width="110%" height="110%"><feTurbulence type="fractalNoise" baseFrequency="1.6" numOctaves="2" seed="3"/><feColorMatrix type="matrix" values="0 0 0 0 0 0 0 0 0 0 0 0 0 0 0 -6 0 0 0 3.7"/><feComposite in2="SourceAlpha" operator="in"/><feConvolveMatrix order="3" kernelMatrix="1 2 1 2 10 2 1 2 1"/></filter><filter id="w23" x="-5%" y="-5%" width="110%" height="110%"><feTurbulence type="fractalNoise" baseFrequency="1.6" numOctaves="2" seed="3"/><feColorMatrix type="matrix" values="0 0 0 0 0 0 0 0 0 0 0 0 0 0 0 -6 0 0 0 2.7"/><feComposite in2="SourceAlpha" operator="in"/><feConvolveMatrix order="3" kernelMatrix="1 2 1 2 10 2 1 2 1"/></filter><filter id="w24" x="-5%" y="-5%" width="110%" height="110%"><feTurbulence type="fractalNoise" baseFrequency="1.6" numOctaves="2" seed="3"/><feColorMatrix type="matrix" values="0 0 0 0 0 0 0 0 0 0 0 0 0 0 0 -6 0 0 0 2.08"/><feComposite in2="SourceAlpha" operator="in"/><feConvolveMatrix order="3" kernelMatrix="1 2 1 2 10 2 1 2 1"/></filter><filter id="w25" x="-5%" y="-5%" width="110%" height="110%"><feTurbulence type="fractalNoise" baseFrequency="0.7" numOctaves="3" seed="3"/><feColorMatrix type="matrix" values="0 0 0 0 0 0 0 0 0 0 0 0 0 0 0 -6 0 0 0 4.43"/><feComposite in2="SourceAlpha" operator="in"/><feConvolveMatrix order="3" kernelMatrix="1 2 1 2 10 2 1 2 1"/></filter><filter id="w26" x="-5%" y="-5%" width="110%" height="110%"><feTurbulence type="fractalNoise" baseFrequency="0.7" numOctaves="3" seed="3"/><feColorMatrix type="matrix" values="0 0 0 0 0 0 0 0 0 0 0 0 0 0 0 -6 0 0 0 3.43"/><feComposite in2="SourceAlpha" operator="in"/><feConvolveMatrix order="3" kernelMatrix="1 2 1 2 10 2 1 2 1"/></filter><filter id="w27" x="-5%" y="-5%" width="110%" height="110%"><feTurbulence type="fractalNoise" baseFrequency="0.7" numOctaves="3" seed="3"/><feColorMatrix type="matrix" values="0 0 0 0 0 0 0 0 0 0 0 0 0 0 0 -6 0 0 0 2.57"/><feComposite in2="SourceAlpha" operator="in"/><feConvolveMatrix order="3" kernelMatrix="1 2 1 2 10 2 1 2 1"/></filter><filter id="w28" x="-5%" y="-5%" width="110%" height="110%"><feTurbulence type="fractalNoise" baseFrequency="1.6" numOctaves="2" seed="3"/><feColorMatrix type="matrix" values="0 0 0 0 0 0 0 0 0 0 0 0 0 0 0 -6 0 0 0 1.71"/><feComposite in2="SourceAlpha" operator="in"/><feConvolveMatrix order="3" kernelMatrix="1 2 1 2 10 2 1 2 1"/></filter><filter id="w29" x="-5%" y="-5%" width="110%" height="110%"><feTurbulence type="fractalNoise" baseFrequency="0.7" numOctaves="3" seed="3"/><feColorMatrix type="matrix" values="0 0 0 0 0 0 0 0 0 0 0 0 0 0 0 -6 0 0 0 4.35"/><feComposite in2="SourceAlpha" operator="in"/><feConvolveMatrix order="3" kernelMatrix="1 2 1 2 10 2 1 2 1"/></filter><filter id="w30" x="-5%" y="-5%" width="110%" height="110%"><feTurbulence type="fractalNoise" baseFrequency="1.6" numOctaves="2" seed="3"/><feColorMatrix type="matrix" values="0 0 0 0 0 0 0 0 0 0 0 0 0 0 0 -6 0 0 0 4.12"/><feComposite in2="SourceAlpha" operator="in"/><feConvolveMatrix order="3" kernelMatrix="1 2 1 2 10 2 1 2 1"/></filter><filter id="w31" x="-5%" y="-5%" width="110%" height="110%"><feTurbulence type="fractalNoise" baseFrequency="1.6" numOctaves="2" seed="3"/><feColorMatrix type="matrix" values="0 0 0 0 0 0 0 0 0 0 0 0 0 0 0 -6 0 0 0 3.83"/><feComposite in2="SourceAlpha" operator="in"/><feConvolveMatrix order="3" kernelMatrix="1 2 1 2 10 2 1 2 1"/></filter><filter id="w32" x="-5%" y="-5%" width="110%" height="110%"><feTurbulence type="fractalNoise" baseFrequency="1.6" numOctaves="2" seed="3"/><feColorMatrix type="matrix" values="0 0 0 0 0 0 0 0 0 0 0 0 0 0 0 -6 0 0 0 4.22"/><feComposite in2="SourceAlpha" operator="in"/><feConvolveMatrix order="3" kernelMatrix="1 2 1 2 10 2 1 2 1"/></filter><filter id="w33" x="-5%" y="-5%" width="110%" height="110%"><feTurbulence type="fractalNoise" baseFrequency="1.6" numOctaves="2" seed="3"/><feColorMatrix type="matrix" values="0 0 0 0 0 0 0 0 0 0 0 0 0 0 0 -6 0 0 0 3.62"/><feComposite in2="SourceAlpha" operator="in"/><feConvolveMatrix order="3" kernelMatrix="1 2 1 2 10 2 1 2 1"/></filter><filter id="w34" x="-5%" y="-5%" width="110%" height="110%"><feTurbulence type="fractalNoise" baseFrequency="0.7" numOctaves="3" seed="3"/><feColorMatrix type="matrix" values="0 0 0 0 0 0 0 0 0 0 0 0 0 0 0 -6 0 0 0 4"/><feComposite in2="SourceAlpha" operator="in"/><feConvolveMatrix order="3" kernelMatrix="1 2 1 2 10 2 1 2 1"/></filter><filter id="w35" x="-5%" y="-5%" width="110%" height="110%"><feTurbulence type="fractalNoise" baseFrequency="0.7" numOctaves="3" seed="3"/><feColorMatrix type="matrix" values="0 0 0 0 0 0 0 0 0 0 0 0 0 0 0 -6 0 0 0 3.37"/><feComposite in2="SourceAlpha" operator="in"/><feConvolveMatrix order="3" kernelMatrix="1 2 1 2 10 2 1 2 1"/></filter><filter id="w36" x="-5%" y="-5%" width="110%" height="110%"><feTurbulence type="fractalNoise" baseFrequency="0.7" numOctaves="3" seed="3"/><feColorMatrix type="matrix" values="0 0 0 0 0 0 0 0 0 0 0 0 0 0 0 -6 0 0 0 3.72"/><feComposite in2="SourceAlpha" operator="in"/><feConvolveMatrix order="3" kernelMatrix="1 2 1 2 10 2 1 2 1"/></filter><filter id="w37" x="-5%" y="-5%" width="110%" height="110%"><feTurbulence type="fractalNoise" baseFrequency="0.7" numOctaves="3" seed="3"/><feColorMatrix type="matrix" values="0 0 0 0 0 0 0 0 0 0 0 0 0 0 0 -6 0 0 0 4.39"/><feComposite in2="SourceAlpha" operator="in"/><feConvolveMatrix order="3" kernelMatrix="1 2 1 2 10 2 1 2 1"/></filter><filter id="w38" x="-5%" y="-5%" width="110%" height="110%"><feTurbulence type="fractalNoise" baseFrequency="0.7" numOctaves="3" seed="3"/><feColorMatrix type="matrix" values="0 0 0 0 0 0 0 0 0 0 0 0 0 0 0 -6 0 0 0 2.48"/><feComposite in2="SourceAlpha" operator="in"/><feConvolveMatrix order="3" kernelMatrix="1 2 1 2 10 2 1 2 1"/></filter><filter id="w39" x="-5%" y="-5%" width="110%" height="110%"><feTurbulence type="fractalNoise" baseFrequency="1.6" numOctaves="2" seed="3"/><feColorMatrix type="matrix" values="0 0 0 0 0 0 0 0 0 0 0 0 0 0 0 -6 0 0 0 3.88"/><feComposite in2="SourceAlpha" operator="in"/><feConvolveMatrix order="3" kernelMatrix="1 2 1 2 10 2 1 2 1"/></filter><filter id="w40" x="-5%" y="-5%" width="110%" height="110%"><feTurbulence type="fractalNoise" baseFrequency="1.6" numOctaves="2" seed="3"/><feColorMatrix type="matrix" values="0 0 0 0 0 0 0 0 0 0 0 0 0 0 0 -6 0 0 0 3.29"/><feComposite in2="SourceAlpha" operator="in"/><feConvolveMatrix order="3" kernelMatrix="1 2 1 2 10 2 1 2 1"/></filter><filter id="w41" x="-5%" y="-5%" width="110%" height="110%"><feTurbulence type="fractalNoise" baseFrequency="0.7" numOctaves="3" seed="3"/><feColorMatrix type="matrix" values="0 0 0 0 0 0 0 0 0 0 0 0 0 0 0 -6 0 0 0 3.92"/><feComposite in2="SourceAlpha" operator="in"/><feConvolveMatrix order="3" kernelMatrix="1 2 1 2 10 2 1 2 1"/></filter><filter id="w42" x="-5%" y="-5%" width="110%" height="110%"><feTurbulence type="fractalNoise" baseFrequency="1.6" numOctaves="2" seed="3"/><feColorMatrix type="matrix" values="0 0 0 0 0 0 0 0 0 0 0 0 0 0 0 -6 0 0 0 2.85"/><feComposite in2="SourceAlpha" operator="in"/><feConvolveMatrix order="3" kernelMatrix="1 2 1 2 10 2 1 2 1"/></filter><filter id="w43" x="-5%" y="-5%" width="110%" height="110%"><feTurbulence type="fractalNoise" baseFrequency="0.7" numOctaves="3" seed="3"/><feColorMatrix type="matrix" values="0 0 0 0 0 0 0 0 0 0 0 0 0 0 0 -6 0 0 0 3.56"/><feComposite in2="SourceAlpha" operator="in"/><feConvolveMatrix order="3" kernelMatrix="1 2 1 2 10 2 1 2 1"/></filter><filter id="w44" x="-5%" y="-5%" width="110%" height="110%"><feTurbulence type="fractalNoise" baseFrequency="0.7" numOctaves="3" seed="3"/><feColorMatrix type="matrix" values="0 0 0 0 0 0 0 0 0 0 0 0 0 0 0 -6 0 0 0 2.6"/><feComposite in2="SourceAlpha" operator="in"/><feConvolveMatrix order="3" kernelMatrix="1 2 1 2 10 2 1 2 1"/></filter><filter id="w45" x="-5%" y="-5%" width="110%" height="110%"><feTurbulence type="fractalNoise" baseFrequency="0.7" numOctaves="3" seed="3"/><feColorMatrix type="matrix" values="0 0 0 0 0 0 0 0 0 0 0 0 0 0 0 -6 0 0 0 3.41"/><feComposite in2="SourceAlpha" operator="in"/><feConvolveMatrix order="3" kernelMatrix="1 2 1 2 10 2 1 2 1"/></filter><filter id="w46" x="-5%" y="-5%" width="110%" height="110%"><feTurbulence type="fractalNoise" baseFrequency="1.6" numOctaves="2" seed="3"/><feColorMatrix type="matrix" values="0 0 0 0 0 0 0 0 0 0 0 0 0 0 0 -6 0 0 0 2.44"/><feComposite in2="SourceAlpha" operator="in"/><feConvolveMatrix order="3" kernelMatrix="1 2 1 2 10 2 1 2 1"/></filter><filter id="w47" x="-5%" y="-5%" width="110%" height="110%"><feTurbulence type="fractalNoise" baseFrequency="1.6" numOctaves="2" seed="3"/><feColorMatrix type="matrix" values="0 0 0 0 0 0 0 0 0 0 0 0 0 0 0 -6 0 0 0 2.65"/><feComposite in2="SourceAlpha" operator="in"/><feConvolveMatrix order="3" kernelMatrix="1 2 1 2 10 2 1 2 1"/></filter><filter id="w48" x="-5%" y="-5%" width="110%" height="110%"><feTurbulence type="fractalNoise" baseFrequency="1.6" numOctaves="2" seed="3"/><feColorMatrix type="matrix" values="0 0 0 0 0 0 0 0 0 0 0 0 0 0 0 -6 0 0 0 1.83"/><feComposite in2="SourceAlpha" operator="in"/><feConvolveMatrix order="3" kernelMatrix="1 2 1 2 10 2 1 2 1"/></filter><filter id="w49" x="-5%" y="-5%" width="110%" height="110%"><feTurbulence type="fractalNoise" baseFrequency="1.6" numOctaves="2" seed="3"/><feColorMatrix type="matrix" values="0 0 0 0 0 0 0 0 0 0 0 0 0 0 0 -6 0 0 0 2.79"/><feComposite in2="SourceAlpha" operator="in"/><feConvolveMatrix order="3" kernelMatrix="1 2 1 2 10 2 1 2 1"/></filter><filter id="w50" x="-5%" y="-5%" width="110%" height="110%"><feTurbulence type="fractalNoise" baseFrequency="1.6" numOctaves="2" seed="3"/><feColorMatrix type="matrix" values="0 0 0 0 0 0 0 0 0 0 0 0 0 0 0 -6 0 0 0 2.12"/><feComposite in2="SourceAlpha" operator="in"/><feConvolveMatrix order="3" kernelMatrix="1 2 1 2 10 2 1 2 1"/></filter><filter id="w51" x="-5%" y="-5%" width="110%" height="110%"><feTurbulence type="fractalNoise" baseFrequency="1.6" numOctaves="2" seed="3"/><feColorMatrix type="matrix" values="0 0 0 0 0 0 0 0 0 0 0 0 0 0 0 -6 0 0 0 1.76"/><feComposite in2="SourceAlpha" operator="in"/><feConvolveMatrix order="3" kernelMatrix="1 2 1 2 10 2 1 2 1"/></filter></defs>
</svg></body></html>
